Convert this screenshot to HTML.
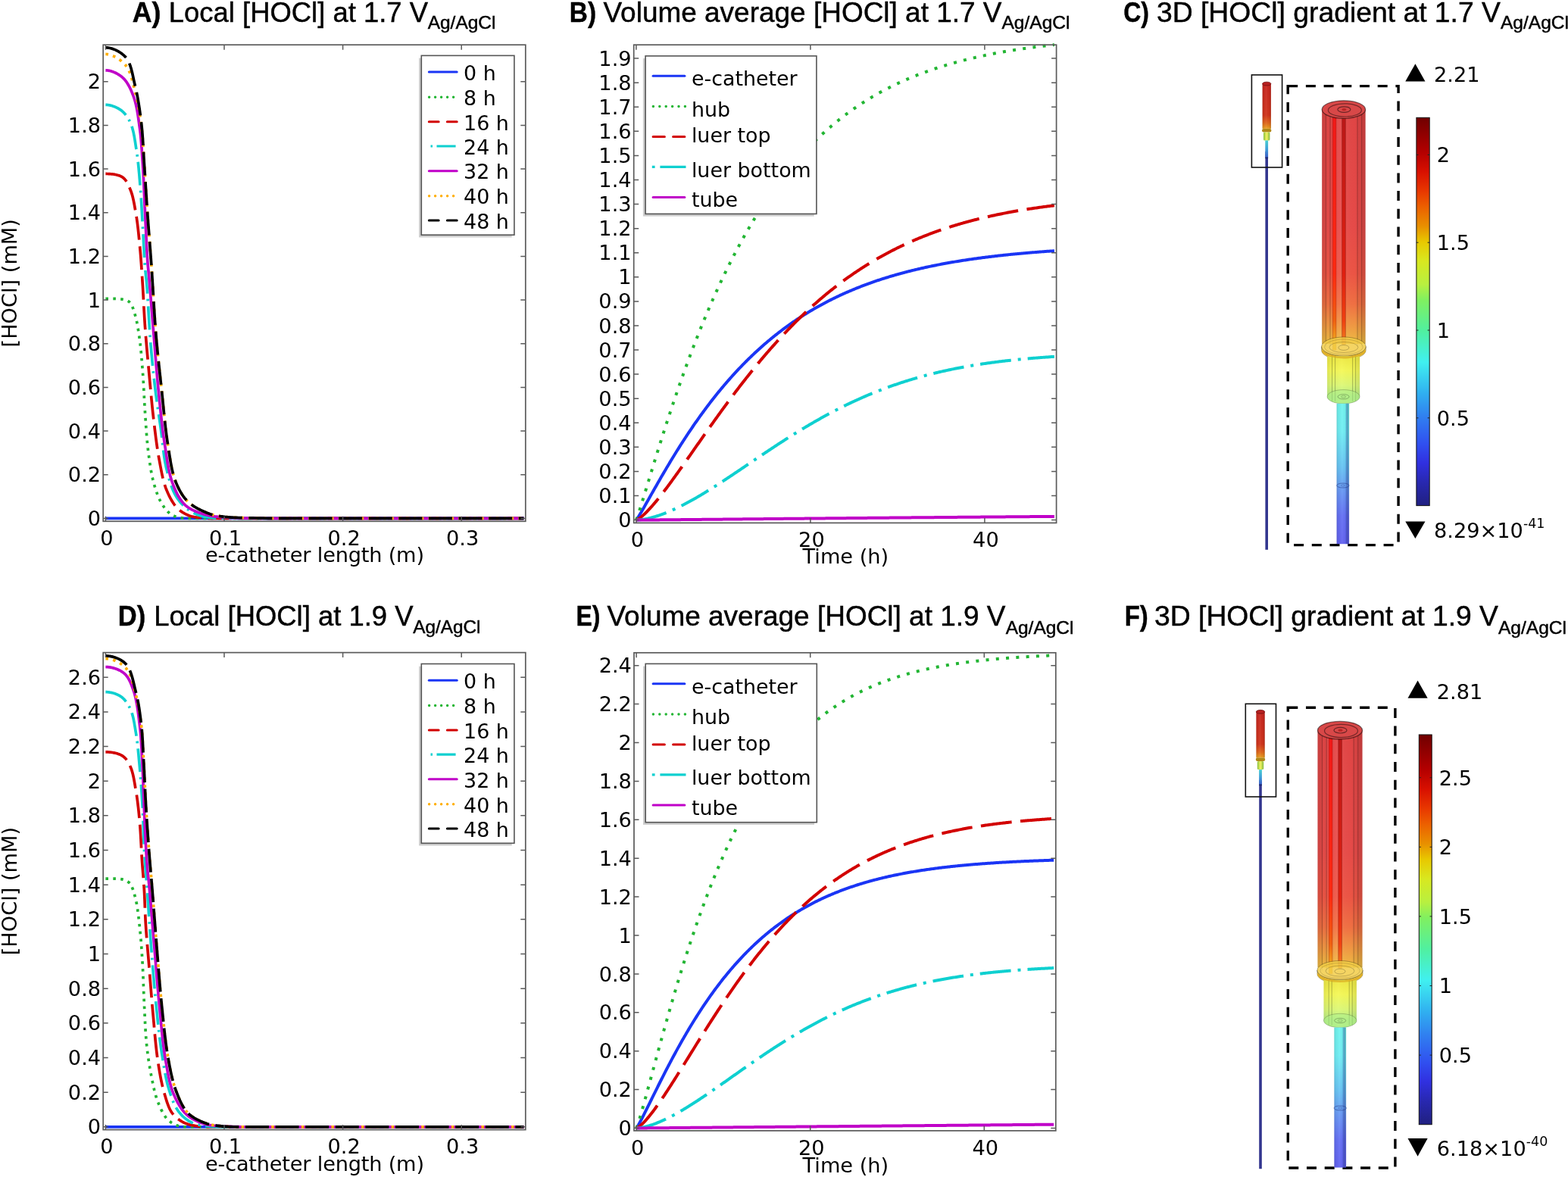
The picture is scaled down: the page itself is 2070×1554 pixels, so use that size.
<!DOCTYPE html><html><head><meta charset="utf-8"><style>html,body{margin:0;padding:0;background:#fff;overflow:hidden}svg{display:block}</style></head><body>
<svg width="2070" height="1554" viewBox="0 0 2070 1554">
<rect width="2070" height="1554" fill="#fff"/>
<defs>
<linearGradient id="cmap" x1="0" y1="0" x2="0" y2="1"><stop offset="0" stop-color="#700000"/><stop offset="0.09" stop-color="#b40000"/><stop offset="0.14" stop-color="#d81000"/><stop offset="0.19" stop-color="#e83800"/><stop offset="0.23" stop-color="#ec6000"/><stop offset="0.28" stop-color="#e89000"/><stop offset="0.32" stop-color="#e8c800"/><stop offset="0.37" stop-color="#d8e820"/><stop offset="0.43" stop-color="#b8f040"/><stop offset="0.47" stop-color="#80f060"/><stop offset="0.55" stop-color="#50f0a0"/><stop offset="0.63" stop-color="#40f0f0"/><stop offset="0.71" stop-color="#30b0f0"/><stop offset="0.77" stop-color="#3080f0"/><stop offset="0.84" stop-color="#3050f0"/><stop offset="0.89" stop-color="#3030e0"/><stop offset="0.94" stop-color="#2828b0"/><stop offset="1" stop-color="#202080"/></linearGradient>
<linearGradient id="hshade" x1="0" y1="0" x2="1" y2="0"><stop offset="0" stop-color="#000" stop-opacity="0.14"/><stop offset="0.12" stop-color="#000" stop-opacity="0.05"/><stop offset="0.45" stop-color="#fff" stop-opacity="0.06"/><stop offset="0.75" stop-color="#000" stop-opacity="0.02"/><stop offset="0.9" stop-color="#000" stop-opacity="0.1"/><stop offset="1" stop-color="#000" stop-opacity="0.18"/></linearGradient>
</defs>
<text x="174.8" y="29" style="font-family:'Liberation Sans',Arial,sans-serif;stroke:#000;stroke-width:0.45px;font-weight:bold" font-size="36.0" textLength="37.7" lengthAdjust="spacingAndGlyphs">A)</text>
<text x="222.8" y="29" style="font-family:'Liberation Sans',Arial,sans-serif;stroke:#000;stroke-width:0.45px" font-size="36.0" textLength="342.2" lengthAdjust="spacingAndGlyphs">Local [HOCl] at 1.7 V</text>
<text x="564.7" y="38.4" style="font-family:'Liberation Sans',Arial,sans-serif;stroke:#000;stroke-width:0.45px" font-size="23.6" textLength="89.8" lengthAdjust="spacingAndGlyphs">Ag/AgCl</text>
<text x="751.8" y="29" style="font-family:'Liberation Sans',Arial,sans-serif;stroke:#000;stroke-width:0.45px;font-weight:bold" font-size="36.0" textLength="35.2" lengthAdjust="spacingAndGlyphs">B)</text>
<text x="796.5" y="29" style="font-family:'Liberation Sans',Arial,sans-serif;stroke:#000;stroke-width:0.45px" font-size="36.0" textLength="526" lengthAdjust="spacingAndGlyphs">Volume average [HOCl] at 1.7 V</text>
<text x="1322.4" y="38.4" style="font-family:'Liberation Sans',Arial,sans-serif;stroke:#000;stroke-width:0.45px" font-size="23.6" textLength="90.1" lengthAdjust="spacingAndGlyphs">Ag/AgCl</text>
<text x="1483.3" y="29" style="font-family:'Liberation Sans',Arial,sans-serif;stroke:#000;stroke-width:0.45px;font-weight:bold" font-size="36.0" textLength="33.7" lengthAdjust="spacingAndGlyphs">C)</text>
<text x="1526.9" y="29" style="font-family:'Liberation Sans',Arial,sans-serif;stroke:#000;stroke-width:0.45px" font-size="36.0" textLength="454.1" lengthAdjust="spacingAndGlyphs">3D [HOCl] gradient at 1.7 V</text>
<text x="1981" y="38.4" style="font-family:'Liberation Sans',Arial,sans-serif;stroke:#000;stroke-width:0.45px" font-size="23.6" textLength="90" lengthAdjust="spacingAndGlyphs">Ag/AgCl</text>
<text x="155.8" y="826" style="font-family:'Liberation Sans',Arial,sans-serif;stroke:#000;stroke-width:0.45px;font-weight:bold" font-size="36.0" textLength="36.4" lengthAdjust="spacingAndGlyphs">D)</text>
<text x="203.3" y="826" style="font-family:'Liberation Sans',Arial,sans-serif;stroke:#000;stroke-width:0.45px" font-size="36.0" textLength="342.2" lengthAdjust="spacingAndGlyphs">Local [HOCl] at 1.9 V</text>
<text x="545.2" y="836.2" style="font-family:'Liberation Sans',Arial,sans-serif;stroke:#000;stroke-width:0.45px" font-size="23.6" textLength="89.3" lengthAdjust="spacingAndGlyphs">Ag/AgCl</text>
<text x="760.5" y="826" style="font-family:'Liberation Sans',Arial,sans-serif;stroke:#000;stroke-width:0.45px;font-weight:bold" font-size="36.0" textLength="32" lengthAdjust="spacingAndGlyphs">E)</text>
<text x="801.5" y="826" style="font-family:'Liberation Sans',Arial,sans-serif;stroke:#000;stroke-width:0.45px" font-size="36.0" textLength="526" lengthAdjust="spacingAndGlyphs">Volume average [HOCl] at 1.9 V</text>
<text x="1327.7" y="836.5" style="font-family:'Liberation Sans',Arial,sans-serif;stroke:#000;stroke-width:0.45px" font-size="23.6" textLength="89.8" lengthAdjust="spacingAndGlyphs">Ag/AgCl</text>
<text x="1484.8" y="826" style="font-family:'Liberation Sans',Arial,sans-serif;stroke:#000;stroke-width:0.45px;font-weight:bold" font-size="36.0" textLength="31" lengthAdjust="spacingAndGlyphs">F)</text>
<text x="1524" y="826" style="font-family:'Liberation Sans',Arial,sans-serif;stroke:#000;stroke-width:0.45px" font-size="36.0" textLength="454" lengthAdjust="spacingAndGlyphs">3D [HOCl] gradient at 1.9 V</text>
<text x="1978" y="836.5" style="font-family:'Liberation Sans',Arial,sans-serif;stroke:#000;stroke-width:0.45px" font-size="23.6" textLength="90" lengthAdjust="spacingAndGlyphs">Ag/AgCl</text>
<g style="font-family:'DejaVu Sans',sans-serif" font-size="27.2" fill="#000">
<path d="M139.4,684.4 H691.41" stroke="#1a35f5" stroke-width="3.7"/>
<path d="M139.4,394.37 L140.34,394.37 L141.3,394.36 L142.27,394.36 L143.25,394.35 L144.24,394.34 L145.24,394.33 L146.24,394.32 L147.24,394.32 L148.25,394.32 L149.25,394.32 L150.25,394.33 L151.24,394.34 L152.22,394.36 L153.19,394.38 L154.15,394.42 L155.09,394.46 L156.01,394.51 L156.92,394.58 L157.8,394.65 L158.65,394.74 L159.48,394.84 L160.29,394.96 L161.06,395.09 L161.79,395.24 L162.27,395.34 L162.73,395.44 L163.19,395.53 L163.64,395.63 L164.07,395.73 L164.5,395.82 L164.92,395.92 L165.33,396.03 L165.74,396.14 L166.13,396.25 L166.52,396.37 L166.91,396.5 L167.28,396.63 L167.65,396.78 L168.01,396.93 L168.37,397.1 L168.72,397.28 L169.06,397.48 L169.4,397.68 L169.74,397.91 L170.07,398.15 L170.39,398.41 L170.72,398.69 L171.03,398.98 L171.45,399.41 L171.85,399.87 L172.23,400.37 L172.6,400.89 L172.96,401.44 L173.31,402.02 L173.64,402.62 L173.96,403.25 L174.27,403.9 L174.57,404.58 L174.87,405.27 L175.15,405.98 L175.43,406.71 L175.7,407.45 L175.97,408.21 L176.23,408.98 L176.48,409.76 L176.74,410.55 L176.99,411.35 L177.24,412.15 L177.49,412.96 L177.74,413.78 L177.99,414.6 L178.24,415.42 L178.58,416.55 L178.9,417.72 L179.22,418.91 L179.53,420.13 L179.83,421.38 L180.12,422.66 L180.4,423.96 L180.68,425.28 L180.94,426.62 L181.2,427.98 L181.46,429.36 L181.7,430.75 L181.94,432.16 L182.18,433.59 L182.41,435.03 L182.64,436.47 L182.86,437.93 L183.08,439.4 L183.3,440.87 L183.51,442.35 L183.72,443.83 L183.93,445.31 L184.14,446.8 L184.34,448.28 L184.58,450.02 L184.81,451.78 L185.03,453.56 L185.25,455.36 L185.45,457.17 L185.65,459 L185.85,460.85 L186.04,462.7 L186.22,464.58 L186.4,466.46 L186.57,468.35 L186.74,470.26 L186.91,472.17 L187.07,474.09 L187.23,476.02 L187.38,477.96 L187.53,479.9 L187.69,481.84 L187.84,483.79 L187.98,485.74 L188.13,487.69 L188.28,489.64 L188.43,491.6 L188.57,493.55 L188.73,495.63 L188.87,497.73 L189.01,499.83 L189.15,501.95 L189.27,504.07 L189.4,506.21 L189.52,508.35 L189.63,510.5 L189.75,512.65 L189.86,514.81 L189.97,516.98 L190.08,519.14 L190.19,521.32 L190.3,523.49 L190.41,525.66 L190.52,527.84 L190.64,530.01 L190.75,532.18 L190.87,534.35 L191,536.52 L191.13,538.69 L191.26,540.85 L191.4,543 L191.55,545.15 L191.7,547.3 L191.84,549.45 L191.99,551.61 L192.13,553.78 L192.28,555.96 L192.42,558.13 L192.57,560.31 L192.72,562.49 L192.87,564.67 L193.02,566.84 L193.18,569.02 L193.34,571.19 L193.5,573.35 L193.67,575.51 L193.85,577.66 L194.03,579.81 L194.22,581.94 L194.41,584.06 L194.62,586.16 L194.83,588.26 L195.05,590.34 L195.28,592.4 L195.52,594.44 L195.78,596.47 L196.01,598.29 L196.25,600.1 L196.48,601.92 L196.72,603.73 L196.97,605.54 L197.22,607.34 L197.47,609.13 L197.73,610.92 L197.99,612.7 L198.26,614.48 L198.53,616.24 L198.82,617.99 L199.11,619.72 L199.41,621.45 L199.71,623.16 L200.03,624.85 L200.36,626.52 L200.7,628.18 L201.05,629.82 L201.41,631.44 L201.78,633.04 L202.17,634.61 L202.57,636.17 L202.98,637.7 L203.33,638.95 L203.69,640.19 L204.05,641.43 L204.41,642.66 L204.78,643.89 L205.16,645.1 L205.55,646.3 L205.94,647.5 L206.34,648.68 L206.74,649.84 L207.15,651 L207.57,652.14 L208,653.27 L208.44,654.38 L208.88,655.48 L209.34,656.56 L209.8,657.62 L210.27,658.66 L210.75,659.69 L211.24,660.69 L211.75,661.68 L212.26,662.64 L212.78,663.59 L213.32,664.51 L213.76,665.24 L214.2,665.97 L214.66,666.69 L215.12,667.4 L215.59,668.11 L216.06,668.8 L216.54,669.48 L217.02,670.16 L217.52,670.82 L218.01,671.47 L218.52,672.11 L219.03,672.73 L219.54,673.34 L220.06,673.94 L220.58,674.52 L221.11,675.08 L221.65,675.63 L222.19,676.15 L222.74,676.67 L223.29,677.16 L223.84,677.63 L224.4,678.08 L224.96,678.51 L225.53,678.92 L226.01,679.25 L226.49,679.56 L226.96,679.85 L227.44,680.13 L227.92,680.39 L228.39,680.64 L228.88,680.87 L229.36,681.09 L229.85,681.3 L230.34,681.5 L230.84,681.69 L231.34,681.86 L231.85,682.03 L232.36,682.2 L232.89,682.35 L233.42,682.5 L233.96,682.64 L234.51,682.78 L235.07,682.91 L235.64,683.04 L236.23,683.16 L236.82,683.29 L237.43,683.41 L238.06,683.54 L238.97,683.7 L239.91,683.84 L240.89,683.97 L241.89,684.08 L242.92,684.18 L243.98,684.26 L245.06,684.32 L246.16,684.38 L247.28,684.42 L248.41,684.45 L249.56,684.47 L250.72,684.49 L251.88,684.5 L253.06,684.5 L254.24,684.49 L255.42,684.48 L256.6,684.47 L257.78,684.46 L258.95,684.45 L260.12,684.43 L261.28,684.42 L262.43,684.41 L263.56,684.4 L264.68,684.4 L691.41,684.4" fill="none" stroke="#22b533" stroke-width="3.7" stroke-dasharray="3.6 6.3"  stroke-linejoin="round"/>
<path d="M139.4,229.46 L140.34,229.47 L141.3,229.48 L142.28,229.5 L143.27,229.54 L144.27,229.58 L145.27,229.64 L146.28,229.72 L147.3,229.81 L148.31,229.91 L149.32,230.03 L150.33,230.17 L151.32,230.33 L152.31,230.51 L153.29,230.71 L154.25,230.93 L155.19,231.18 L156.11,231.45 L157.01,231.74 L157.89,232.06 L158.73,232.4 L159.55,232.78 L160.33,233.18 L161.08,233.61 L161.79,234.08 L162.42,234.53 L163.01,235.01 L163.59,235.52 L164.14,236.06 L164.66,236.62 L165.17,237.2 L165.66,237.81 L166.12,238.44 L166.57,239.08 L167.01,239.75 L167.43,240.44 L167.84,241.14 L168.23,241.86 L168.62,242.59 L168.99,243.34 L169.36,244.1 L169.71,244.87 L170.07,245.65 L170.42,246.44 L170.76,247.24 L171.1,248.05 L171.44,248.86 L171.79,249.68 L172.13,250.51 L172.56,251.58 L172.97,252.68 L173.37,253.8 L173.75,254.95 L174.11,256.13 L174.47,257.33 L174.8,258.55 L175.13,259.79 L175.44,261.06 L175.74,262.33 L176.03,263.63 L176.32,264.94 L176.59,266.27 L176.86,267.6 L177.12,268.95 L177.38,270.31 L177.63,271.67 L177.88,273.05 L178.12,274.43 L178.36,275.81 L178.6,277.19 L178.85,278.58 L179.09,279.97 L179.33,281.36 L179.61,282.95 L179.88,284.56 L180.14,286.19 L180.39,287.83 L180.63,289.48 L180.87,291.15 L181.1,292.83 L181.32,294.52 L181.54,296.22 L181.75,297.93 L181.95,299.65 L182.15,301.39 L182.35,303.12 L182.54,304.87 L182.73,306.62 L182.92,308.38 L183.1,310.15 L183.28,311.91 L183.46,313.69 L183.64,315.46 L183.82,317.24 L183.99,319.02 L184.17,320.8 L184.34,322.58 L184.53,324.49 L184.71,326.41 L184.88,328.32 L185.06,330.24 L185.22,332.16 L185.38,334.08 L185.54,336.01 L185.7,337.95 L185.85,339.89 L186,341.84 L186.14,343.8 L186.29,345.76 L186.43,347.73 L186.57,349.72 L186.71,351.71 L186.84,353.71 L186.98,355.72 L187.12,357.74 L187.25,359.78 L187.39,361.83 L187.53,363.89 L187.67,365.96 L187.81,368.05 L187.95,370.15 L188.1,372.57 L188.26,375.01 L188.41,377.48 L188.56,379.97 L188.7,382.48 L188.84,385.01 L188.98,387.56 L189.12,390.13 L189.26,392.7 L189.4,395.29 L189.53,397.89 L189.67,400.5 L189.81,403.12 L189.95,405.74 L190.09,408.36 L190.24,410.99 L190.39,413.62 L190.54,416.24 L190.69,418.86 L190.85,421.48 L191.02,424.09 L191.19,426.68 L191.37,429.27 L191.55,431.85 L191.74,434.42 L191.93,436.99 L192.13,439.56 L192.33,442.14 L192.53,444.71 L192.74,447.28 L192.95,449.85 L193.17,452.42 L193.38,454.99 L193.6,457.56 L193.83,460.13 L194.05,462.7 L194.28,465.27 L194.51,467.84 L194.74,470.41 L194.98,472.98 L195.21,475.56 L195.45,478.13 L195.68,480.7 L195.92,483.27 L196.16,485.84 L196.4,488.41 L196.63,490.98 L196.87,493.55 L197.11,496.12 L197.35,498.71 L197.59,501.3 L197.82,503.9 L198.06,506.5 L198.3,509.1 L198.54,511.71 L198.78,514.32 L199.03,516.93 L199.27,519.54 L199.52,522.15 L199.76,524.75 L200.01,527.35 L200.27,529.94 L200.52,532.52 L200.78,535.1 L201.04,537.66 L201.31,540.21 L201.57,542.76 L201.85,545.29 L202.12,547.8 L202.4,550.3 L202.69,552.78 L202.98,555.24 L203.25,557.49 L203.51,559.73 L203.78,561.97 L204.05,564.21 L204.32,566.43 L204.59,568.66 L204.86,570.87 L205.14,573.08 L205.41,575.28 L205.69,577.47 L205.98,579.65 L206.26,581.82 L206.55,583.98 L206.85,586.13 L207.15,588.26 L207.46,590.39 L207.78,592.5 L208.1,594.6 L208.42,596.68 L208.76,598.74 L209.1,600.8 L209.45,602.83 L209.81,604.85 L210.18,606.85 L210.51,608.59 L210.83,610.33 L211.15,612.07 L211.47,613.8 L211.78,615.52 L212.1,617.24 L212.42,618.94 L212.75,620.64 L213.08,622.33 L213.41,624.01 L213.75,625.68 L214.11,627.33 L214.47,628.97 L214.84,630.59 L215.22,632.2 L215.62,633.79 L216.03,635.36 L216.46,636.91 L216.9,638.44 L217.36,639.95 L217.85,641.44 L218.35,642.91 L218.87,644.35 L219.42,645.77 L219.9,646.96 L220.39,648.14 L220.89,649.32 L221.4,650.49 L221.93,651.65 L222.46,652.81 L223,653.95 L223.55,655.08 L224.12,656.2 L224.69,657.31 L225.27,658.4 L225.87,659.47 L226.47,660.52 L227.09,661.56 L227.72,662.57 L228.35,663.56 L229,664.53 L229.66,665.48 L230.33,666.4 L231.01,667.29 L231.7,668.15 L232.4,668.99 L233.11,669.79 L233.83,670.56 L234.43,671.17 L235.04,671.77 L235.66,672.34 L236.28,672.9 L236.92,673.44 L237.55,673.96 L238.2,674.47 L238.85,674.96 L239.51,675.43 L240.18,675.89 L240.86,676.34 L241.54,676.77 L242.23,677.18 L242.92,677.58 L243.63,677.97 L244.34,678.35 L245.05,678.71 L245.78,679.06 L246.51,679.4 L247.25,679.73 L247.99,680.05 L248.75,680.36 L249.51,680.65 L250.27,680.94 L251.11,681.23 L251.96,681.5 L252.82,681.75 L253.7,681.98 L254.58,682.19 L255.48,682.38 L256.39,682.56 L257.31,682.72 L258.23,682.86 L259.17,682.99 L260.11,683.11 L261.05,683.22 L262,683.32 L262.95,683.41 L263.91,683.5 L264.87,683.57 L265.83,683.64 L266.79,683.71 L267.75,683.78 L268.71,683.84 L269.66,683.91 L270.62,683.97 L271.57,684.04 L272.51,684.11 L273.47,684.18 L274.44,684.24 L275.41,684.29 L276.38,684.34 L277.35,684.38 L278.33,684.41 L279.31,684.43 L280.28,684.45 L281.26,684.46 L282.24,684.47 L283.23,684.48 L284.21,684.48 L285.19,684.48 L286.17,684.47 L287.16,684.47 L288.14,684.46 L289.13,684.45 L290.11,684.44 L291.09,684.43 L292.08,684.42 L293.06,684.41 L294.04,684.41 L295.02,684.4 L296,684.4 L691.41,684.4" fill="none" stroke="#d20000" stroke-width="3.7" stroke-dasharray="31 8.6"  stroke-linejoin="round"/>
<path d="M139.4,138.36 L140.25,138.38 L141.12,138.42 L142,138.5 L142.88,138.61 L143.77,138.75 L144.67,138.92 L145.57,139.11 L146.47,139.33 L147.38,139.58 L148.28,139.85 L149.17,140.14 L150.06,140.45 L150.95,140.79 L151.83,141.14 L152.69,141.52 L153.55,141.91 L154.39,142.32 L155.22,142.74 L156.02,143.18 L156.81,143.64 L157.59,144.1 L158.33,144.58 L159.06,145.07 L159.76,145.57 L160.42,146.07 L161.07,146.58 L161.7,147.11 L162.31,147.66 L162.91,148.23 L163.5,148.81 L164.07,149.4 L164.63,150.02 L165.18,150.64 L165.71,151.29 L166.23,151.95 L166.74,152.63 L167.24,153.32 L167.73,154.03 L168.21,154.75 L168.68,155.49 L169.14,156.25 L169.59,157.02 L170.03,157.81 L170.47,158.62 L170.89,159.44 L171.31,160.28 L171.72,161.13 L172.13,162 L172.66,163.22 L173.17,164.48 L173.65,165.79 L174.11,167.14 L174.54,168.52 L174.95,169.95 L175.34,171.4 L175.71,172.89 L176.07,174.41 L176.41,175.96 L176.73,177.53 L177.04,179.13 L177.34,180.74 L177.63,182.38 L177.91,184.03 L178.18,185.69 L178.45,187.36 L178.71,189.04 L178.97,190.73 L179.23,192.43 L179.49,194.12 L179.75,195.81 L180.01,197.51 L180.27,199.19 L180.58,201.16 L180.87,203.16 L181.15,205.19 L181.43,207.24 L181.69,209.31 L181.94,211.41 L182.18,213.52 L182.41,215.65 L182.64,217.79 L182.86,219.95 L183.07,222.12 L183.27,224.3 L183.47,226.48 L183.67,228.67 L183.86,230.87 L184.04,233.07 L184.22,235.26 L184.4,237.46 L184.58,239.65 L184.75,241.84 L184.92,244.02 L185.1,246.2 L185.27,248.36 L185.44,250.51 L185.61,252.65 L185.77,254.8 L185.93,256.95 L186.08,259.1 L186.23,261.25 L186.37,263.4 L186.51,265.55 L186.64,267.7 L186.77,269.85 L186.9,272 L187.02,274.15 L187.14,276.31 L187.26,278.46 L187.38,280.61 L187.5,282.76 L187.62,284.91 L187.73,287.07 L187.85,289.22 L187.96,291.37 L188.08,293.52 L188.2,295.67 L188.32,297.82 L188.45,299.97 L188.57,302.11 L188.7,304.27 L188.82,306.47 L188.95,308.69 L189.07,310.93 L189.19,313.19 L189.32,315.47 L189.44,317.75 L189.56,320.04 L189.68,322.33 L189.8,324.61 L189.92,326.89 L190.04,329.15 L190.16,331.39 L190.28,333.61 L190.4,335.8 L190.53,337.95 L190.65,340.07 L190.77,342.14 L190.9,344.17 L191.03,346.15 L191.15,348.07 L191.28,349.92 L191.41,351.71 L191.55,353.43 L191.63,354.5 L191.72,355.51 L191.81,356.49 L191.9,357.42 L191.99,358.31 L192.07,359.17 L192.16,360.01 L192.25,360.83 L192.34,361.63 L192.43,362.42 L192.52,363.2 L192.61,363.99 L192.7,364.77 L192.79,365.57 L192.89,366.37 L192.98,367.2 L193.07,368.05 L193.16,368.92 L193.26,369.84 L193.35,370.78 L193.45,371.77 L193.55,372.81 L193.64,373.9 L193.74,375.05 L193.93,377.37 L194.11,379.85 L194.3,382.49 L194.49,385.27 L194.67,388.19 L194.86,391.22 L195.06,394.36 L195.25,397.6 L195.44,400.92 L195.64,404.31 L195.84,407.75 L196.04,411.25 L196.25,414.77 L196.46,418.32 L196.67,421.88 L196.88,425.44 L197.1,428.98 L197.33,432.49 L197.55,435.96 L197.78,439.39 L198.02,442.75 L198.26,446.03 L198.5,449.22 L198.75,452.32 L198.98,455.04 L199.21,457.75 L199.44,460.44 L199.68,463.12 L199.92,465.79 L200.16,468.44 L200.4,471.08 L200.65,473.71 L200.9,476.33 L201.16,478.94 L201.41,481.53 L201.67,484.12 L201.93,486.69 L202.2,489.25 L202.47,491.8 L202.74,494.34 L203.01,496.87 L203.29,499.39 L203.57,501.9 L203.85,504.4 L204.14,506.89 L204.43,509.37 L204.72,511.84 L205.02,514.3 L205.29,516.54 L205.57,518.75 L205.85,520.95 L206.13,523.14 L206.42,525.32 L206.72,527.48 L207.01,529.63 L207.31,531.77 L207.61,533.9 L207.92,536.03 L208.22,538.15 L208.53,540.26 L208.84,542.37 L209.15,544.48 L209.46,546.58 L209.77,548.69 L210.08,550.79 L210.39,552.9 L210.7,555.01 L211,557.12 L211.31,559.23 L211.61,561.35 L211.92,563.48 L212.22,565.62 L212.51,567.78 L212.8,569.95 L213.07,572.13 L213.33,574.32 L213.59,576.53 L213.84,578.74 L214.09,580.95 L214.34,583.17 L214.59,585.38 L214.84,587.6 L215.09,589.81 L215.35,592.01 L215.61,594.21 L215.88,596.39 L216.16,598.57 L216.46,600.73 L216.76,602.87 L217.09,604.99 L217.42,607.1 L217.78,609.18 L218.16,611.23 L218.56,613.26 L218.98,615.26 L219.42,617.23 L219.82,618.91 L220.22,620.6 L220.63,622.29 L221.05,623.97 L221.47,625.64 L221.9,627.31 L222.34,628.97 L222.78,630.62 L223.24,632.26 L223.71,633.88 L224.19,635.49 L224.68,637.08 L225.18,638.65 L225.7,640.2 L226.23,641.72 L226.78,643.23 L227.34,644.7 L227.92,646.15 L228.52,647.56 L229.13,648.95 L229.77,650.3 L230.42,651.61 L231.1,652.89 L231.79,654.13 L232.36,655.09 L232.94,656.03 L233.53,656.96 L234.14,657.87 L234.75,658.76 L235.37,659.63 L236.01,660.48 L236.65,661.32 L237.3,662.14 L237.97,662.95 L238.64,663.73 L239.33,664.51 L240.02,665.26 L240.72,666 L241.43,666.73 L242.15,667.43 L242.88,668.13 L243.62,668.81 L244.37,669.47 L245.13,670.12 L245.89,670.76 L246.67,671.38 L247.45,671.99 L248.24,672.58 L249,673.14 L249.76,673.67 L250.53,674.2 L251.3,674.71 L252.08,675.2 L252.86,675.68 L253.65,676.14 L254.44,676.59 L255.25,677.03 L256.06,677.45 L256.89,677.86 L257.72,678.26 L258.57,678.64 L259.42,679.01 L260.3,679.37 L261.18,679.72 L262.09,680.05 L263.01,680.37 L263.94,680.69 L264.9,680.99 L265.87,681.28 L266.86,681.56 L267.87,681.83 L268.91,682.09 L270.37,682.43 L271.88,682.72 L273.44,682.98 L275.05,683.21 L276.69,683.4 L278.38,683.57 L280.1,683.71 L281.85,683.82 L283.63,683.91 L285.44,683.99 L287.27,684.04 L289.12,684.09 L290.98,684.11 L292.86,684.13 L294.75,684.14 L296.64,684.15 L298.54,684.15 L300.44,684.15 L302.33,684.15 L304.22,684.16 L306.1,684.17 L307.97,684.18 L309.83,684.21 L311.66,684.26 L313.57,684.3 L315.5,684.34 L317.43,684.38 L319.36,684.41 L321.3,684.43 L323.25,684.45 L325.2,684.47 L327.15,684.48 L329.11,684.48 L331.08,684.48 L333.04,684.48 L335.01,684.48 L336.98,684.48 L338.95,684.47 L340.92,684.46 L342.9,684.45 L344.87,684.44 L346.84,684.44 L348.81,684.43 L350.78,684.42 L352.75,684.41 L354.72,684.4 L356.68,684.4 L358.64,684.4 L691.41,684.4" fill="none" stroke="#0fd0d0" stroke-width="3.7" stroke-dasharray="31 7 2.8 7"  stroke-linejoin="round"/>
<path d="M139.4,92.81 L140.34,92.83 L141.29,92.89 L142.26,93 L143.23,93.15 L144.22,93.33 L145.2,93.55 L146.2,93.81 L147.19,94.1 L148.18,94.42 L149.17,94.78 L150.16,95.16 L151.14,95.58 L152.12,96.02 L153.08,96.49 L154.04,96.98 L154.98,97.5 L155.9,98.04 L156.81,98.6 L157.7,99.18 L158.57,99.78 L159.41,100.39 L160.23,101.02 L161.03,101.67 L161.79,102.32 L162.6,103.06 L163.38,103.83 L164.14,104.64 L164.87,105.49 L165.59,106.36 L166.28,107.27 L166.96,108.2 L167.62,109.16 L168.26,110.15 L168.88,111.16 L169.49,112.2 L170.08,113.25 L170.65,114.33 L171.21,115.43 L171.76,116.54 L172.3,117.67 L172.82,118.82 L173.33,119.98 L173.83,121.14 L174.32,122.32 L174.8,123.51 L175.28,124.71 L175.74,125.91 L176.2,127.12 L176.74,128.59 L177.25,130.11 L177.73,131.65 L178.2,133.22 L178.63,134.82 L179.05,136.45 L179.44,138.1 L179.82,139.77 L180.18,141.46 L180.52,143.18 L180.85,144.91 L181.17,146.66 L181.47,148.42 L181.76,150.2 L182.04,151.99 L182.31,153.78 L182.58,155.59 L182.84,157.41 L183.09,159.22 L183.34,161.05 L183.59,162.87 L183.84,164.7 L184.09,166.52 L184.34,168.34 L184.62,170.36 L184.88,172.4 L185.12,174.44 L185.36,176.5 L185.58,178.56 L185.79,180.64 L185.99,182.73 L186.18,184.83 L186.36,186.94 L186.54,189.06 L186.7,191.19 L186.86,193.33 L187.02,195.48 L187.17,197.64 L187.31,199.8 L187.46,201.98 L187.6,204.16 L187.73,206.35 L187.87,208.55 L188.01,210.76 L188.15,212.98 L188.29,215.2 L188.43,217.43 L188.57,219.66 L188.73,222.12 L188.88,224.6 L189.03,227.1 L189.17,229.61 L189.3,232.14 L189.43,234.68 L189.56,237.23 L189.69,239.8 L189.81,242.37 L189.93,244.95 L190.04,247.54 L190.16,250.14 L190.27,252.74 L190.39,255.35 L190.5,257.96 L190.61,260.57 L190.72,263.18 L190.83,265.79 L190.95,268.4 L191.06,271 L191.18,273.6 L191.3,276.19 L191.42,278.78 L191.55,281.36 L191.68,283.96 L191.8,286.61 L191.93,289.3 L192.06,292.01 L192.18,294.76 L192.31,297.52 L192.44,300.3 L192.56,303.08 L192.69,305.87 L192.82,308.64 L192.95,311.41 L193.07,314.15 L193.2,316.87 L193.33,319.56 L193.46,322.22 L193.59,324.82 L193.73,327.38 L193.86,329.88 L193.99,332.32 L194.13,334.69 L194.26,336.98 L194.4,339.19 L194.54,341.31 L194.68,343.34 L194.77,344.54 L194.85,345.69 L194.94,346.78 L195.02,347.83 L195.11,348.83 L195.19,349.8 L195.28,350.74 L195.36,351.66 L195.45,352.55 L195.53,353.43 L195.62,354.31 L195.71,355.18 L195.8,356.05 L195.88,356.92 L195.98,357.81 L196.07,358.72 L196.16,359.65 L196.26,360.61 L196.35,361.61 L196.45,362.64 L196.55,363.72 L196.66,364.85 L196.76,366.03 L196.87,367.27 L197.07,369.6 L197.28,372.06 L197.5,374.66 L197.72,377.37 L197.96,380.19 L198.2,383.11 L198.44,386.13 L198.69,389.22 L198.95,392.39 L199.21,395.62 L199.47,398.91 L199.74,402.24 L200.01,405.6 L200.28,408.99 L200.56,412.4 L200.83,415.81 L201.1,419.22 L201.38,422.62 L201.65,425.99 L201.92,429.34 L202.19,432.64 L202.46,435.9 L202.72,439.1 L202.98,442.23 L203.23,445.26 L203.48,448.28 L203.72,451.31 L203.97,454.33 L204.21,457.34 L204.45,460.35 L204.69,463.36 L204.93,466.37 L205.16,469.37 L205.4,472.37 L205.65,475.37 L205.89,478.37 L206.13,481.37 L206.38,484.36 L206.63,487.36 L206.88,490.35 L207.14,493.34 L207.4,496.34 L207.67,499.33 L207.94,502.32 L208.22,505.32 L208.5,508.31 L208.79,511.31 L209.09,514.3 L209.39,517.31 L209.69,520.33 L209.99,523.37 L210.3,526.42 L210.6,529.48 L210.91,532.55 L211.22,535.63 L211.54,538.7 L211.86,541.78 L212.18,544.85 L212.51,547.92 L212.84,550.98 L213.18,554.02 L213.53,557.06 L213.88,560.08 L214.23,563.07 L214.6,566.05 L214.97,569.01 L215.35,571.94 L215.74,574.83 L216.14,577.7 L216.54,580.54 L216.96,583.33 L217.39,586.09 L217.75,588.42 L218.11,590.76 L218.46,593.08 L218.8,595.4 L219.15,597.71 L219.49,600.02 L219.83,602.31 L220.18,604.58 L220.54,606.84 L220.9,609.09 L221.26,611.31 L221.64,613.51 L222.04,615.7 L222.44,617.85 L222.87,619.98 L223.31,622.09 L223.77,624.16 L224.26,626.2 L224.76,628.21 L225.3,630.18 L225.86,632.12 L226.45,634.02 L227.07,635.88 L227.72,637.7 L228.26,639.12 L228.8,640.53 L229.35,641.92 L229.91,643.31 L230.48,644.68 L231.06,646.03 L231.65,647.37 L232.25,648.69 L232.87,650 L233.49,651.28 L234.13,652.54 L234.79,653.78 L235.47,655 L236.16,656.19 L236.86,657.35 L237.59,658.5 L238.34,659.61 L239.1,660.69 L239.89,661.75 L240.7,662.77 L241.53,663.76 L242.38,664.72 L243.26,665.64 L244.17,666.53 L245.02,667.3 L245.9,668.05 L246.8,668.77 L247.73,669.46 L248.68,670.12 L249.66,670.76 L250.65,671.37 L251.66,671.95 L252.69,672.52 L253.73,673.06 L254.78,673.58 L255.85,674.08 L256.93,674.56 L258.01,675.02 L259.1,675.47 L260.19,675.9 L261.29,676.32 L262.39,676.72 L263.48,677.11 L264.58,677.49 L265.67,677.86 L266.76,678.22 L267.84,678.58 L268.91,678.92 L269.93,679.24 L270.95,679.54 L271.97,679.82 L272.97,680.08 L273.98,680.32 L274.98,680.54 L275.99,680.75 L276.99,680.94 L278,681.12 L279.01,681.29 L280.03,681.45 L281.05,681.59 L282.08,681.73 L283.13,681.86 L284.18,681.98 L285.25,682.1 L286.33,682.21 L287.43,682.32 L288.54,682.42 L289.68,682.53 L290.83,682.63 L292.01,682.74 L293.21,682.85 L294.43,682.96 L296.16,683.11 L297.93,683.24 L299.76,683.36 L301.63,683.47 L303.54,683.57 L305.49,683.65 L307.47,683.73 L309.48,683.8 L311.53,683.85 L313.59,683.91 L315.68,683.95 L317.78,683.99 L319.89,684.02 L322.01,684.05 L324.14,684.07 L326.28,684.09 L328.41,684.11 L330.53,684.13 L332.65,684.15 L334.75,684.16 L336.84,684.18 L338.91,684.2 L340.96,684.23 L342.98,684.26 L344.95,684.28 L346.92,684.31 L348.89,684.33 L350.85,684.35 L352.82,684.36 L354.78,684.38 L356.74,684.39 L358.7,684.4 L360.65,684.4 L362.61,684.41 L364.56,684.41 L366.52,684.42 L368.47,684.42 L370.42,684.42 L372.38,684.42 L374.33,684.41 L376.28,684.41 L378.23,684.41 L380.19,684.41 L382.14,684.41 L384.09,684.4 L386.05,684.4 L388,684.4 L389.96,684.4 L691.41,684.4" fill="none" stroke="#c000c8" stroke-width="3.7"   stroke-linejoin="round"/>
<path d="M139.4,71.47 L140.51,71.51 L141.65,71.62 L142.81,71.8 L143.98,72.04 L145.16,72.34 L146.36,72.71 L147.56,73.13 L148.76,73.61 L149.96,74.14 L151.16,74.71 L152.35,75.33 L153.54,75.99 L154.71,76.7 L155.87,77.44 L157,78.21 L158.12,79.01 L159.21,79.84 L160.27,80.69 L161.3,81.57 L162.29,82.47 L163.25,83.38 L164.17,84.3 L165.04,85.24 L165.87,86.18 L166.72,87.25 L167.53,88.37 L168.29,89.54 L169,90.77 L169.67,92.03 L170.3,93.35 L170.9,94.7 L171.46,96.09 L172,97.51 L172.5,98.96 L172.98,100.44 L173.44,101.94 L173.88,103.46 L174.3,105.01 L174.71,106.57 L175.11,108.14 L175.5,109.72 L175.88,111.3 L176.27,112.89 L176.65,114.48 L177.03,116.06 L177.42,117.64 L177.82,119.21 L178.24,120.77 L178.7,122.51 L179.14,124.25 L179.58,126.01 L180,127.79 L180.42,129.58 L180.82,131.38 L181.21,133.19 L181.59,135.01 L181.96,136.85 L182.32,138.69 L182.68,140.55 L183.02,142.42 L183.35,144.29 L183.68,146.18 L184,148.07 L184.31,149.98 L184.61,151.89 L184.9,153.81 L185.19,155.73 L185.47,157.67 L185.75,159.61 L186.02,161.55 L186.28,163.5 L186.54,165.46 L186.81,167.61 L187.06,169.77 L187.3,171.94 L187.52,174.13 L187.73,176.33 L187.93,178.54 L188.11,180.75 L188.29,182.98 L188.46,185.22 L188.62,187.47 L188.77,189.73 L188.91,191.99 L189.06,194.26 L189.19,196.54 L189.33,198.83 L189.46,201.13 L189.6,203.43 L189.73,205.73 L189.87,208.04 L190,210.36 L190.15,212.68 L190.29,215 L190.45,217.33 L190.61,219.66 L190.78,222.15 L190.95,224.65 L191.13,227.16 L191.29,229.67 L191.46,232.2 L191.63,234.73 L191.79,237.26 L191.96,239.81 L192.12,242.36 L192.28,244.92 L192.45,247.48 L192.61,250.05 L192.78,252.63 L192.94,255.22 L193.11,257.81 L193.27,260.4 L193.44,263 L193.61,265.61 L193.78,268.22 L193.96,270.84 L194.13,273.46 L194.31,276.09 L194.49,278.72 L194.68,281.36 L194.88,284.14 L195.08,286.92 L195.28,289.69 L195.49,292.47 L195.7,295.24 L195.91,298.02 L196.12,300.8 L196.33,303.58 L196.55,306.38 L196.76,309.17 L196.98,311.98 L197.2,314.8 L197.42,317.63 L197.64,320.48 L197.86,323.34 L198.08,326.21 L198.31,329.11 L198.53,332.02 L198.75,334.95 L198.97,337.91 L199.19,340.88 L199.41,343.89 L199.63,346.92 L199.85,349.97 L200.1,353.56 L200.34,357.22 L200.59,360.93 L200.83,364.69 L201.07,368.5 L201.31,372.35 L201.55,376.23 L201.79,380.14 L202.03,384.07 L202.26,388.03 L202.51,391.99 L202.75,395.96 L202.99,399.94 L203.24,403.91 L203.49,407.87 L203.74,411.82 L204,415.75 L204.26,419.65 L204.53,423.52 L204.8,427.36 L205.08,431.15 L205.36,434.9 L205.66,438.59 L205.96,442.23 L206.23,445.4 L206.5,448.55 L206.78,451.67 L207.07,454.76 L207.35,457.83 L207.65,460.88 L207.94,463.91 L208.24,466.93 L208.55,469.92 L208.85,472.91 L209.16,475.88 L209.47,478.84 L209.78,481.79 L210.1,484.74 L210.42,487.68 L210.73,490.63 L211.06,493.57 L211.38,496.51 L211.7,499.45 L212.02,502.41 L212.34,505.36 L212.67,508.33 L212.99,511.31 L213.32,514.3 L213.64,517.31 L213.95,520.34 L214.26,523.38 L214.57,526.44 L214.88,529.51 L215.19,532.58 L215.49,535.67 L215.8,538.75 L216.11,541.84 L216.42,544.92 L216.73,548 L217.05,551.06 L217.37,554.12 L217.7,557.16 L218.03,560.18 L218.38,563.18 L218.72,566.16 L219.08,569.11 L219.45,572.03 L219.83,574.92 L220.22,577.77 L220.62,580.59 L221.03,583.36 L221.46,586.09 L221.82,588.35 L222.17,590.61 L222.52,592.87 L222.86,595.11 L223.2,597.35 L223.54,599.57 L223.88,601.78 L224.23,603.97 L224.58,606.15 L224.94,608.31 L225.31,610.45 L225.69,612.57 L226.08,614.67 L226.49,616.74 L226.91,618.78 L227.36,620.79 L227.82,622.78 L228.31,624.73 L228.82,626.65 L229.35,628.53 L229.92,630.38 L230.51,632.18 L231.14,633.95 L231.79,635.68 L232.33,637.01 L232.87,638.33 L233.43,639.62 L233.99,640.9 L234.56,642.17 L235.14,643.41 L235.73,644.63 L236.34,645.84 L236.96,647.03 L237.59,648.19 L238.23,649.34 L238.89,650.47 L239.57,651.58 L240.26,652.68 L240.97,653.75 L241.7,654.8 L242.44,655.83 L243.21,656.84 L243.99,657.84 L244.8,658.81 L245.62,659.76 L246.47,660.69 L247.34,661.6 L248.24,662.49 L249.16,663.35 L250.11,664.19 L251.1,665.01 L252.13,665.81 L253.18,666.59 L254.26,667.35 L255.37,668.1 L256.5,668.82 L257.64,669.52 L258.8,670.21 L259.97,670.87 L261.15,671.52 L262.34,672.14 L263.53,672.75 L264.73,673.34 L265.92,673.9 L267.1,674.45 L268.28,674.98 L269.45,675.49 L270.6,675.99 L271.74,676.46 L272.85,676.92 L273.95,677.35 L275.02,677.77 L275.85,678.09 L276.67,678.38 L277.47,678.66 L278.25,678.93 L279.03,679.17 L279.79,679.4 L280.54,679.62 L281.29,679.82 L282.03,680.01 L282.78,680.19 L283.52,680.36 L284.27,680.52 L285.03,680.67 L285.79,680.82 L286.57,680.96 L287.36,681.09 L288.16,681.22 L288.98,681.34 L289.83,681.47 L290.69,681.59 L291.58,681.71 L292.5,681.84 L293.45,681.96 L294.43,682.09 L296.03,682.29 L297.68,682.47 L299.4,682.63 L301.17,682.78 L302.99,682.92 L304.86,683.04 L306.78,683.16 L308.74,683.26 L310.74,683.35 L312.77,683.43 L314.84,683.5 L316.93,683.57 L319.05,683.63 L321.19,683.68 L323.35,683.73 L325.52,683.78 L327.7,683.82 L329.89,683.86 L332.08,683.9 L334.27,683.94 L336.46,683.98 L338.65,684.02 L340.82,684.06 L342.98,684.11 L345.44,684.16 L347.92,684.21 L350.43,684.25 L352.96,684.29 L355.51,684.32 L358.08,684.35 L360.66,684.37 L363.27,684.39 L365.88,684.4 L368.51,684.41 L371.15,684.42 L373.8,684.43 L376.46,684.43 L379.12,684.43 L381.78,684.43 L384.44,684.43 L387.11,684.42 L389.77,684.42 L392.43,684.41 L395.09,684.41 L397.74,684.41 L400.37,684.4 L403,684.4 L405.62,684.4 L691.41,684.4" fill="none" stroke="#ffae00" stroke-width="3.7" stroke-dasharray="3.6 6.3"  stroke-linejoin="round"/>
<path d="M139.4,62.83 L140.51,62.85 L141.65,62.94 L142.81,63.07 L143.98,63.26 L145.16,63.5 L146.36,63.79 L147.56,64.12 L148.76,64.5 L149.97,64.93 L151.17,65.4 L152.36,65.9 L153.55,66.45 L154.72,67.04 L155.87,67.66 L157.01,68.31 L158.13,69 L159.22,69.72 L160.28,70.47 L161.31,71.25 L162.3,72.06 L163.26,72.89 L164.17,73.74 L165.04,74.61 L165.87,75.51 L166.76,76.59 L167.6,77.74 L168.38,78.96 L169.11,80.24 L169.8,81.58 L170.44,82.97 L171.04,84.41 L171.61,85.89 L172.14,87.42 L172.64,88.99 L173.12,90.59 L173.57,92.22 L173.99,93.87 L174.41,95.55 L174.8,97.25 L175.19,98.96 L175.56,100.68 L175.93,102.41 L176.3,104.14 L176.67,105.87 L177.05,107.6 L177.43,109.31 L177.83,111.02 L178.24,112.7 L178.7,114.6 L179.15,116.53 L179.59,118.46 L180.02,120.42 L180.43,122.39 L180.84,124.38 L181.23,126.39 L181.61,128.41 L181.98,130.44 L182.34,132.48 L182.69,134.54 L183.03,136.61 L183.37,138.68 L183.69,140.77 L184.01,142.87 L184.32,144.97 L184.62,147.08 L184.91,149.2 L185.19,151.32 L185.47,153.45 L185.75,155.59 L186.02,157.72 L186.28,159.86 L186.54,162 L186.8,164.31 L187.05,166.63 L187.29,168.96 L187.51,171.31 L187.72,173.66 L187.91,176.03 L188.1,178.41 L188.27,180.79 L188.44,183.18 L188.6,185.58 L188.75,187.99 L188.9,190.41 L189.04,192.83 L189.18,195.25 L189.31,197.68 L189.45,200.12 L189.58,202.55 L189.72,204.99 L189.86,207.44 L190,209.88 L190.14,212.33 L190.29,214.77 L190.45,217.22 L190.61,219.66 L190.78,222.19 L190.95,224.72 L191.12,227.25 L191.29,229.78 L191.45,232.32 L191.62,234.86 L191.78,237.4 L191.95,239.95 L192.11,242.5 L192.27,245.05 L192.44,247.61 L192.6,250.17 L192.77,252.74 L192.93,255.31 L193.1,257.89 L193.27,260.47 L193.44,263.06 L193.61,265.65 L193.78,268.25 L193.96,270.86 L194.13,273.47 L194.31,276.09 L194.49,278.72 L194.68,281.36 L194.88,284.14 L195.08,286.92 L195.28,289.69 L195.49,292.47 L195.7,295.24 L195.91,298.02 L196.12,300.8 L196.33,303.58 L196.55,306.38 L196.76,309.17 L196.98,311.98 L197.2,314.8 L197.42,317.63 L197.64,320.48 L197.86,323.34 L198.08,326.21 L198.31,329.11 L198.53,332.02 L198.75,334.95 L198.97,337.91 L199.19,340.88 L199.41,343.89 L199.63,346.92 L199.85,349.97 L200.1,353.56 L200.34,357.22 L200.59,360.93 L200.83,364.69 L201.07,368.5 L201.31,372.35 L201.55,376.23 L201.79,380.14 L202.03,384.07 L202.26,388.03 L202.51,391.99 L202.75,395.96 L202.99,399.94 L203.24,403.91 L203.49,407.87 L203.74,411.82 L204,415.75 L204.26,419.65 L204.53,423.52 L204.8,427.36 L205.08,431.15 L205.36,434.9 L205.66,438.59 L205.96,442.23 L206.23,445.4 L206.5,448.55 L206.78,451.67 L207.07,454.76 L207.35,457.83 L207.65,460.88 L207.94,463.91 L208.24,466.93 L208.55,469.92 L208.85,472.91 L209.16,475.88 L209.47,478.84 L209.78,481.79 L210.1,484.74 L210.42,487.68 L210.73,490.63 L211.06,493.57 L211.38,496.51 L211.7,499.45 L212.02,502.41 L212.34,505.36 L212.67,508.33 L212.99,511.31 L213.32,514.3 L213.64,517.31 L213.95,520.34 L214.26,523.38 L214.57,526.44 L214.88,529.51 L215.19,532.58 L215.49,535.67 L215.8,538.75 L216.11,541.84 L216.42,544.92 L216.73,548 L217.05,551.06 L217.37,554.12 L217.7,557.16 L218.03,560.18 L218.38,563.18 L218.72,566.16 L219.08,569.11 L219.45,572.03 L219.83,574.92 L220.22,577.77 L220.62,580.59 L221.03,583.36 L221.46,586.09 L221.82,588.35 L222.17,590.61 L222.52,592.87 L222.86,595.11 L223.2,597.35 L223.54,599.57 L223.88,601.78 L224.23,603.97 L224.58,606.15 L224.94,608.31 L225.31,610.45 L225.69,612.57 L226.08,614.67 L226.49,616.74 L226.91,618.78 L227.36,620.79 L227.82,622.78 L228.31,624.73 L228.82,626.65 L229.35,628.53 L229.92,630.38 L230.51,632.18 L231.14,633.95 L231.79,635.68 L232.33,637.01 L232.87,638.33 L233.43,639.62 L233.99,640.9 L234.56,642.17 L235.14,643.41 L235.73,644.63 L236.34,645.84 L236.96,647.03 L237.59,648.19 L238.23,649.34 L238.89,650.47 L239.57,651.58 L240.26,652.68 L240.97,653.75 L241.7,654.8 L242.44,655.83 L243.21,656.84 L243.99,657.84 L244.8,658.81 L245.62,659.76 L246.47,660.69 L247.34,661.6 L248.24,662.49 L249.16,663.35 L250.11,664.19 L251.1,665.01 L252.13,665.81 L253.18,666.59 L254.26,667.35 L255.37,668.1 L256.5,668.82 L257.64,669.52 L258.8,670.21 L259.97,670.87 L261.15,671.52 L262.34,672.14 L263.53,672.75 L264.73,673.34 L265.92,673.9 L267.1,674.45 L268.28,674.98 L269.45,675.49 L270.6,675.99 L271.74,676.46 L272.85,676.92 L273.95,677.35 L275.02,677.77 L275.85,678.09 L276.67,678.38 L277.47,678.66 L278.25,678.93 L279.03,679.17 L279.79,679.4 L280.54,679.62 L281.29,679.82 L282.03,680.01 L282.78,680.19 L283.52,680.36 L284.27,680.52 L285.03,680.67 L285.79,680.82 L286.57,680.96 L287.36,681.09 L288.16,681.22 L288.98,681.34 L289.83,681.47 L290.69,681.59 L291.58,681.71 L292.5,681.84 L293.45,681.96 L294.43,682.09 L296.03,682.29 L297.68,682.47 L299.4,682.63 L301.17,682.78 L302.99,682.92 L304.86,683.04 L306.78,683.16 L308.74,683.26 L310.74,683.35 L312.77,683.43 L314.84,683.5 L316.93,683.57 L319.05,683.63 L321.19,683.68 L323.35,683.73 L325.52,683.78 L327.7,683.82 L329.89,683.86 L332.08,683.9 L334.27,683.94 L336.46,683.98 L338.65,684.02 L340.82,684.06 L342.98,684.11 L345.44,684.16 L347.92,684.21 L350.43,684.25 L352.96,684.29 L355.51,684.32 L358.08,684.35 L360.66,684.37 L363.27,684.39 L365.88,684.4 L368.51,684.41 L371.15,684.42 L373.8,684.43 L376.46,684.43 L379.12,684.43 L381.78,684.43 L384.44,684.43 L387.11,684.42 L389.77,684.42 L392.43,684.41 L395.09,684.41 L397.74,684.41 L400.37,684.4 L403,684.4 L405.62,684.4 L691.41,684.4" fill="none" stroke="#000000" stroke-width="3.7" stroke-dasharray="31 8.6"  stroke-linejoin="round"/>
<rect x="136.2" y="59.2" width="557.6" height="629.1" fill="none" stroke="#5a5a5a" stroke-width="1.7"/>
<path d="M136.2,684.4 h6.5 M693.8,684.4 h-6.5" stroke="#5a5a5a" stroke-width="1.5"/>
<text x="133.1" y="694" text-anchor="end">0</text>
<path d="M136.2,626.74 h6.5 M693.8,626.74 h-6.5" stroke="#5a5a5a" stroke-width="1.5"/>
<text x="133.1" y="636.34" text-anchor="end">0.2</text>
<path d="M136.2,569.08 h6.5 M693.8,569.08 h-6.5" stroke="#5a5a5a" stroke-width="1.5"/>
<text x="133.1" y="578.68" text-anchor="end">0.4</text>
<path d="M136.2,511.42 h6.5 M693.8,511.42 h-6.5" stroke="#5a5a5a" stroke-width="1.5"/>
<text x="133.1" y="521.02" text-anchor="end">0.6</text>
<path d="M136.2,453.76 h6.5 M693.8,453.76 h-6.5" stroke="#5a5a5a" stroke-width="1.5"/>
<text x="133.1" y="463.36" text-anchor="end">0.8</text>
<path d="M136.2,396.1 h6.5 M693.8,396.1 h-6.5" stroke="#5a5a5a" stroke-width="1.5"/>
<text x="133.1" y="405.7" text-anchor="end">1</text>
<path d="M136.2,338.44 h6.5 M693.8,338.44 h-6.5" stroke="#5a5a5a" stroke-width="1.5"/>
<text x="133.1" y="348.04" text-anchor="end">1.2</text>
<path d="M136.2,280.78 h6.5 M693.8,280.78 h-6.5" stroke="#5a5a5a" stroke-width="1.5"/>
<text x="133.1" y="290.38" text-anchor="end">1.4</text>
<path d="M136.2,223.12 h6.5 M693.8,223.12 h-6.5" stroke="#5a5a5a" stroke-width="1.5"/>
<text x="133.1" y="232.72" text-anchor="end">1.6</text>
<path d="M136.2,165.46 h6.5 M693.8,165.46 h-6.5" stroke="#5a5a5a" stroke-width="1.5"/>
<text x="133.1" y="175.06" text-anchor="end">1.8</text>
<path d="M136.2,107.8 h6.5 M693.8,107.8 h-6.5" stroke="#5a5a5a" stroke-width="1.5"/>
<text x="133.1" y="117.4" text-anchor="end">2</text>
<path d="M139.4,688.3 v-6.5 M139.4,59.2 v6.5" stroke="#5a5a5a" stroke-width="1.5"/>
<text x="140.9" y="719.5" text-anchor="middle">0</text>
<path d="M296,688.3 v-6.5 M296,59.2 v6.5" stroke="#5a5a5a" stroke-width="1.5"/>
<text x="297.5" y="719.5" text-anchor="middle">0.1</text>
<path d="M452.6,688.3 v-6.5 M452.6,59.2 v6.5" stroke="#5a5a5a" stroke-width="1.5"/>
<text x="454.1" y="719.5" text-anchor="middle">0.2</text>
<path d="M609.2,688.3 v-6.5 M609.2,59.2 v6.5" stroke="#5a5a5a" stroke-width="1.5"/>
<text x="610.7" y="719.5" text-anchor="middle">0.3</text>
<text x="271.0" y="741.8" textLength="289" lengthAdjust="spacing">e-catheter length (m)</text>
<text transform="translate(22.3,373.75) rotate(-90)" text-anchor="middle">[HOCl] (mM)</text>
<rect x="553.1" y="76.6" width="122.6" height="236.8" fill="#cdcdcd"/>
<rect x="556.3" y="73.4" width="122.6" height="236.8" fill="#fff" stroke="#555" stroke-width="1.6"/>
<path d="M566.3,95.1 H603.2" stroke="#1a35f5" stroke-width="3" stroke-linecap="round"/>
<text x="612.1" y="105.8" font-size="26.9">0 h</text>
<path d="M566.6,128.3 h0.01 M574.6,128.3 h0.01 M582.6,128.3 h0.01 M590.6,128.3 h0.01 M598.6,128.3 h0.01" stroke="#22b533" stroke-width="3.5" stroke-linecap="round"/>
<text x="612.1" y="139" font-size="26.9">8 h</text>
<path d="M566.3,160.8 H579.15 M590.35,160.8 H603.2" stroke="#d20000" stroke-width="3" stroke-linecap="round"/>
<text x="612.1" y="171.5" font-size="26.9">16 h</text>
<path d="M568.5,193 H571 M576.5,193 H601.6" stroke="#0fd0d0" stroke-width="3.2"/>
<text x="612.1" y="203.7" font-size="26.9">24 h</text>
<path d="M566.3,225.7 H603.2" stroke="#c000c8" stroke-width="3" stroke-linecap="round"/>
<text x="612.1" y="236.4" font-size="26.9">32 h</text>
<path d="M566.6,258.7 h0.01 M574.6,258.7 h0.01 M582.6,258.7 h0.01 M590.6,258.7 h0.01 M598.6,258.7 h0.01" stroke="#ffae00" stroke-width="3.5" stroke-linecap="round"/>
<text x="612.1" y="269.4" font-size="26.9">40 h</text>
<path d="M566.3,291 H579.15 M590.35,291 H603.2" stroke="#000000" stroke-width="3" stroke-linecap="round"/>
<text x="612.1" y="301.7" font-size="26.9">48 h</text>
</g>
<g style="font-family:'DejaVu Sans',sans-serif" font-size="27.2" fill="#000">
<path d="M139.4,1487.8 H691.41" stroke="#1a35f5" stroke-width="3.7"/>
<path d="M139.4,1160.19 L140.34,1160.19 L141.3,1160.18 L142.26,1160.16 L143.24,1160.14 L144.23,1160.12 L145.22,1160.1 L146.22,1160.08 L147.21,1160.06 L148.21,1160.04 L149.21,1160.03 L150.2,1160.03 L151.19,1160.03 L152.17,1160.04 L153.13,1160.06 L154.09,1160.09 L155.03,1160.13 L155.95,1160.19 L156.86,1160.27 L157.75,1160.36 L158.61,1160.46 L159.45,1160.59 L160.26,1160.74 L161.04,1160.91 L161.79,1161.1 L162.33,1161.26 L162.85,1161.42 L163.38,1161.6 L163.9,1161.78 L164.41,1161.98 L164.91,1162.18 L165.41,1162.39 L165.9,1162.61 L166.38,1162.84 L166.86,1163.07 L167.32,1163.31 L167.77,1163.56 L168.21,1163.81 L168.64,1164.07 L169.05,1164.33 L169.46,1164.6 L169.85,1164.87 L170.22,1165.14 L170.58,1165.41 L170.92,1165.69 L171.25,1165.97 L171.56,1166.25 L171.86,1166.53 L172.13,1166.81 L172.31,1167.01 L172.47,1167.2 L172.63,1167.39 L172.77,1167.58 L172.9,1167.78 L173.02,1167.97 L173.14,1168.16 L173.24,1168.35 L173.34,1168.55 L173.44,1168.75 L173.53,1168.95 L173.61,1169.15 L173.69,1169.36 L173.77,1169.57 L173.85,1169.79 L173.92,1170.01 L174,1170.24 L174.08,1170.47 L174.16,1170.72 L174.25,1170.97 L174.34,1171.23 L174.43,1171.5 L174.53,1171.77 L174.63,1172.06 L174.84,1172.61 L175.05,1173.19 L175.27,1173.8 L175.48,1174.43 L175.71,1175.09 L175.93,1175.77 L176.16,1176.47 L176.39,1177.2 L176.62,1177.94 L176.86,1178.71 L177.09,1179.49 L177.32,1180.3 L177.56,1181.12 L177.79,1181.95 L178.02,1182.8 L178.25,1183.67 L178.48,1184.55 L178.7,1185.44 L178.92,1186.35 L179.14,1187.26 L179.35,1188.19 L179.56,1189.12 L179.76,1190.06 L179.96,1191.01 L180.24,1192.43 L180.51,1193.91 L180.78,1195.43 L181.04,1197.01 L181.3,1198.62 L181.55,1200.28 L181.8,1201.97 L182.04,1203.69 L182.27,1205.45 L182.5,1207.23 L182.73,1209.03 L182.95,1210.85 L183.17,1212.68 L183.38,1214.53 L183.59,1216.38 L183.79,1218.24 L183.99,1220.09 L184.19,1221.94 L184.38,1223.79 L184.57,1225.63 L184.75,1227.45 L184.93,1229.25 L185.11,1231.03 L185.28,1232.79 L185.45,1234.52 L185.62,1236.25 L185.77,1237.97 L185.93,1239.69 L186.07,1241.4 L186.21,1243.11 L186.35,1244.82 L186.48,1246.53 L186.61,1248.24 L186.74,1249.95 L186.86,1251.66 L186.98,1253.38 L187.09,1255.1 L187.21,1256.82 L187.32,1258.55 L187.42,1260.29 L187.53,1262.03 L187.64,1263.79 L187.74,1265.55 L187.85,1267.33 L187.95,1269.12 L188.05,1270.92 L188.16,1272.74 L188.26,1274.57 L188.37,1276.63 L188.48,1278.72 L188.58,1280.82 L188.68,1282.94 L188.78,1285.08 L188.87,1287.22 L188.96,1289.39 L189.04,1291.56 L189.13,1293.74 L189.21,1295.93 L189.29,1298.13 L189.37,1300.34 L189.45,1302.55 L189.53,1304.77 L189.61,1306.99 L189.7,1309.21 L189.78,1311.42 L189.87,1313.64 L189.95,1315.86 L190.05,1318.07 L190.14,1320.27 L190.24,1322.47 L190.34,1324.67 L190.45,1326.85 L190.56,1329.03 L190.67,1331.23 L190.77,1333.43 L190.87,1335.63 L190.97,1337.85 L191.07,1340.06 L191.17,1342.28 L191.28,1344.5 L191.38,1346.72 L191.49,1348.94 L191.59,1351.16 L191.71,1353.37 L191.82,1355.58 L191.94,1357.78 L192.07,1359.97 L192.2,1362.15 L192.35,1364.33 L192.49,1366.49 L192.65,1368.63 L192.82,1370.77 L192.99,1372.88 L193.18,1374.99 L193.37,1377.07 L193.58,1379.13 L193.78,1380.97 L193.98,1382.8 L194.19,1384.62 L194.4,1386.43 L194.62,1388.24 L194.84,1390.03 L195.07,1391.82 L195.31,1393.6 L195.55,1395.37 L195.8,1397.13 L196.05,1398.89 L196.31,1400.63 L196.57,1402.37 L196.84,1404.1 L197.12,1405.82 L197.4,1407.53 L197.69,1409.23 L197.98,1410.93 L198.28,1412.61 L198.58,1414.29 L198.89,1415.96 L199.2,1417.61 L199.52,1419.27 L199.85,1420.91 L200.14,1422.39 L200.44,1423.87 L200.73,1425.35 L201.03,1426.82 L201.33,1428.29 L201.63,1429.76 L201.93,1431.22 L202.24,1432.67 L202.55,1434.12 L202.86,1435.56 L203.18,1436.99 L203.51,1438.41 L203.85,1439.83 L204.2,1441.23 L204.55,1442.62 L204.92,1443.99 L205.29,1445.36 L205.68,1446.71 L206.08,1448.04 L206.5,1449.36 L206.93,1450.66 L207.37,1451.95 L207.83,1453.22 L208.3,1454.47 L208.73,1455.55 L209.16,1456.63 L209.6,1457.72 L210.04,1458.8 L210.49,1459.88 L210.95,1460.95 L211.42,1462.01 L211.9,1463.07 L212.38,1464.12 L212.87,1465.16 L213.37,1466.18 L213.88,1467.19 L214.4,1468.18 L214.93,1469.15 L215.47,1470.11 L216.02,1471.04 L216.59,1471.95 L217.16,1472.83 L217.74,1473.69 L218.33,1474.52 L218.94,1475.32 L219.56,1476.09 L220.19,1476.83 L220.83,1477.53 L221.36,1478.07 L221.89,1478.59 L222.43,1479.1 L222.98,1479.6 L223.53,1480.07 L224.09,1480.53 L224.66,1480.97 L225.23,1481.4 L225.81,1481.82 L226.4,1482.22 L227,1482.6 L227.6,1482.97 L228.21,1483.33 L228.82,1483.67 L229.45,1484 L230.08,1484.32 L230.71,1484.62 L231.36,1484.92 L232.01,1485.2 L232.67,1485.47 L233.34,1485.72 L234.02,1485.97 L234.7,1486.2 L235.4,1486.43 L236.19,1486.66 L236.99,1486.87 L237.82,1487.06 L238.66,1487.22 L239.51,1487.36 L240.38,1487.48 L241.26,1487.58 L242.15,1487.66 L243.05,1487.73 L243.95,1487.79 L244.87,1487.83 L245.79,1487.86 L246.71,1487.88 L247.64,1487.89 L248.57,1487.89 L249.5,1487.88 L250.43,1487.88 L251.36,1487.86 L252.29,1487.85 L253.21,1487.84 L254.13,1487.82 L255.04,1487.81 L255.95,1487.8 L256.85,1487.8 L691.41,1487.8" fill="none" stroke="#22b533" stroke-width="3.7" stroke-dasharray="3.6 6.3"  stroke-linejoin="round"/>
<path d="M139.4,992.85 L140.34,992.85 L141.3,992.88 L142.28,992.92 L143.26,992.98 L144.26,993.05 L145.26,993.15 L146.27,993.26 L147.28,993.38 L148.29,993.53 L149.3,993.7 L150.3,993.88 L151.3,994.08 L152.29,994.31 L153.26,994.55 L154.22,994.81 L155.16,995.09 L156.09,995.39 L156.99,995.71 L157.86,996.06 L158.71,996.42 L159.53,996.81 L160.32,997.22 L161.08,997.64 L161.79,998.1 L162.39,998.51 L162.97,998.94 L163.53,999.39 L164.06,999.85 L164.58,1000.33 L165.08,1000.83 L165.56,1001.34 L166.03,1001.87 L166.49,1002.42 L166.92,1002.98 L167.35,1003.55 L167.76,1004.14 L168.17,1004.75 L168.56,1005.37 L168.94,1006 L169.32,1006.64 L169.68,1007.3 L170.05,1007.97 L170.4,1008.66 L170.75,1009.35 L171.1,1010.06 L171.44,1010.78 L171.79,1011.51 L172.13,1012.25 L172.58,1013.28 L173.01,1014.34 L173.42,1015.44 L173.81,1016.58 L174.18,1017.74 L174.54,1018.94 L174.88,1020.16 L175.2,1021.41 L175.51,1022.68 L175.81,1023.98 L176.1,1025.29 L176.38,1026.62 L176.65,1027.97 L176.91,1029.34 L177.16,1030.71 L177.41,1032.09 L177.66,1033.49 L177.9,1034.89 L178.14,1036.29 L178.37,1037.7 L178.61,1039.1 L178.85,1040.5 L179.09,1041.91 L179.33,1043.3 L179.61,1044.89 L179.88,1046.5 L180.14,1048.11 L180.39,1049.74 L180.64,1051.38 L180.87,1053.03 L181.11,1054.7 L181.33,1056.37 L181.55,1058.05 L181.77,1059.75 L181.98,1061.45 L182.18,1063.17 L182.38,1064.89 L182.58,1066.62 L182.77,1068.36 L182.95,1070.12 L183.14,1071.87 L183.32,1073.64 L183.49,1075.41 L183.67,1077.2 L183.84,1078.99 L184.01,1080.78 L184.18,1082.58 L184.34,1084.39 L184.52,1086.44 L184.7,1088.51 L184.86,1090.61 L185.01,1092.74 L185.16,1094.89 L185.31,1097.06 L185.44,1099.24 L185.57,1101.44 L185.7,1103.65 L185.83,1105.87 L185.95,1108.09 L186.06,1110.32 L186.18,1112.54 L186.29,1114.75 L186.4,1116.96 L186.52,1119.16 L186.63,1121.34 L186.74,1123.51 L186.86,1125.66 L186.97,1127.78 L187.09,1129.88 L187.22,1131.95 L187.34,1133.99 L187.48,1135.99 L187.59,1137.68 L187.71,1139.34 L187.83,1140.98 L187.95,1142.59 L188.07,1144.19 L188.19,1145.77 L188.31,1147.33 L188.44,1148.88 L188.56,1150.43 L188.68,1151.96 L188.81,1153.49 L188.93,1155.01 L189.05,1156.54 L189.17,1158.06 L189.29,1159.59 L189.41,1161.13 L189.53,1162.67 L189.65,1164.22 L189.76,1165.79 L189.87,1167.37 L189.98,1168.97 L190.09,1170.58 L190.19,1172.22 L190.3,1173.89 L190.4,1175.79 L190.51,1177.71 L190.61,1179.64 L190.7,1181.59 L190.79,1183.55 L190.87,1185.53 L190.96,1187.51 L191.04,1189.51 L191.11,1191.52 L191.19,1193.54 L191.27,1195.57 L191.34,1197.6 L191.42,1199.64 L191.5,1201.69 L191.58,1203.74 L191.66,1205.8 L191.75,1207.86 L191.83,1209.92 L191.93,1211.98 L192.03,1214.05 L192.13,1216.11 L192.24,1218.17 L192.36,1220.23 L192.49,1222.29 L192.63,1224.42 L192.77,1226.56 L192.92,1228.7 L193.07,1230.83 L193.23,1232.97 L193.39,1235.11 L193.56,1237.25 L193.73,1239.39 L193.91,1241.54 L194.08,1243.69 L194.27,1245.85 L194.45,1248.01 L194.63,1250.17 L194.82,1252.35 L195.01,1254.53 L195.2,1256.71 L195.39,1258.91 L195.58,1261.12 L195.77,1263.33 L195.96,1265.56 L196.15,1267.79 L196.34,1270.04 L196.53,1272.3 L196.72,1274.57 L196.92,1277.07 L197.12,1279.6 L197.33,1282.14 L197.53,1284.7 L197.73,1287.27 L197.94,1289.86 L198.14,1292.46 L198.35,1295.07 L198.56,1297.69 L198.77,1300.32 L198.98,1302.96 L199.19,1305.6 L199.4,1308.25 L199.61,1310.9 L199.83,1313.56 L200.05,1316.21 L200.27,1318.87 L200.49,1321.52 L200.72,1324.18 L200.94,1326.82 L201.17,1329.47 L201.41,1332.1 L201.64,1334.73 L201.88,1337.35 L202.12,1339.98 L202.36,1342.63 L202.6,1345.29 L202.83,1347.97 L203.07,1350.66 L203.31,1353.35 L203.54,1356.06 L203.78,1358.76 L204.02,1361.47 L204.27,1364.17 L204.51,1366.86 L204.77,1369.55 L205.02,1372.23 L205.28,1374.89 L205.55,1377.54 L205.82,1380.16 L206.1,1382.77 L206.39,1385.35 L206.68,1387.9 L206.99,1390.42 L207.3,1392.9 L207.62,1395.35 L207.96,1397.76 L208.3,1400.13 L208.59,1402.06 L208.88,1403.97 L209.18,1405.87 L209.47,1407.76 L209.77,1409.63 L210.07,1411.48 L210.38,1413.33 L210.69,1415.15 L211,1416.96 L211.32,1418.76 L211.65,1420.54 L211.98,1422.31 L212.32,1424.05 L212.66,1425.79 L213.02,1427.5 L213.38,1429.2 L213.75,1430.88 L214.12,1432.54 L214.51,1434.19 L214.91,1435.82 L215.32,1437.42 L215.73,1439.02 L216.16,1440.59 L216.6,1442.14 L216.97,1443.41 L217.34,1444.68 L217.7,1445.95 L218.07,1447.21 L218.43,1448.47 L218.8,1449.72 L219.17,1450.96 L219.55,1452.19 L219.93,1453.4 L220.32,1454.61 L220.72,1455.8 L221.13,1456.97 L221.54,1458.13 L221.97,1459.27 L222.41,1460.38 L222.86,1461.48 L223.33,1462.55 L223.81,1463.6 L224.31,1464.63 L224.83,1465.62 L225.37,1466.59 L225.92,1467.53 L226.5,1468.43 L227.1,1469.31 L227.6,1469.99 L228.11,1470.66 L228.63,1471.31 L229.16,1471.94 L229.71,1472.56 L230.26,1473.16 L230.83,1473.75 L231.4,1474.32 L231.98,1474.88 L232.58,1475.42 L233.18,1475.94 L233.79,1476.46 L234.41,1476.95 L235.03,1477.44 L235.67,1477.91 L236.31,1478.37 L236.96,1478.82 L237.61,1479.26 L238.27,1479.68 L238.94,1480.09 L239.61,1480.49 L240.29,1480.88 L240.97,1481.27 L241.66,1481.64 L242.36,1482 L243.07,1482.34 L243.79,1482.67 L244.51,1482.98 L245.24,1483.27 L245.98,1483.55 L246.72,1483.82 L247.47,1484.08 L248.23,1484.32 L248.99,1484.55 L249.77,1484.76 L250.55,1484.97 L251.33,1485.17 L252.13,1485.36 L252.93,1485.54 L253.74,1485.71 L254.55,1485.87 L255.37,1486.03 L256.2,1486.18 L257.04,1486.33 L257.88,1486.48 L258.73,1486.62 L259.59,1486.75 L260.45,1486.89 L261.5,1487.04 L262.56,1487.17 L263.64,1487.29 L264.74,1487.4 L265.85,1487.49 L266.97,1487.57 L268.11,1487.63 L269.26,1487.69 L270.42,1487.74 L271.59,1487.77 L272.77,1487.8 L273.95,1487.82 L275.14,1487.84 L276.33,1487.84 L277.52,1487.85 L278.72,1487.85 L279.91,1487.84 L281.1,1487.84 L282.3,1487.83 L283.48,1487.82 L284.67,1487.81 L285.84,1487.81 L287.01,1487.8 L288.17,1487.8 L691.41,1487.8" fill="none" stroke="#d20000" stroke-width="3.7" stroke-dasharray="31 8.6"  stroke-linejoin="round"/>
<path d="M139.4,913.63 L140.25,913.64 L141.12,913.67 L142,913.73 L142.88,913.82 L143.78,913.92 L144.67,914.05 L145.57,914.2 L146.48,914.37 L147.38,914.57 L148.28,914.78 L149.18,915.02 L150.07,915.27 L150.95,915.55 L151.83,915.84 L152.7,916.16 L153.55,916.49 L154.39,916.84 L155.22,917.21 L156.03,917.6 L156.82,918 L157.59,918.43 L158.34,918.86 L159.06,919.32 L159.76,919.79 L160.42,920.27 L161.07,920.78 L161.71,921.3 L162.33,921.85 L162.93,922.41 L163.52,923 L164.1,923.6 L164.66,924.23 L165.21,924.87 L165.75,925.53 L166.27,926.2 L166.78,926.9 L167.28,927.6 L167.77,928.32 L168.25,929.06 L168.72,929.81 L169.18,930.57 L169.63,931.35 L170.06,932.14 L170.49,932.93 L170.92,933.74 L171.33,934.56 L171.73,935.39 L172.13,936.23 L172.6,937.29 L173.05,938.37 L173.48,939.48 L173.88,940.62 L174.27,941.79 L174.63,942.97 L174.97,944.18 L175.3,945.41 L175.61,946.66 L175.91,947.93 L176.19,949.22 L176.47,950.52 L176.73,951.84 L176.98,953.18 L177.23,954.52 L177.47,955.88 L177.7,957.25 L177.94,958.63 L178.17,960.02 L178.4,961.41 L178.63,962.82 L178.86,964.22 L179.09,965.63 L179.33,967.05 L179.62,968.76 L179.89,970.49 L180.16,972.25 L180.41,974.02 L180.66,975.82 L180.9,977.64 L181.13,979.48 L181.35,981.33 L181.56,983.2 L181.77,985.09 L181.98,986.99 L182.18,988.89 L182.37,990.81 L182.56,992.74 L182.74,994.68 L182.93,996.62 L183.11,998.57 L183.29,1000.52 L183.46,1002.48 L183.64,1004.44 L183.81,1006.39 L183.99,1008.35 L184.17,1010.3 L184.34,1012.25 L184.53,1014.33 L184.72,1016.41 L184.9,1018.5 L185.08,1020.59 L185.26,1022.69 L185.43,1024.8 L185.6,1026.9 L185.77,1029.02 L185.94,1031.14 L186.1,1033.27 L186.26,1035.4 L186.41,1037.54 L186.57,1039.69 L186.72,1041.84 L186.87,1044.01 L187.01,1046.18 L187.16,1048.35 L187.3,1050.54 L187.44,1052.73 L187.58,1054.94 L187.71,1057.15 L187.84,1059.37 L187.97,1061.61 L188.1,1063.85 L188.24,1066.32 L188.36,1068.81 L188.48,1071.34 L188.6,1073.89 L188.71,1076.46 L188.81,1079.04 L188.91,1081.65 L189,1084.26 L189.09,1086.89 L189.18,1089.52 L189.27,1092.15 L189.36,1094.79 L189.44,1097.43 L189.53,1100.06 L189.62,1102.68 L189.71,1105.29 L189.81,1107.89 L189.91,1110.48 L190.01,1113.04 L190.11,1115.58 L190.23,1118.1 L190.35,1120.6 L190.47,1123.06 L190.61,1125.49 L190.73,1127.61 L190.86,1129.69 L190.99,1131.74 L191.13,1133.76 L191.26,1135.75 L191.4,1137.72 L191.54,1139.67 L191.69,1141.61 L191.83,1143.54 L191.98,1145.46 L192.13,1147.38 L192.29,1149.3 L192.44,1151.23 L192.59,1153.16 L192.75,1155.11 L192.91,1157.08 L193.07,1159.06 L193.23,1161.08 L193.39,1163.12 L193.55,1165.19 L193.72,1167.3 L193.88,1169.45 L194.05,1171.64 L194.21,1173.89 L194.42,1176.84 L194.64,1179.86 L194.85,1182.95 L195.07,1186.09 L195.29,1189.3 L195.52,1192.55 L195.74,1195.84 L195.97,1199.18 L196.2,1202.55 L196.43,1205.95 L196.66,1209.38 L196.9,1212.82 L197.14,1216.28 L197.38,1219.75 L197.62,1223.22 L197.86,1226.69 L198.1,1230.15 L198.35,1233.6 L198.59,1237.04 L198.84,1240.45 L199.09,1243.84 L199.34,1247.2 L199.59,1250.52 L199.85,1253.79 L200.09,1256.9 L200.33,1260.01 L200.58,1263.12 L200.82,1266.23 L201.07,1269.33 L201.31,1272.42 L201.56,1275.51 L201.81,1278.6 L202.06,1281.68 L202.31,1284.75 L202.56,1287.82 L202.82,1290.88 L203.08,1293.93 L203.34,1296.98 L203.6,1300.01 L203.86,1303.04 L204.13,1306.05 L204.4,1309.06 L204.68,1312.05 L204.96,1315.04 L205.24,1318.01 L205.53,1320.97 L205.82,1323.92 L206.11,1326.85 L206.39,1329.56 L206.66,1332.28 L206.94,1334.99 L207.21,1337.69 L207.49,1340.39 L207.76,1343.09 L208.04,1345.78 L208.32,1348.46 L208.61,1351.13 L208.9,1353.79 L209.19,1356.44 L209.48,1359.08 L209.78,1361.71 L210.08,1364.33 L210.39,1366.93 L210.7,1369.52 L211.02,1372.1 L211.35,1374.66 L211.68,1377.2 L212.02,1379.72 L212.37,1382.23 L212.73,1384.72 L213.1,1387.18 L213.47,1389.63 L213.81,1391.78 L214.14,1393.92 L214.47,1396.06 L214.8,1398.2 L215.13,1400.33 L215.47,1402.45 L215.81,1404.57 L216.15,1406.67 L216.5,1408.76 L216.85,1410.84 L217.21,1412.91 L217.57,1414.96 L217.95,1416.99 L218.33,1419 L218.72,1421 L219.13,1422.97 L219.54,1424.92 L219.97,1426.84 L220.42,1428.74 L220.87,1430.61 L221.35,1432.46 L221.84,1434.27 L222.34,1436.05 L222.87,1437.8 L223.3,1439.19 L223.73,1440.58 L224.17,1441.95 L224.6,1443.31 L225.05,1444.67 L225.5,1446.01 L225.95,1447.33 L226.41,1448.65 L226.88,1449.95 L227.36,1451.23 L227.85,1452.5 L228.34,1453.75 L228.85,1454.98 L229.37,1456.19 L229.9,1457.38 L230.45,1458.55 L231.01,1459.69 L231.58,1460.82 L232.18,1461.92 L232.78,1462.99 L233.41,1464.04 L234.05,1465.06 L234.71,1466.06 L235.4,1467.02 L235.98,1467.81 L236.58,1468.59 L237.19,1469.34 L237.8,1470.09 L238.44,1470.81 L239.08,1471.53 L239.73,1472.22 L240.39,1472.9 L241.06,1473.57 L241.74,1474.22 L242.43,1474.86 L243.13,1475.47 L243.84,1476.08 L244.56,1476.66 L245.28,1477.23 L246.02,1477.79 L246.76,1478.33 L247.51,1478.85 L248.27,1479.36 L249.03,1479.85 L249.8,1480.32 L250.58,1480.77 L251.36,1481.21 L252.15,1481.64 L252.94,1482.03 L253.72,1482.4 L254.52,1482.75 L255.32,1483.08 L256.12,1483.39 L256.93,1483.68 L257.75,1483.95 L258.57,1484.21 L259.4,1484.44 L260.24,1484.67 L261.09,1484.88 L261.95,1485.07 L262.81,1485.26 L263.69,1485.44 L264.58,1485.6 L265.48,1485.76 L266.39,1485.92 L267.31,1486.06 L268.25,1486.2 L269.2,1486.34 L270.16,1486.48 L271.14,1486.62 L272.13,1486.75 L273.14,1486.89 L274.51,1487.06 L275.93,1487.21 L277.38,1487.35 L278.86,1487.46 L280.38,1487.56 L281.92,1487.65 L283.49,1487.72 L285.09,1487.78 L286.7,1487.82 L288.34,1487.85 L289.98,1487.88 L291.65,1487.89 L293.32,1487.9 L295,1487.9 L296.69,1487.9 L298.37,1487.89 L300.06,1487.88 L301.75,1487.86 L303.43,1487.85 L305.1,1487.83 L306.76,1487.82 L308.41,1487.81 L310.04,1487.8 L311.66,1487.8 L691.41,1487.8" fill="none" stroke="#0fd0d0" stroke-width="3.7" stroke-dasharray="31 7 2.8 7"  stroke-linejoin="round"/>
<path d="M139.4,880.52 L140.43,880.54 L141.47,880.59 L142.54,880.67 L143.61,880.79 L144.7,880.93 L145.79,881.11 L146.89,881.32 L147.99,881.56 L149.09,881.83 L150.19,882.12 L151.28,882.45 L152.37,882.8 L153.44,883.18 L154.5,883.59 L155.55,884.02 L156.58,884.48 L157.59,884.96 L158.57,885.46 L159.53,885.99 L160.46,886.54 L161.35,887.12 L162.22,887.71 L163.04,888.33 L163.83,888.97 L164.58,889.63 L165.3,890.33 L165.99,891.05 L166.65,891.81 L167.28,892.59 L167.89,893.4 L168.48,894.23 L169.04,895.1 L169.58,895.98 L170.11,896.89 L170.61,897.83 L171.1,898.78 L171.58,899.76 L172.04,900.75 L172.48,901.77 L172.92,902.8 L173.35,903.85 L173.77,904.91 L174.18,905.99 L174.59,907.08 L174.99,908.19 L175.4,909.3 L175.8,910.43 L176.2,911.57 L176.73,913.12 L177.23,914.72 L177.71,916.37 L178.16,918.05 L178.6,919.78 L179.02,921.55 L179.41,923.35 L179.79,925.18 L180.15,927.05 L180.5,928.94 L180.83,930.85 L181.15,932.79 L181.46,934.74 L181.76,936.72 L182.04,938.7 L182.32,940.7 L182.59,942.71 L182.85,944.72 L183.11,946.74 L183.36,948.75 L183.61,950.77 L183.85,952.78 L184.1,954.78 L184.34,956.77 L184.61,958.97 L184.85,961.18 L185.08,963.4 L185.3,965.64 L185.51,967.89 L185.7,970.15 L185.88,972.42 L186.05,974.71 L186.21,977 L186.36,979.31 L186.51,981.62 L186.65,983.95 L186.78,986.28 L186.91,988.61 L187.03,990.96 L187.15,993.31 L187.27,995.66 L187.39,998.03 L187.5,1000.39 L187.62,1002.76 L187.73,1005.13 L187.85,1007.5 L187.98,1009.88 L188.1,1012.25 L188.24,1014.76 L188.36,1017.29 L188.48,1019.82 L188.6,1022.37 L188.71,1024.92 L188.82,1027.48 L188.92,1030.05 L189.03,1032.62 L189.12,1035.2 L189.22,1037.79 L189.32,1040.38 L189.41,1042.97 L189.5,1045.57 L189.6,1048.17 L189.69,1050.77 L189.78,1053.37 L189.88,1055.97 L189.97,1058.57 L190.07,1061.17 L190.17,1063.77 L190.28,1066.36 L190.38,1068.95 L190.49,1071.54 L190.61,1074.12 L190.73,1076.71 L190.84,1079.32 L190.96,1081.96 L191.07,1084.61 L191.19,1087.27 L191.31,1089.94 L191.43,1092.62 L191.55,1095.31 L191.66,1097.99 L191.79,1100.67 L191.91,1103.34 L192.03,1106 L192.16,1108.65 L192.29,1111.29 L192.42,1113.9 L192.55,1116.49 L192.69,1119.05 L192.83,1121.59 L192.97,1124.09 L193.12,1126.56 L193.27,1128.98 L193.42,1131.36 L193.58,1133.7 L193.74,1135.99 L193.87,1137.74 L194,1139.43 L194.14,1141.08 L194.27,1142.68 L194.41,1144.25 L194.55,1145.79 L194.69,1147.3 L194.83,1148.79 L194.98,1150.27 L195.13,1151.73 L195.28,1153.19 L195.43,1154.65 L195.58,1156.11 L195.73,1157.58 L195.89,1159.06 L196.04,1160.56 L196.2,1162.09 L196.36,1163.65 L196.52,1165.24 L196.68,1166.87 L196.84,1168.54 L197.01,1170.27 L197.17,1172.05 L197.34,1173.89 L197.59,1176.66 L197.84,1179.53 L198.1,1182.49 L198.36,1185.54 L198.63,1188.67 L198.9,1191.87 L199.18,1195.14 L199.46,1198.47 L199.74,1201.85 L200.03,1205.27 L200.32,1208.73 L200.61,1212.22 L200.9,1215.73 L201.19,1219.26 L201.49,1222.79 L201.78,1226.33 L202.07,1229.86 L202.36,1233.38 L202.65,1236.87 L202.94,1240.34 L203.23,1243.77 L203.52,1247.17 L203.8,1250.51 L204.08,1253.79 L204.34,1256.9 L204.6,1260 L204.85,1263.08 L205.11,1266.16 L205.36,1269.23 L205.61,1272.29 L205.85,1275.34 L206.1,1278.39 L206.35,1281.43 L206.6,1284.46 L206.84,1287.5 L207.09,1290.52 L207.34,1293.55 L207.6,1296.57 L207.85,1299.6 L208.11,1302.62 L208.37,1305.64 L208.64,1308.66 L208.91,1311.68 L209.18,1314.71 L209.46,1317.74 L209.75,1320.77 L210.04,1323.81 L210.34,1326.85 L210.64,1329.92 L210.94,1333.02 L211.24,1336.14 L211.54,1339.28 L211.84,1342.44 L212.14,1345.62 L212.44,1348.8 L212.75,1351.98 L213.05,1355.17 L213.37,1358.35 L213.68,1361.52 L214.01,1364.69 L214.34,1367.83 L214.67,1370.95 L215.02,1374.05 L215.38,1377.12 L215.74,1380.16 L216.12,1383.16 L216.5,1386.11 L216.9,1389.03 L217.32,1391.89 L217.74,1394.7 L218.18,1397.45 L218.64,1400.13 L219,1402.2 L219.36,1404.26 L219.71,1406.29 L220.07,1408.31 L220.42,1410.3 L220.77,1412.28 L221.13,1414.23 L221.49,1416.17 L221.86,1418.08 L222.24,1419.98 L222.62,1421.85 L223.02,1423.71 L223.43,1425.54 L223.85,1427.35 L224.28,1429.13 L224.74,1430.9 L225.21,1432.64 L225.7,1434.36 L226.21,1436.06 L226.74,1437.74 L227.3,1439.39 L227.88,1441.01 L228.49,1442.62 L229.13,1444.19 L229.68,1445.5 L230.25,1446.8 L230.82,1448.09 L231.4,1449.37 L231.99,1450.63 L232.6,1451.89 L233.22,1453.13 L233.85,1454.35 L234.49,1455.56 L235.14,1456.76 L235.81,1457.93 L236.49,1459.09 L237.19,1460.23 L237.9,1461.34 L238.63,1462.44 L239.37,1463.51 L240.13,1464.56 L240.9,1465.58 L241.69,1466.58 L242.49,1467.54 L243.31,1468.49 L244.15,1469.4 L245.01,1470.28 L245.89,1471.13 L246.7,1471.88 L247.54,1472.61 L248.4,1473.31 L249.27,1473.99 L250.17,1474.65 L251.08,1475.29 L252,1475.91 L252.94,1476.51 L253.89,1477.09 L254.85,1477.65 L255.83,1478.19 L256.81,1478.71 L257.8,1479.22 L258.8,1479.7 L259.81,1480.17 L260.81,1480.62 L261.83,1481.06 L262.84,1481.48 L263.86,1481.88 L264.87,1482.27 L265.89,1482.65 L266.9,1483.01 L267.91,1483.36 L268.91,1483.69 L269.86,1483.99 L270.81,1484.27 L271.76,1484.52 L272.69,1484.75 L273.63,1484.96 L274.56,1485.15 L275.5,1485.32 L276.43,1485.48 L277.37,1485.62 L278.31,1485.74 L279.26,1485.86 L280.22,1485.96 L281.19,1486.06 L282.16,1486.14 L283.15,1486.22 L284.16,1486.3 L285.17,1486.37 L286.21,1486.44 L287.26,1486.51 L288.34,1486.58 L289.44,1486.65 L290.55,1486.72 L291.7,1486.8 L292.87,1486.89 L294.6,1487.01 L296.4,1487.12 L298.25,1487.22 L300.15,1487.31 L302.11,1487.39 L304.1,1487.46 L306.14,1487.53 L308.21,1487.58 L310.31,1487.63 L312.44,1487.67 L314.6,1487.7 L316.77,1487.73 L318.96,1487.75 L321.17,1487.77 L323.38,1487.78 L325.59,1487.79 L327.81,1487.8 L330.02,1487.8 L332.22,1487.8 L334.41,1487.8 L336.59,1487.8 L338.75,1487.8 L340.88,1487.8 L342.98,1487.8 L691.41,1487.8" fill="none" stroke="#c000c8" stroke-width="3.7"   stroke-linejoin="round"/>
<path d="M139.4,869.56 L140.51,869.59 L141.65,869.67 L142.8,869.8 L143.97,869.98 L145.15,870.2 L146.34,870.47 L147.53,870.79 L148.73,871.15 L149.93,871.55 L151.12,871.99 L152.31,872.48 L153.49,873 L154.66,873.55 L155.81,874.14 L156.94,874.77 L158.06,875.42 L159.15,876.11 L160.21,876.83 L161.25,877.57 L162.25,878.34 L163.21,879.14 L164.14,879.96 L165.02,880.8 L165.87,881.66 L166.77,882.69 L167.63,883.8 L168.45,884.96 L169.22,886.19 L169.95,887.47 L170.64,888.81 L171.29,890.19 L171.91,891.62 L172.5,893.09 L173.07,894.59 L173.6,896.13 L174.12,897.69 L174.61,899.28 L175.08,900.88 L175.54,902.5 L175.98,904.13 L176.41,905.77 L176.84,907.41 L177.25,909.04 L177.67,910.67 L178.08,912.29 L178.49,913.9 L178.91,915.49 L179.33,917.05 L179.77,918.68 L180.2,920.33 L180.6,921.98 L180.99,923.65 L181.37,925.32 L181.73,927 L182.08,928.69 L182.42,930.39 L182.74,932.09 L183.05,933.8 L183.35,935.52 L183.64,937.24 L183.92,938.96 L184.2,940.7 L184.46,942.43 L184.71,944.17 L184.96,945.91 L185.2,947.66 L185.44,949.4 L185.66,951.15 L185.89,952.9 L186.11,954.65 L186.32,956.4 L186.54,958.14 L186.75,959.94 L186.94,961.73 L187.13,963.51 L187.3,965.3 L187.46,967.08 L187.6,968.86 L187.74,970.64 L187.87,972.42 L188,974.21 L188.11,976 L188.22,977.8 L188.32,979.6 L188.42,981.41 L188.52,983.23 L188.62,985.06 L188.71,986.9 L188.8,988.76 L188.89,990.63 L188.99,992.51 L189.09,994.41 L189.19,996.33 L189.29,998.27 L189.4,1000.23 L189.51,1002.21 L189.65,1004.58 L189.78,1006.98 L189.92,1009.42 L190.05,1011.88 L190.17,1014.37 L190.3,1016.89 L190.42,1019.43 L190.55,1021.99 L190.67,1024.56 L190.79,1027.16 L190.91,1029.76 L191.04,1032.38 L191.16,1035.01 L191.28,1037.64 L191.41,1040.28 L191.53,1042.92 L191.66,1045.56 L191.79,1048.2 L191.93,1050.83 L192.06,1053.46 L192.2,1056.07 L192.35,1058.68 L192.49,1061.27 L192.64,1063.85 L192.8,1066.42 L192.96,1069.01 L193.12,1071.6 L193.28,1074.21 L193.45,1076.82 L193.62,1079.43 L193.79,1082.05 L193.96,1084.67 L194.13,1087.29 L194.31,1089.91 L194.49,1092.53 L194.67,1095.14 L194.85,1097.74 L195.03,1100.34 L195.21,1102.92 L195.39,1105.5 L195.58,1108.06 L195.76,1110.6 L195.95,1113.13 L196.13,1115.65 L196.32,1118.14 L196.5,1120.61 L196.69,1123.06 L196.87,1125.49 L197.04,1127.61 L197.2,1129.69 L197.36,1131.74 L197.53,1133.75 L197.69,1135.75 L197.85,1137.72 L198.02,1139.67 L198.18,1141.61 L198.35,1143.54 L198.51,1145.46 L198.68,1147.38 L198.85,1149.3 L199.01,1151.23 L199.18,1153.16 L199.35,1155.11 L199.52,1157.08 L199.7,1159.06 L199.87,1161.08 L200.04,1163.12 L200.22,1165.19 L200.4,1167.3 L200.58,1169.45 L200.76,1171.64 L200.94,1173.89 L201.18,1176.84 L201.42,1179.86 L201.67,1182.95 L201.92,1186.09 L202.17,1189.29 L202.42,1192.55 L202.68,1195.84 L202.93,1199.18 L203.19,1202.55 L203.46,1205.95 L203.72,1209.37 L203.98,1212.82 L204.25,1216.28 L204.52,1219.74 L204.79,1223.22 L205.06,1226.69 L205.32,1230.15 L205.59,1233.6 L205.86,1237.04 L206.13,1240.45 L206.4,1243.84 L206.67,1247.2 L206.94,1250.52 L207.21,1253.79 L207.46,1256.9 L207.71,1260 L207.96,1263.1 L208.21,1266.19 L208.46,1269.27 L208.7,1272.34 L208.95,1275.41 L209.19,1278.47 L209.44,1281.53 L209.68,1284.58 L209.93,1287.63 L210.18,1290.67 L210.43,1293.7 L210.69,1296.73 L210.94,1299.76 L211.2,1302.78 L211.47,1305.8 L211.74,1308.82 L212.01,1311.83 L212.29,1314.84 L212.58,1317.85 L212.87,1320.85 L213.17,1323.85 L213.47,1326.85 L213.77,1329.78 L214.07,1332.72 L214.37,1335.68 L214.67,1338.65 L214.97,1341.62 L215.27,1344.61 L215.58,1347.59 L215.89,1350.58 L216.2,1353.56 L216.51,1356.53 L216.83,1359.5 L217.16,1362.45 L217.49,1365.39 L217.84,1368.3 L218.18,1371.2 L218.54,1374.07 L218.91,1376.91 L219.28,1379.73 L219.67,1382.51 L220.06,1385.25 L220.47,1387.95 L220.89,1390.61 L221.32,1393.23 L221.77,1395.8 L222.14,1397.84 L222.5,1399.86 L222.86,1401.87 L223.23,1403.86 L223.59,1405.83 L223.96,1407.79 L224.33,1409.72 L224.71,1411.64 L225.09,1413.54 L225.48,1415.42 L225.88,1417.28 L226.28,1419.13 L226.7,1420.96 L227.13,1422.77 L227.57,1424.56 L228.02,1426.33 L228.49,1428.09 L228.97,1429.82 L229.47,1431.54 L229.99,1433.24 L230.53,1434.92 L231.09,1436.59 L231.66,1438.23 L232.26,1439.86 L232.79,1441.24 L233.32,1442.63 L233.85,1444.01 L234.39,1445.39 L234.94,1446.76 L235.5,1448.12 L236.06,1449.47 L236.63,1450.81 L237.22,1452.13 L237.81,1453.44 L238.42,1454.74 L239.04,1456.01 L239.68,1457.27 L240.33,1458.5 L241,1459.72 L241.69,1460.9 L242.39,1462.06 L243.12,1463.19 L243.86,1464.3 L244.63,1465.37 L245.41,1466.41 L246.23,1467.41 L247.06,1468.38 L247.92,1469.31 L248.72,1470.11 L249.54,1470.89 L250.39,1471.64 L251.26,1472.36 L252.15,1473.07 L253.06,1473.75 L253.99,1474.41 L254.93,1475.04 L255.89,1475.66 L256.86,1476.26 L257.85,1476.83 L258.84,1477.39 L259.84,1477.93 L260.85,1478.44 L261.86,1478.95 L262.88,1479.43 L263.9,1479.9 L264.92,1480.35 L265.94,1480.79 L266.95,1481.22 L267.96,1481.63 L268.96,1482.02 L269.96,1482.41 L270.94,1482.78 L271.83,1483.1 L272.71,1483.4 L273.58,1483.69 L274.44,1483.95 L275.3,1484.19 L276.15,1484.42 L277,1484.63 L277.85,1484.83 L278.7,1485.02 L279.55,1485.19 L280.41,1485.35 L281.28,1485.5 L282.15,1485.64 L283.04,1485.77 L283.94,1485.9 L284.85,1486.01 L285.77,1486.13 L286.72,1486.24 L287.68,1486.35 L288.67,1486.45 L289.68,1486.56 L290.72,1486.67 L291.78,1486.78 L292.87,1486.89 L294.56,1487.05 L296.32,1487.19 L298.14,1487.31 L300.02,1487.42 L301.96,1487.52 L303.94,1487.6 L305.97,1487.67 L308.04,1487.73 L310.14,1487.77 L312.28,1487.81 L314.44,1487.83 L316.63,1487.85 L318.83,1487.86 L321.05,1487.87 L323.28,1487.87 L325.51,1487.86 L327.74,1487.86 L329.97,1487.85 L332.18,1487.84 L334.39,1487.83 L336.57,1487.82 L338.74,1487.81 L340.87,1487.8 L342.98,1487.8 L691.41,1487.8" fill="none" stroke="#ffae00" stroke-width="3.7" stroke-dasharray="3.6 6.3"  stroke-linejoin="round"/>
<path d="M139.4,865.91 L140.51,865.93 L141.65,865.99 L142.8,866.09 L143.97,866.22 L145.15,866.4 L146.34,866.61 L147.54,866.85 L148.73,867.14 L149.93,867.46 L151.13,867.82 L152.32,868.21 L153.5,868.64 L154.66,869.1 L155.82,869.6 L156.95,870.14 L158.07,870.7 L159.16,871.3 L160.22,871.94 L161.25,872.6 L162.25,873.3 L163.22,874.03 L164.14,874.79 L165.03,875.59 L165.87,876.41 L166.8,877.45 L167.68,878.56 L168.51,879.75 L169.3,881.02 L170.03,882.35 L170.73,883.74 L171.39,885.19 L172.01,886.69 L172.6,888.24 L173.16,889.82 L173.7,891.45 L174.2,893.11 L174.69,894.79 L175.15,896.49 L175.6,898.22 L176.03,899.95 L176.46,901.69 L176.87,903.43 L177.28,905.17 L177.68,906.9 L178.09,908.61 L178.5,910.31 L178.91,911.98 L179.33,913.63 L179.77,915.34 L180.2,917.07 L180.6,918.81 L181,920.56 L181.37,922.32 L181.73,924.09 L182.08,925.87 L182.42,927.65 L182.74,929.44 L183.05,931.24 L183.36,933.05 L183.65,934.86 L183.93,936.67 L184.2,938.49 L184.46,940.31 L184.71,942.14 L184.96,943.96 L185.2,945.79 L185.44,947.62 L185.66,949.46 L185.89,951.29 L186.11,953.12 L186.32,954.95 L186.54,956.77 L186.75,958.63 L186.94,960.49 L187.12,962.34 L187.29,964.18 L187.45,966.03 L187.6,967.87 L187.74,969.71 L187.87,971.56 L187.99,973.4 L188.1,975.25 L188.21,977.11 L188.32,978.97 L188.42,980.84 L188.51,982.71 L188.61,984.6 L188.7,986.5 L188.8,988.4 L188.89,990.33 L188.99,992.26 L189.08,994.22 L189.18,996.19 L189.29,998.17 L189.4,1000.18 L189.51,1002.21 L189.65,1004.59 L189.78,1007.01 L189.91,1009.46 L190.04,1011.94 L190.17,1014.43 L190.29,1016.96 L190.42,1019.5 L190.54,1022.06 L190.66,1024.63 L190.79,1027.22 L190.91,1029.83 L191.03,1032.44 L191.16,1035.06 L191.28,1037.69 L191.41,1040.32 L191.53,1042.95 L191.66,1045.59 L191.79,1048.22 L191.93,1050.85 L192.06,1053.47 L192.2,1056.08 L192.35,1058.68 L192.49,1061.27 L192.64,1063.85 L192.8,1066.42 L192.96,1069.01 L193.12,1071.6 L193.28,1074.21 L193.45,1076.82 L193.62,1079.43 L193.79,1082.05 L193.96,1084.67 L194.13,1087.29 L194.31,1089.91 L194.49,1092.53 L194.67,1095.14 L194.85,1097.74 L195.03,1100.34 L195.21,1102.92 L195.39,1105.5 L195.58,1108.06 L195.76,1110.6 L195.95,1113.13 L196.13,1115.65 L196.32,1118.14 L196.5,1120.61 L196.69,1123.06 L196.87,1125.49 L197.04,1127.61 L197.2,1129.69 L197.36,1131.74 L197.53,1133.75 L197.69,1135.75 L197.85,1137.72 L198.02,1139.67 L198.18,1141.61 L198.35,1143.54 L198.51,1145.46 L198.68,1147.38 L198.85,1149.3 L199.01,1151.23 L199.18,1153.16 L199.35,1155.11 L199.52,1157.08 L199.7,1159.06 L199.87,1161.08 L200.04,1163.12 L200.22,1165.19 L200.4,1167.3 L200.58,1169.45 L200.76,1171.64 L200.94,1173.89 L201.18,1176.84 L201.42,1179.86 L201.67,1182.95 L201.92,1186.09 L202.17,1189.29 L202.42,1192.55 L202.68,1195.84 L202.93,1199.18 L203.19,1202.55 L203.46,1205.95 L203.72,1209.37 L203.98,1212.82 L204.25,1216.28 L204.52,1219.74 L204.79,1223.22 L205.06,1226.69 L205.32,1230.15 L205.59,1233.6 L205.86,1237.04 L206.13,1240.45 L206.4,1243.84 L206.67,1247.2 L206.94,1250.52 L207.21,1253.79 L207.46,1256.9 L207.71,1260 L207.96,1263.1 L208.21,1266.19 L208.46,1269.27 L208.7,1272.34 L208.95,1275.41 L209.19,1278.47 L209.44,1281.53 L209.68,1284.58 L209.93,1287.63 L210.18,1290.67 L210.43,1293.7 L210.69,1296.73 L210.94,1299.76 L211.2,1302.78 L211.47,1305.8 L211.74,1308.82 L212.01,1311.83 L212.29,1314.84 L212.58,1317.85 L212.87,1320.85 L213.17,1323.85 L213.47,1326.85 L213.77,1329.78 L214.07,1332.72 L214.37,1335.68 L214.67,1338.65 L214.97,1341.62 L215.27,1344.61 L215.58,1347.59 L215.89,1350.58 L216.2,1353.56 L216.51,1356.53 L216.83,1359.5 L217.16,1362.45 L217.49,1365.39 L217.84,1368.3 L218.18,1371.2 L218.54,1374.07 L218.91,1376.91 L219.28,1379.73 L219.67,1382.51 L220.06,1385.25 L220.47,1387.95 L220.89,1390.61 L221.32,1393.23 L221.77,1395.8 L222.14,1397.84 L222.5,1399.86 L222.86,1401.87 L223.23,1403.86 L223.59,1405.83 L223.96,1407.79 L224.33,1409.72 L224.71,1411.64 L225.09,1413.54 L225.48,1415.42 L225.88,1417.28 L226.28,1419.13 L226.7,1420.96 L227.13,1422.77 L227.57,1424.56 L228.02,1426.33 L228.49,1428.09 L228.97,1429.82 L229.47,1431.54 L229.99,1433.24 L230.53,1434.92 L231.09,1436.59 L231.66,1438.23 L232.26,1439.86 L232.79,1441.24 L233.32,1442.63 L233.85,1444.01 L234.39,1445.39 L234.94,1446.76 L235.5,1448.12 L236.06,1449.47 L236.63,1450.81 L237.22,1452.13 L237.81,1453.44 L238.42,1454.74 L239.04,1456.01 L239.68,1457.27 L240.33,1458.5 L241,1459.72 L241.69,1460.9 L242.39,1462.06 L243.12,1463.19 L243.86,1464.3 L244.63,1465.37 L245.41,1466.41 L246.23,1467.41 L247.06,1468.38 L247.92,1469.31 L248.72,1470.11 L249.54,1470.89 L250.39,1471.64 L251.26,1472.36 L252.15,1473.07 L253.06,1473.75 L253.99,1474.41 L254.93,1475.04 L255.89,1475.66 L256.86,1476.26 L257.85,1476.83 L258.84,1477.39 L259.84,1477.93 L260.85,1478.44 L261.86,1478.95 L262.88,1479.43 L263.9,1479.9 L264.92,1480.35 L265.94,1480.79 L266.95,1481.22 L267.96,1481.63 L268.96,1482.02 L269.96,1482.41 L270.94,1482.78 L271.83,1483.1 L272.71,1483.4 L273.58,1483.69 L274.44,1483.95 L275.3,1484.19 L276.15,1484.42 L277,1484.63 L277.85,1484.83 L278.7,1485.02 L279.55,1485.19 L280.41,1485.35 L281.28,1485.5 L282.15,1485.64 L283.04,1485.77 L283.94,1485.9 L284.85,1486.01 L285.77,1486.13 L286.72,1486.24 L287.68,1486.35 L288.67,1486.45 L289.68,1486.56 L290.72,1486.67 L291.78,1486.78 L292.87,1486.89 L294.56,1487.05 L296.32,1487.19 L298.14,1487.31 L300.02,1487.42 L301.96,1487.52 L303.94,1487.6 L305.97,1487.67 L308.04,1487.73 L310.14,1487.77 L312.28,1487.81 L314.44,1487.83 L316.63,1487.85 L318.83,1487.86 L321.05,1487.87 L323.28,1487.87 L325.51,1487.86 L327.74,1487.86 L329.97,1487.85 L332.18,1487.84 L334.39,1487.83 L336.57,1487.82 L338.74,1487.81 L340.87,1487.8 L342.98,1487.8 L691.41,1487.8" fill="none" stroke="#000000" stroke-width="3.7" stroke-dasharray="31 8.6"  stroke-linejoin="round"/>
<rect x="136.2" y="861.6" width="557.6" height="630" fill="none" stroke="#5a5a5a" stroke-width="1.7"/>
<path d="M136.2,1487.8 h6.5 M693.8,1487.8 h-6.5" stroke="#5a5a5a" stroke-width="1.5"/>
<text x="133.1" y="1497.4" text-anchor="end">0</text>
<path d="M136.2,1442.14 h6.5 M693.8,1442.14 h-6.5" stroke="#5a5a5a" stroke-width="1.5"/>
<text x="133.1" y="1451.74" text-anchor="end">0.2</text>
<path d="M136.2,1396.48 h6.5 M693.8,1396.48 h-6.5" stroke="#5a5a5a" stroke-width="1.5"/>
<text x="133.1" y="1406.08" text-anchor="end">0.4</text>
<path d="M136.2,1350.82 h6.5 M693.8,1350.82 h-6.5" stroke="#5a5a5a" stroke-width="1.5"/>
<text x="133.1" y="1360.42" text-anchor="end">0.6</text>
<path d="M136.2,1305.16 h6.5 M693.8,1305.16 h-6.5" stroke="#5a5a5a" stroke-width="1.5"/>
<text x="133.1" y="1314.76" text-anchor="end">0.8</text>
<path d="M136.2,1259.5 h6.5 M693.8,1259.5 h-6.5" stroke="#5a5a5a" stroke-width="1.5"/>
<text x="133.1" y="1269.1" text-anchor="end">1</text>
<path d="M136.2,1213.84 h6.5 M693.8,1213.84 h-6.5" stroke="#5a5a5a" stroke-width="1.5"/>
<text x="133.1" y="1223.44" text-anchor="end">1.2</text>
<path d="M136.2,1168.18 h6.5 M693.8,1168.18 h-6.5" stroke="#5a5a5a" stroke-width="1.5"/>
<text x="133.1" y="1177.78" text-anchor="end">1.4</text>
<path d="M136.2,1122.52 h6.5 M693.8,1122.52 h-6.5" stroke="#5a5a5a" stroke-width="1.5"/>
<text x="133.1" y="1132.12" text-anchor="end">1.6</text>
<path d="M136.2,1076.86 h6.5 M693.8,1076.86 h-6.5" stroke="#5a5a5a" stroke-width="1.5"/>
<text x="133.1" y="1086.46" text-anchor="end">1.8</text>
<path d="M136.2,1031.2 h6.5 M693.8,1031.2 h-6.5" stroke="#5a5a5a" stroke-width="1.5"/>
<text x="133.1" y="1040.8" text-anchor="end">2</text>
<path d="M136.2,985.54 h6.5 M693.8,985.54 h-6.5" stroke="#5a5a5a" stroke-width="1.5"/>
<text x="133.1" y="995.14" text-anchor="end">2.2</text>
<path d="M136.2,939.88 h6.5 M693.8,939.88 h-6.5" stroke="#5a5a5a" stroke-width="1.5"/>
<text x="133.1" y="949.48" text-anchor="end">2.4</text>
<path d="M136.2,894.22 h6.5 M693.8,894.22 h-6.5" stroke="#5a5a5a" stroke-width="1.5"/>
<text x="133.1" y="903.82" text-anchor="end">2.6</text>
<path d="M139.4,1491.6 v-6.5 M139.4,861.6 v6.5" stroke="#5a5a5a" stroke-width="1.5"/>
<text x="140.9" y="1522.9" text-anchor="middle">0</text>
<path d="M296,1491.6 v-6.5 M296,861.6 v6.5" stroke="#5a5a5a" stroke-width="1.5"/>
<text x="297.5" y="1522.9" text-anchor="middle">0.1</text>
<path d="M452.6,1491.6 v-6.5 M452.6,861.6 v6.5" stroke="#5a5a5a" stroke-width="1.5"/>
<text x="454.1" y="1522.9" text-anchor="middle">0.2</text>
<path d="M609.2,1491.6 v-6.5 M609.2,861.6 v6.5" stroke="#5a5a5a" stroke-width="1.5"/>
<text x="610.7" y="1522.9" text-anchor="middle">0.3</text>
<text x="271.0" y="1545.5" textLength="289" lengthAdjust="spacing">e-catheter length (m)</text>
<text transform="translate(22.3,1176.6) rotate(-90)" text-anchor="middle">[HOCl] (mM)</text>
<rect x="553.1" y="879.7" width="122.6" height="236.8" fill="#cdcdcd"/>
<rect x="556.3" y="876.5" width="122.6" height="236.8" fill="#fff" stroke="#555" stroke-width="1.6"/>
<path d="M566.3,898.2 H603.2" stroke="#1a35f5" stroke-width="3" stroke-linecap="round"/>
<text x="612.1" y="908.9" font-size="26.9">0 h</text>
<path d="M566.6,931.4 h0.01 M574.6,931.4 h0.01 M582.6,931.4 h0.01 M590.6,931.4 h0.01 M598.6,931.4 h0.01" stroke="#22b533" stroke-width="3.5" stroke-linecap="round"/>
<text x="612.1" y="942.1" font-size="26.9">8 h</text>
<path d="M566.3,963.9 H579.15 M590.35,963.9 H603.2" stroke="#d20000" stroke-width="3" stroke-linecap="round"/>
<text x="612.1" y="974.6" font-size="26.9">16 h</text>
<path d="M568.5,996.1 H571 M576.5,996.1 H601.6" stroke="#0fd0d0" stroke-width="3.2"/>
<text x="612.1" y="1006.8" font-size="26.9">24 h</text>
<path d="M566.3,1028.8 H603.2" stroke="#c000c8" stroke-width="3" stroke-linecap="round"/>
<text x="612.1" y="1039.5" font-size="26.9">32 h</text>
<path d="M566.6,1061.8 h0.01 M574.6,1061.8 h0.01 M582.6,1061.8 h0.01 M590.6,1061.8 h0.01 M598.6,1061.8 h0.01" stroke="#ffae00" stroke-width="3.5" stroke-linecap="round"/>
<text x="612.1" y="1072.5" font-size="26.9">40 h</text>
<path d="M566.3,1094.1 H579.15 M590.35,1094.1 H603.2" stroke="#000000" stroke-width="3" stroke-linecap="round"/>
<text x="612.1" y="1104.8" font-size="26.9">48 h</text>
</g>
<g style="font-family:'DejaVu Sans',sans-serif" font-size="27.2" fill="#000">
<path d="M839.9,686.6 L841.28,684.7 L842.67,682.55 L844.05,680.3 L845.43,677.99 L846.82,675.65 L848.2,673.27 L849.58,670.88 L850.97,668.46 L852.35,666.04 L853.73,663.6 L855.12,661.16 L856.5,658.72 L857.88,656.28 L859.27,653.83 L860.65,651.39 L862.04,648.95 L863.42,646.51 L864.8,644.08 L866.19,641.65 L867.57,639.23 L868.95,636.81 L870.34,634.41 L871.72,632.01 L873.1,629.62 L874.49,627.24 L875.87,624.87 L877.25,622.51 L878.64,620.16 L880.02,617.82 L881.4,615.49 L882.79,613.17 L884.17,610.86 L885.55,608.56 L886.94,606.28 L888.32,604.01 L889.7,601.75 L891.09,599.5 L892.47,597.26 L893.85,595.04 L895.24,592.83 L896.62,590.63 L898.01,588.45 L899.39,586.27 L900.77,584.11 L902.16,581.97 L903.54,579.84 L904.92,577.72 L906.31,575.61 L907.69,573.51 L909.07,571.43 L910.46,569.37 L911.84,567.31 L913.22,565.27 L914.61,563.25 L915.99,561.23 L917.37,559.23 L918.76,557.25 L920.14,555.27 L921.52,553.31 L922.91,551.37 L924.29,549.43 L925.67,547.51 L927.06,545.61 L928.44,543.71 L929.82,541.83 L931.21,539.96 L932.59,538.11 L933.98,536.27 L935.36,534.44 L936.74,532.63 L938.13,530.83 L939.51,529.04 L940.89,527.26 L942.28,525.5 L943.66,523.75 L945.04,522.02 L946.43,520.29 L947.81,518.58 L949.19,516.88 L950.58,515.2 L951.96,513.52 L953.34,511.86 L954.73,510.22 L956.11,508.58 L957.49,506.96 L958.88,505.35 L960.26,503.75 L961.64,502.16 L963.03,500.59 L964.41,499.02 L965.79,497.47 L967.18,495.94 L968.56,494.41 L969.95,492.9 L971.33,491.39 L972.71,489.9 L974.1,488.42 L975.48,486.96 L976.86,485.5 L978.25,484.06 L979.63,482.62 L981.01,481.2 L982.4,479.79 L983.78,478.39 L985.16,477 L986.55,475.63 L987.93,474.26 L989.31,472.91 L990.7,471.56 L992.08,470.23 L993.46,468.91 L994.85,467.6 L996.23,466.29 L997.61,465 L999,463.72 L1000.38,462.45 L1001.76,461.19 L1003.15,459.95 L1004.53,458.71 L1005.92,457.48 L1007.3,456.26 L1008.68,455.05 L1010.07,453.85 L1011.45,452.66 L1012.83,451.49 L1014.22,450.32 L1015.6,449.16 L1016.98,448.01 L1018.37,446.87 L1019.75,445.74 L1021.13,444.61 L1022.52,443.5 L1023.9,442.4 L1025.28,441.31 L1026.67,440.22 L1028.05,439.15 L1029.43,438.08 L1030.82,437.02 L1032.2,435.98 L1033.58,434.94 L1034.97,433.91 L1036.35,432.88 L1037.73,431.87 L1039.12,430.87 L1040.5,429.87 L1041.88,428.88 L1043.27,427.9 L1044.65,426.93 L1046.04,425.97 L1047.42,425.02 L1048.8,424.07 L1050.19,423.13 L1051.57,422.2 L1052.95,421.28 L1054.34,420.37 L1055.72,419.46 L1057.1,418.56 L1058.49,417.67 L1059.87,416.79 L1061.25,415.91 L1062.64,415.05 L1064.02,414.19 L1065.4,413.33 L1066.79,412.49 L1068.17,411.65 L1069.55,410.82 L1070.94,410 L1072.32,409.18 L1073.7,408.37 L1075.09,407.57 L1076.47,406.78 L1077.85,405.99 L1079.24,405.21 L1080.62,404.43 L1082.01,403.66 L1083.39,402.9 L1084.77,402.15 L1086.16,401.4 L1087.54,400.66 L1088.92,399.93 L1090.31,399.2 L1091.69,398.48 L1093.07,397.76 L1094.46,397.05 L1095.84,396.35 L1097.22,395.66 L1098.61,394.97 L1099.99,394.28 L1101.37,393.6 L1102.76,392.93 L1104.14,392.27 L1105.52,391.61 L1106.91,390.95 L1108.29,390.31 L1109.67,389.66 L1111.06,389.03 L1112.44,388.4 L1113.82,387.77 L1115.21,387.15 L1116.59,386.54 L1117.98,385.93 L1119.36,385.32 L1120.74,384.73 L1122.13,384.13 L1123.51,383.55 L1124.89,382.97 L1126.28,382.39 L1127.66,381.82 L1129.04,381.25 L1130.43,380.69 L1131.81,380.14 L1133.19,379.58 L1134.58,379.04 L1135.96,378.5 L1137.34,377.96 L1138.73,377.43 L1140.11,376.9 L1141.49,376.38 L1142.88,375.87 L1144.26,375.35 L1145.64,374.85 L1147.03,374.34 L1148.41,373.85 L1149.79,373.35 L1151.18,372.86 L1152.56,372.38 L1153.95,371.9 L1155.33,371.42 L1156.71,370.95 L1158.1,370.48 L1159.48,370.02 L1160.86,369.56 L1162.25,369.11 L1163.63,368.66 L1165.01,368.21 L1166.4,367.77 L1167.78,367.33 L1169.16,366.9 L1170.55,366.47 L1171.93,366.04 L1173.31,365.62 L1174.7,365.2 L1176.08,364.78 L1177.46,364.37 L1178.85,363.97 L1180.23,363.56 L1181.61,363.17 L1183,362.77 L1184.38,362.38 L1185.76,361.99 L1187.15,361.6 L1188.53,361.22 L1189.92,360.85 L1191.3,360.47 L1192.68,360.1 L1194.07,359.73 L1195.45,359.37 L1196.83,359.01 L1198.22,358.65 L1199.6,358.3 L1200.98,357.95 L1202.37,357.6 L1203.75,357.26 L1205.13,356.92 L1206.52,356.58 L1207.9,356.25 L1209.28,355.91 L1210.67,355.59 L1212.05,355.26 L1213.43,354.94 L1214.82,354.62 L1216.2,354.3 L1217.58,353.99 L1218.97,353.68 L1220.35,353.37 L1221.73,353.07 L1223.12,352.77 L1224.5,352.47 L1225.88,352.17 L1227.27,351.88 L1228.65,351.59 L1230.04,351.3 L1231.42,351.02 L1232.8,350.74 L1234.19,350.46 L1235.57,350.18 L1236.95,349.91 L1238.34,349.63 L1239.72,349.36 L1241.1,349.1 L1242.49,348.83 L1243.87,348.57 L1245.25,348.31 L1246.64,348.06 L1248.02,347.8 L1249.4,347.55 L1250.79,347.3 L1252.17,347.06 L1253.55,346.81 L1254.94,346.57 L1256.32,346.33 L1257.7,346.09 L1259.09,345.85 L1260.47,345.62 L1261.85,345.39 L1263.24,345.16 L1264.62,344.94 L1266.01,344.71 L1267.39,344.49 L1268.77,344.27 L1270.16,344.05 L1271.54,343.83 L1272.92,343.62 L1274.31,343.41 L1275.69,343.2 L1277.07,342.99 L1278.46,342.78 L1279.84,342.58 L1281.22,342.38 L1282.61,342.18 L1283.99,341.98 L1285.37,341.78 L1286.76,341.59 L1288.14,341.4 L1289.52,341.21 L1290.91,341.02 L1292.29,340.83 L1293.67,340.65 L1295.06,340.46 L1296.44,340.28 L1297.82,340.1 L1299.21,339.92 L1300.59,339.75 L1301.98,339.57 L1303.36,339.4 L1304.74,339.23 L1306.13,339.06 L1307.51,338.89 L1308.89,338.72 L1310.28,338.56 L1311.66,338.39 L1313.04,338.23 L1314.43,338.07 L1315.81,337.91 L1317.19,337.76 L1318.58,337.6 L1319.96,337.45 L1321.34,337.29 L1322.73,337.14 L1324.11,336.99 L1325.49,336.85 L1326.88,336.7 L1328.26,336.55 L1329.64,336.41 L1331.03,336.27 L1332.41,336.13 L1333.79,335.99 L1335.18,335.85 L1336.56,335.71 L1337.95,335.58 L1339.33,335.44 L1340.71,335.31 L1342.1,335.18 L1343.48,335.05 L1344.86,334.92 L1346.25,334.79 L1347.63,334.66 L1349.01,334.54 L1350.4,334.41 L1351.78,334.29 L1353.16,334.17 L1354.55,334.05 L1355.93,333.93 L1357.31,333.81 L1358.7,333.69 L1360.08,333.57 L1361.46,333.46 L1362.85,333.35 L1364.23,333.23 L1365.61,333.12 L1367,333.01 L1368.38,332.9 L1369.76,332.79 L1371.15,332.69 L1372.53,332.58 L1373.92,332.48 L1375.3,332.37 L1376.68,332.27 L1378.07,332.17 L1379.45,332.06 L1380.83,331.96 L1382.22,331.87 L1383.6,331.77 L1384.98,331.67 L1386.37,331.57 L1387.75,331.48 L1389.13,331.38 L1390.52,331.29 L1391.9,331.2" fill="none" stroke="#1a35f5" stroke-width="4.0"   stroke-linejoin="round"/>
<path d="M839.9,686.6 L841.28,682.88 L842.67,678.75 L844.05,674.47 L845.43,670.1 L846.82,665.67 L848.2,661.2 L849.58,656.69 L850.97,652.17 L852.35,647.63 L853.73,643.09 L855.12,638.54 L856.5,634 L857.88,629.46 L859.27,624.92 L860.65,620.4 L862.04,615.88 L863.42,611.38 L864.8,606.89 L866.19,602.42 L867.57,597.96 L868.95,593.52 L870.34,589.1 L871.72,584.69 L873.1,580.31 L874.49,575.95 L875.87,571.61 L877.25,567.29 L878.64,563 L880.02,558.72 L881.4,554.47 L882.79,550.25 L884.17,546.05 L885.55,541.87 L886.94,537.71 L888.32,533.59 L889.7,529.48 L891.09,525.4 L892.47,521.35 L893.85,517.32 L895.24,513.32 L896.62,509.34 L898.01,505.39 L899.39,501.47 L900.77,497.57 L902.16,493.7 L903.54,489.85 L904.92,486.03 L906.31,482.24 L907.69,478.47 L909.07,474.73 L910.46,471.01 L911.84,467.32 L913.22,463.66 L914.61,460.02 L915.99,456.41 L917.37,452.83 L918.76,449.27 L920.14,445.74 L921.52,442.23 L922.91,438.75 L924.29,435.29 L925.67,431.86 L927.06,428.46 L928.44,425.08 L929.82,421.73 L931.21,418.4 L932.59,415.1 L933.98,411.82 L935.36,408.57 L936.74,405.34 L938.13,402.14 L939.51,398.96 L940.89,395.81 L942.28,392.68 L943.66,389.58 L945.04,386.5 L946.43,383.44 L947.81,380.41 L949.19,377.4 L950.58,374.42 L951.96,371.46 L953.34,368.52 L954.73,365.61 L956.11,362.72 L957.49,359.86 L958.88,357.01 L960.26,354.19 L961.64,351.4 L963.03,348.62 L964.41,345.87 L965.79,343.14 L967.18,340.43 L968.56,337.75 L969.95,335.08 L971.33,332.44 L972.71,329.82 L974.1,327.23 L975.48,324.65 L976.86,322.1 L978.25,319.56 L979.63,317.05 L981.01,314.56 L982.4,312.09 L983.78,309.64 L985.16,307.21 L986.55,304.8 L987.93,302.41 L989.31,300.04 L990.7,297.69 L992.08,295.36 L993.46,293.05 L994.85,290.76 L996.23,288.49 L997.61,286.24 L999,284.01 L1000.38,281.8 L1001.76,279.6 L1003.15,277.43 L1004.53,275.27 L1005.92,273.13 L1007.3,271.01 L1008.68,268.91 L1010.07,266.83 L1011.45,264.77 L1012.83,262.72 L1014.22,260.69 L1015.6,258.68 L1016.98,256.68 L1018.37,254.7 L1019.75,252.74 L1021.13,250.8 L1022.52,248.88 L1023.9,246.97 L1025.28,245.07 L1026.67,243.2 L1028.05,241.34 L1029.43,239.49 L1030.82,237.67 L1032.2,235.86 L1033.58,234.06 L1034.97,232.28 L1036.35,230.52 L1037.73,228.77 L1039.12,227.04 L1040.5,225.32 L1041.88,223.62 L1043.27,221.93 L1044.65,220.26 L1046.04,218.6 L1047.42,216.96 L1048.8,215.33 L1050.19,213.72 L1051.57,212.12 L1052.95,210.53 L1054.34,208.96 L1055.72,207.41 L1057.1,205.87 L1058.49,204.34 L1059.87,202.82 L1061.25,201.32 L1062.64,199.83 L1064.02,198.36 L1065.4,196.9 L1066.79,195.45 L1068.17,194.01 L1069.55,192.59 L1070.94,191.18 L1072.32,189.79 L1073.7,188.4 L1075.09,187.03 L1076.47,185.67 L1077.85,184.33 L1079.24,182.99 L1080.62,181.67 L1082.01,180.36 L1083.39,179.06 L1084.77,177.77 L1086.16,176.5 L1087.54,175.24 L1088.92,173.98 L1090.31,172.74 L1091.69,171.52 L1093.07,170.3 L1094.46,169.09 L1095.84,167.9 L1097.22,166.71 L1098.61,165.54 L1099.99,164.37 L1101.37,163.22 L1102.76,162.08 L1104.14,160.95 L1105.52,159.83 L1106.91,158.72 L1108.29,157.62 L1109.67,156.53 L1111.06,155.45 L1112.44,154.38 L1113.82,153.32 L1115.21,152.27 L1116.59,151.23 L1117.98,150.2 L1119.36,149.18 L1120.74,148.16 L1122.13,147.16 L1123.51,146.17 L1124.89,145.19 L1126.28,144.21 L1127.66,143.25 L1129.04,142.29 L1130.43,141.34 L1131.81,140.4 L1133.19,139.47 L1134.58,138.55 L1135.96,137.64 L1137.34,136.73 L1138.73,135.84 L1140.11,134.95 L1141.49,134.07 L1142.88,133.2 L1144.26,132.34 L1145.64,131.48 L1147.03,130.63 L1148.41,129.8 L1149.79,128.96 L1151.18,128.14 L1152.56,127.33 L1153.95,126.52 L1155.33,125.72 L1156.71,124.93 L1158.1,124.14 L1159.48,123.36 L1160.86,122.59 L1162.25,121.83 L1163.63,121.07 L1165.01,120.33 L1166.4,119.58 L1167.78,118.85 L1169.16,118.12 L1170.55,117.4 L1171.93,116.69 L1173.31,115.98 L1174.7,115.28 L1176.08,114.58 L1177.46,113.9 L1178.85,113.22 L1180.23,112.54 L1181.61,111.87 L1183,111.21 L1184.38,110.56 L1185.76,109.91 L1187.15,109.27 L1188.53,108.63 L1189.92,108 L1191.3,107.37 L1192.68,106.75 L1194.07,106.14 L1195.45,105.53 L1196.83,104.93 L1198.22,104.34 L1199.6,103.75 L1200.98,103.16 L1202.37,102.59 L1203.75,102.01 L1205.13,101.45 L1206.52,100.88 L1207.9,100.33 L1209.28,99.78 L1210.67,99.23 L1212.05,98.69 L1213.43,98.15 L1214.82,97.62 L1216.2,97.1 L1217.58,96.58 L1218.97,96.06 L1220.35,95.55 L1221.73,95.05 L1223.12,94.55 L1224.5,94.05 L1225.88,93.56 L1227.27,93.07 L1228.65,92.59 L1230.04,92.11 L1231.42,91.64 L1232.8,91.17 L1234.19,90.71 L1235.57,90.25 L1236.95,89.8 L1238.34,89.35 L1239.72,88.9 L1241.1,88.46 L1242.49,88.02 L1243.87,87.59 L1245.25,87.16 L1246.64,86.74 L1248.02,86.32 L1249.4,85.9 L1250.79,85.49 L1252.17,85.08 L1253.55,84.68 L1254.94,84.28 L1256.32,83.88 L1257.7,83.49 L1259.09,83.1 L1260.47,82.72 L1261.85,82.34 L1263.24,81.96 L1264.62,81.58 L1266.01,81.21 L1267.39,80.85 L1268.77,80.48 L1270.16,80.13 L1271.54,79.77 L1272.92,79.42 L1274.31,79.07 L1275.69,78.72 L1277.07,78.38 L1278.46,78.04 L1279.84,77.71 L1281.22,77.37 L1282.61,77.04 L1283.99,76.72 L1285.37,76.4 L1286.76,76.08 L1288.14,75.76 L1289.52,75.45 L1290.91,75.14 L1292.29,74.83 L1293.67,74.53 L1295.06,74.23 L1296.44,73.93 L1297.82,73.63 L1299.21,73.34 L1300.59,73.05 L1301.98,72.76 L1303.36,72.48 L1304.74,72.2 L1306.13,71.92 L1307.51,71.65 L1308.89,71.37 L1310.28,71.1 L1311.66,70.84 L1313.04,70.57 L1314.43,70.31 L1315.81,70.05 L1317.19,69.79 L1318.58,69.54 L1319.96,69.29 L1321.34,69.04 L1322.73,68.79 L1324.11,68.55 L1325.49,68.3 L1326.88,68.06 L1328.26,67.83 L1329.64,67.59 L1331.03,67.36 L1332.41,67.13 L1333.79,66.9 L1335.18,66.67 L1336.56,66.45 L1337.95,66.23 L1339.33,66.01 L1340.71,65.79 L1342.1,65.58 L1343.48,65.37 L1344.86,65.16 L1346.25,64.95 L1347.63,64.74 L1349.01,64.54 L1350.4,64.33 L1351.78,64.13 L1353.16,63.93 L1354.55,63.74 L1355.93,63.54 L1357.31,63.35 L1358.7,63.16 L1360.08,62.97 L1361.46,62.79 L1362.85,62.6 L1364.23,62.42 L1365.61,62.24 L1367,62.06 L1368.38,61.88 L1369.76,61.7 L1371.15,61.53 L1372.53,61.36 L1373.92,61.19 L1375.3,61.02 L1376.68,60.85 L1378.07,60.68 L1379.45,60.52 L1380.83,60.36 L1382.22,60.2 L1383.6,60.04 L1384.98,59.88 L1386.37,59.73 L1387.75,59.57 L1389.13,59.42 L1390.52,59.27 L1391.9,59.12" fill="none" stroke="#22b533" stroke-width="4.0" stroke-dasharray="4 9.3"  stroke-linejoin="round"/>
<path d="M839.9,686.6 L841.28,686.09 L842.67,685.32 L844.05,684.4 L845.43,683.39 L846.82,682.28 L848.2,681.11 L849.58,679.88 L850.97,678.59 L852.35,677.24 L853.73,675.86 L855.12,674.43 L856.5,672.97 L857.88,671.47 L859.27,669.93 L860.65,668.37 L862.04,666.78 L863.42,665.16 L864.8,663.52 L866.19,661.85 L867.57,660.16 L868.95,658.46 L870.34,656.73 L871.72,654.98 L873.1,653.22 L874.49,651.44 L875.87,649.64 L877.25,647.83 L878.64,646.01 L880.02,644.18 L881.4,642.33 L882.79,640.47 L884.17,638.6 L885.55,636.72 L886.94,634.83 L888.32,632.94 L889.7,631.03 L891.09,629.12 L892.47,627.2 L893.85,625.27 L895.24,623.34 L896.62,621.4 L898.01,619.45 L899.39,617.51 L900.77,615.55 L902.16,613.6 L903.54,611.64 L904.92,609.67 L906.31,607.71 L907.69,605.74 L909.07,603.77 L910.46,601.8 L911.84,599.83 L913.22,597.85 L914.61,595.88 L915.99,593.9 L917.37,591.93 L918.76,589.95 L920.14,587.97 L921.52,586 L922.91,584.03 L924.29,582.05 L925.67,580.08 L927.06,578.11 L928.44,576.15 L929.82,574.18 L931.21,572.22 L932.59,570.26 L933.98,568.3 L935.36,566.34 L936.74,564.39 L938.13,562.44 L939.51,560.5 L940.89,558.55 L942.28,556.62 L943.66,554.68 L945.04,552.75 L946.43,550.83 L947.81,548.9 L949.19,546.99 L950.58,545.08 L951.96,543.17 L953.34,541.27 L954.73,539.37 L956.11,537.48 L957.49,535.59 L958.88,533.71 L960.26,531.83 L961.64,529.96 L963.03,528.1 L964.41,526.24 L965.79,524.39 L967.18,522.54 L968.56,520.7 L969.95,518.87 L971.33,517.04 L972.71,515.22 L974.1,513.41 L975.48,511.6 L976.86,509.8 L978.25,508.01 L979.63,506.22 L981.01,504.44 L982.4,502.67 L983.78,500.9 L985.16,499.14 L986.55,497.39 L987.93,495.65 L989.31,493.91 L990.7,492.18 L992.08,490.46 L993.46,488.74 L994.85,487.04 L996.23,485.34 L997.61,483.65 L999,481.96 L1000.38,480.29 L1001.76,478.62 L1003.15,476.96 L1004.53,475.31 L1005.92,473.66 L1007.3,472.02 L1008.68,470.4 L1010.07,468.77 L1011.45,467.16 L1012.83,465.56 L1014.22,463.96 L1015.6,462.37 L1016.98,460.79 L1018.37,459.22 L1019.75,457.65 L1021.13,456.1 L1022.52,454.55 L1023.9,453.01 L1025.28,451.48 L1026.67,449.96 L1028.05,448.44 L1029.43,446.93 L1030.82,445.44 L1032.2,443.95 L1033.58,442.46 L1034.97,440.99 L1036.35,439.52 L1037.73,438.07 L1039.12,436.62 L1040.5,435.18 L1041.88,433.75 L1043.27,432.32 L1044.65,430.91 L1046.04,429.5 L1047.42,428.1 L1048.8,426.71 L1050.19,425.33 L1051.57,423.95 L1052.95,422.59 L1054.34,421.23 L1055.72,419.88 L1057.1,418.54 L1058.49,417.21 L1059.87,415.88 L1061.25,414.57 L1062.64,413.26 L1064.02,411.96 L1065.4,410.67 L1066.79,409.39 L1068.17,408.11 L1069.55,406.84 L1070.94,405.58 L1072.32,404.33 L1073.7,403.09 L1075.09,401.85 L1076.47,400.63 L1077.85,399.41 L1079.24,398.2 L1080.62,397 L1082.01,395.8 L1083.39,394.61 L1084.77,393.44 L1086.16,392.26 L1087.54,391.1 L1088.92,389.95 L1090.31,388.8 L1091.69,387.66 L1093.07,386.53 L1094.46,385.4 L1095.84,384.29 L1097.22,383.18 L1098.61,382.08 L1099.99,380.98 L1101.37,379.9 L1102.76,378.82 L1104.14,377.75 L1105.52,376.69 L1106.91,375.63 L1108.29,374.58 L1109.67,373.54 L1111.06,372.51 L1112.44,371.49 L1113.82,370.47 L1115.21,369.46 L1116.59,368.45 L1117.98,367.46 L1119.36,366.47 L1120.74,365.49 L1122.13,364.51 L1123.51,363.55 L1124.89,362.59 L1126.28,361.63 L1127.66,360.69 L1129.04,359.75 L1130.43,358.82 L1131.81,357.89 L1133.19,356.97 L1134.58,356.06 L1135.96,355.16 L1137.34,354.26 L1138.73,353.37 L1140.11,352.49 L1141.49,351.61 L1142.88,350.74 L1144.26,349.87 L1145.64,349.02 L1147.03,348.17 L1148.41,347.32 L1149.79,346.49 L1151.18,345.65 L1152.56,344.83 L1153.95,344.01 L1155.33,343.2 L1156.71,342.4 L1158.1,341.6 L1159.48,340.8 L1160.86,340.02 L1162.25,339.24 L1163.63,338.46 L1165.01,337.7 L1166.4,336.94 L1167.78,336.18 L1169.16,335.43 L1170.55,334.69 L1171.93,333.95 L1173.31,333.22 L1174.7,332.49 L1176.08,331.77 L1177.46,331.06 L1178.85,330.35 L1180.23,329.65 L1181.61,328.95 L1183,328.26 L1184.38,327.58 L1185.76,326.9 L1187.15,326.23 L1188.53,325.56 L1189.92,324.9 L1191.3,324.24 L1192.68,323.59 L1194.07,322.94 L1195.45,322.3 L1196.83,321.66 L1198.22,321.03 L1199.6,320.41 L1200.98,319.79 L1202.37,319.18 L1203.75,318.57 L1205.13,317.96 L1206.52,317.36 L1207.9,316.77 L1209.28,316.18 L1210.67,315.6 L1212.05,315.02 L1213.43,314.45 L1214.82,313.88 L1216.2,313.31 L1217.58,312.75 L1218.97,312.2 L1220.35,311.65 L1221.73,311.11 L1223.12,310.57 L1224.5,310.03 L1225.88,309.5 L1227.27,308.98 L1228.65,308.45 L1230.04,307.94 L1231.42,307.43 L1232.8,306.92 L1234.19,306.42 L1235.57,305.92 L1236.95,305.42 L1238.34,304.93 L1239.72,304.45 L1241.1,303.97 L1242.49,303.49 L1243.87,303.02 L1245.25,302.55 L1246.64,302.08 L1248.02,301.62 L1249.4,301.17 L1250.79,300.72 L1252.17,300.27 L1253.55,299.83 L1254.94,299.39 L1256.32,298.95 L1257.7,298.52 L1259.09,298.09 L1260.47,297.67 L1261.85,297.25 L1263.24,296.83 L1264.62,296.42 L1266.01,296.01 L1267.39,295.6 L1268.77,295.2 L1270.16,294.81 L1271.54,294.41 L1272.92,294.02 L1274.31,293.64 L1275.69,293.25 L1277.07,292.87 L1278.46,292.5 L1279.84,292.12 L1281.22,291.76 L1282.61,291.39 L1283.99,291.03 L1285.37,290.67 L1286.76,290.31 L1288.14,289.96 L1289.52,289.61 L1290.91,289.27 L1292.29,288.93 L1293.67,288.59 L1295.06,288.25 L1296.44,287.92 L1297.82,287.59 L1299.21,287.26 L1300.59,286.94 L1301.98,286.62 L1303.36,286.3 L1304.74,285.99 L1306.13,285.68 L1307.51,285.37 L1308.89,285.06 L1310.28,284.76 L1311.66,284.46 L1313.04,284.17 L1314.43,283.87 L1315.81,283.58 L1317.19,283.29 L1318.58,283.01 L1319.96,282.73 L1321.34,282.45 L1322.73,282.17 L1324.11,281.9 L1325.49,281.62 L1326.88,281.36 L1328.26,281.09 L1329.64,280.83 L1331.03,280.56 L1332.41,280.31 L1333.79,280.05 L1335.18,279.8 L1336.56,279.55 L1337.95,279.3 L1339.33,279.05 L1340.71,278.81 L1342.1,278.57 L1343.48,278.33 L1344.86,278.09 L1346.25,277.86 L1347.63,277.62 L1349.01,277.4 L1350.4,277.17 L1351.78,276.94 L1353.16,276.72 L1354.55,276.5 L1355.93,276.28 L1357.31,276.07 L1358.7,275.85 L1360.08,275.64 L1361.46,275.43 L1362.85,275.22 L1364.23,275.02 L1365.61,274.81 L1367,274.61 L1368.38,274.41 L1369.76,274.22 L1371.15,274.02 L1372.53,273.83 L1373.92,273.64 L1375.3,273.45 L1376.68,273.26 L1378.07,273.07 L1379.45,272.89 L1380.83,272.71 L1382.22,272.53 L1383.6,272.35 L1384.98,272.17 L1386.37,272 L1387.75,271.83 L1389.13,271.66 L1390.52,271.49 L1391.9,271.32" fill="none" stroke="#d20000" stroke-width="4.0" stroke-dasharray="41 11.5"  stroke-linejoin="round"/>
<path d="M839.9,686.6 L841.28,686.56 L842.67,686.48 L844.05,686.37 L845.43,686.23 L846.82,686.07 L848.2,685.88 L849.58,685.67 L850.97,685.43 L852.35,685.18 L853.73,684.9 L855.12,684.61 L856.5,684.3 L857.88,683.98 L859.27,683.63 L860.65,683.27 L862.04,682.9 L863.42,682.5 L864.8,682.1 L866.19,681.68 L867.57,681.24 L868.95,680.79 L870.34,680.33 L871.72,679.85 L873.1,679.36 L874.49,678.86 L875.87,678.34 L877.25,677.81 L878.64,677.27 L880.02,676.72 L881.4,676.16 L882.79,675.59 L884.17,675 L885.55,674.41 L886.94,673.8 L888.32,673.18 L889.7,672.56 L891.09,671.92 L892.47,671.28 L893.85,670.62 L895.24,669.96 L896.62,669.28 L898.01,668.6 L899.39,667.91 L900.77,667.21 L902.16,666.5 L903.54,665.78 L904.92,665.06 L906.31,664.33 L907.69,663.59 L909.07,662.84 L910.46,662.09 L911.84,661.32 L913.22,660.56 L914.61,659.78 L915.99,659 L917.37,658.21 L918.76,657.42 L920.14,656.62 L921.52,655.81 L922.91,655 L924.29,654.18 L925.67,653.36 L927.06,652.53 L928.44,651.69 L929.82,650.86 L931.21,650.01 L932.59,649.16 L933.98,648.31 L935.36,647.45 L936.74,646.59 L938.13,645.72 L939.51,644.85 L940.89,643.98 L942.28,643.1 L943.66,642.22 L945.04,641.33 L946.43,640.45 L947.81,639.55 L949.19,638.66 L950.58,637.76 L951.96,636.86 L953.34,635.96 L954.73,635.05 L956.11,634.14 L957.49,633.23 L958.88,632.32 L960.26,631.4 L961.64,630.49 L963.03,629.57 L964.41,628.64 L965.79,627.72 L967.18,626.8 L968.56,625.87 L969.95,624.94 L971.33,624.01 L972.71,623.09 L974.1,622.15 L975.48,621.22 L976.86,620.29 L978.25,619.36 L979.63,618.42 L981.01,617.49 L982.4,616.55 L983.78,615.62 L985.16,614.68 L986.55,613.75 L987.93,612.81 L989.31,611.88 L990.7,610.94 L992.08,610 L993.46,609.07 L994.85,608.14 L996.23,607.2 L997.61,606.27 L999,605.34 L1000.38,604.4 L1001.76,603.47 L1003.15,602.54 L1004.53,601.61 L1005.92,600.68 L1007.3,599.76 L1008.68,598.83 L1010.07,597.91 L1011.45,596.98 L1012.83,596.06 L1014.22,595.14 L1015.6,594.22 L1016.98,593.31 L1018.37,592.39 L1019.75,591.48 L1021.13,590.57 L1022.52,589.66 L1023.9,588.75 L1025.28,587.84 L1026.67,586.94 L1028.05,586.04 L1029.43,585.14 L1030.82,584.24 L1032.2,583.35 L1033.58,582.46 L1034.97,581.57 L1036.35,580.68 L1037.73,579.79 L1039.12,578.91 L1040.5,578.03 L1041.88,577.16 L1043.27,576.28 L1044.65,575.41 L1046.04,574.55 L1047.42,573.68 L1048.8,572.82 L1050.19,571.96 L1051.57,571.11 L1052.95,570.25 L1054.34,569.4 L1055.72,568.56 L1057.1,567.71 L1058.49,566.88 L1059.87,566.04 L1061.25,565.21 L1062.64,564.38 L1064.02,563.55 L1065.4,562.73 L1066.79,561.91 L1068.17,561.09 L1069.55,560.28 L1070.94,559.47 L1072.32,558.67 L1073.7,557.87 L1075.09,557.07 L1076.47,556.28 L1077.85,555.49 L1079.24,554.7 L1080.62,553.92 L1082.01,553.14 L1083.39,552.37 L1084.77,551.6 L1086.16,550.83 L1087.54,550.07 L1088.92,549.31 L1090.31,548.55 L1091.69,547.8 L1093.07,547.06 L1094.46,546.31 L1095.84,545.58 L1097.22,544.84 L1098.61,544.11 L1099.99,543.38 L1101.37,542.66 L1102.76,541.94 L1104.14,541.23 L1105.52,540.52 L1106.91,539.81 L1108.29,539.11 L1109.67,538.42 L1111.06,537.72 L1112.44,537.03 L1113.82,536.35 L1115.21,535.67 L1116.59,534.99 L1117.98,534.32 L1119.36,533.65 L1120.74,532.99 L1122.13,532.33 L1123.51,531.68 L1124.89,531.02 L1126.28,530.38 L1127.66,529.74 L1129.04,529.1 L1130.43,528.46 L1131.81,527.84 L1133.19,527.21 L1134.58,526.59 L1135.96,525.97 L1137.34,525.36 L1138.73,524.75 L1140.11,524.15 L1141.49,523.55 L1142.88,522.95 L1144.26,522.36 L1145.64,521.78 L1147.03,521.2 L1148.41,520.62 L1149.79,520.04 L1151.18,519.47 L1152.56,518.91 L1153.95,518.35 L1155.33,517.79 L1156.71,517.24 L1158.1,516.69 L1159.48,516.14 L1160.86,515.6 L1162.25,515.07 L1163.63,514.54 L1165.01,514.01 L1166.4,513.49 L1167.78,512.97 L1169.16,512.45 L1170.55,511.94 L1171.93,511.43 L1173.31,510.93 L1174.7,510.43 L1176.08,509.94 L1177.46,509.45 L1178.85,508.96 L1180.23,508.48 L1181.61,508 L1183,507.52 L1184.38,507.05 L1185.76,506.59 L1187.15,506.12 L1188.53,505.67 L1189.92,505.21 L1191.3,504.76 L1192.68,504.31 L1194.07,503.87 L1195.45,503.43 L1196.83,503 L1198.22,502.56 L1199.6,502.14 L1200.98,501.71 L1202.37,501.29 L1203.75,500.88 L1205.13,500.46 L1206.52,500.05 L1207.9,499.65 L1209.28,499.25 L1210.67,498.85 L1212.05,498.46 L1213.43,498.07 L1214.82,497.68 L1216.2,497.3 L1217.58,496.92 L1218.97,496.54 L1220.35,496.17 L1221.73,495.8 L1223.12,495.43 L1224.5,495.07 L1225.88,494.71 L1227.27,494.36 L1228.65,494.01 L1230.04,493.66 L1231.42,493.31 L1232.8,492.97 L1234.19,492.63 L1235.57,492.3 L1236.95,491.97 L1238.34,491.64 L1239.72,491.31 L1241.1,490.99 L1242.49,490.67 L1243.87,490.36 L1245.25,490.05 L1246.64,489.74 L1248.02,489.43 L1249.4,489.13 L1250.79,488.83 L1252.17,488.53 L1253.55,488.24 L1254.94,487.95 L1256.32,487.66 L1257.7,487.38 L1259.09,487.1 L1260.47,486.82 L1261.85,486.54 L1263.24,486.27 L1264.62,486 L1266.01,485.73 L1267.39,485.47 L1268.77,485.21 L1270.16,484.95 L1271.54,484.69 L1272.92,484.44 L1274.31,484.19 L1275.69,483.94 L1277.07,483.7 L1278.46,483.46 L1279.84,483.22 L1281.22,482.98 L1282.61,482.75 L1283.99,482.52 L1285.37,482.29 L1286.76,482.06 L1288.14,481.84 L1289.52,481.62 L1290.91,481.4 L1292.29,481.18 L1293.67,480.97 L1295.06,480.76 L1296.44,480.55 L1297.82,480.34 L1299.21,480.14 L1300.59,479.93 L1301.98,479.73 L1303.36,479.54 L1304.74,479.34 L1306.13,479.15 L1307.51,478.96 L1308.89,478.77 L1310.28,478.58 L1311.66,478.4 L1313.04,478.22 L1314.43,478.04 L1315.81,477.86 L1317.19,477.69 L1318.58,477.51 L1319.96,477.34 L1321.34,477.17 L1322.73,477 L1324.11,476.84 L1325.49,476.68 L1326.88,476.52 L1328.26,476.36 L1329.64,476.2 L1331.03,476.04 L1332.41,475.89 L1333.79,475.74 L1335.18,475.59 L1336.56,475.44 L1337.95,475.3 L1339.33,475.15 L1340.71,475.01 L1342.1,474.87 L1343.48,474.73 L1344.86,474.59 L1346.25,474.46 L1347.63,474.32 L1349.01,474.19 L1350.4,474.06 L1351.78,473.93 L1353.16,473.8 L1354.55,473.68 L1355.93,473.56 L1357.31,473.43 L1358.7,473.31 L1360.08,473.19 L1361.46,473.08 L1362.85,472.96 L1364.23,472.85 L1365.61,472.73 L1367,472.62 L1368.38,472.51 L1369.76,472.4 L1371.15,472.29 L1372.53,472.19 L1373.92,472.08 L1375.3,471.98 L1376.68,471.88 L1378.07,471.78 L1379.45,471.68 L1380.83,471.58 L1382.22,471.49 L1383.6,471.39 L1384.98,471.3 L1386.37,471.2 L1387.75,471.11 L1389.13,471.02 L1390.52,470.93 L1391.9,470.85" fill="none" stroke="#0fd0d0" stroke-width="4.0" stroke-dasharray="41 9 4 9"  stroke-linejoin="round"/>
<path d="M839.9,686.6 L841.28,686.59 L842.67,686.59 L844.05,686.58 L845.43,686.57 L846.82,686.56 L848.2,686.55 L849.58,686.54 L850.97,686.53 L852.35,686.52 L853.73,686.51 L855.12,686.5 L856.5,686.49 L857.88,686.48 L859.27,686.47 L860.65,686.45 L862.04,686.44 L863.42,686.43 L864.8,686.42 L866.19,686.41 L867.57,686.4 L868.95,686.39 L870.34,686.38 L871.72,686.36 L873.1,686.35 L874.49,686.34 L875.87,686.33 L877.25,686.32 L878.64,686.31 L880.02,686.29 L881.4,686.28 L882.79,686.27 L884.17,686.26 L885.55,686.25 L886.94,686.23 L888.32,686.22 L889.7,686.21 L891.09,686.2 L892.47,686.19 L893.85,686.17 L895.24,686.16 L896.62,686.15 L898.01,686.14 L899.39,686.12 L900.77,686.11 L902.16,686.1 L903.54,686.09 L904.92,686.08 L906.31,686.06 L907.69,686.05 L909.07,686.04 L910.46,686.03 L911.84,686.01 L913.22,686 L914.61,685.99 L915.99,685.98 L917.37,685.96 L918.76,685.95 L920.14,685.94 L921.52,685.93 L922.91,685.91 L924.29,685.9 L925.67,685.89 L927.06,685.87 L928.44,685.86 L929.82,685.85 L931.21,685.84 L932.59,685.82 L933.98,685.81 L935.36,685.8 L936.74,685.79 L938.13,685.77 L939.51,685.76 L940.89,685.75 L942.28,685.73 L943.66,685.72 L945.04,685.71 L946.43,685.7 L947.81,685.68 L949.19,685.67 L950.58,685.66 L951.96,685.64 L953.34,685.63 L954.73,685.62 L956.11,685.61 L957.49,685.59 L958.88,685.58 L960.26,685.57 L961.64,685.55 L963.03,685.54 L964.41,685.53 L965.79,685.52 L967.18,685.5 L968.56,685.49 L969.95,685.48 L971.33,685.46 L972.71,685.45 L974.1,685.44 L975.48,685.43 L976.86,685.41 L978.25,685.4 L979.63,685.39 L981.01,685.37 L982.4,685.36 L983.78,685.35 L985.16,685.34 L986.55,685.32 L987.93,685.31 L989.31,685.3 L990.7,685.28 L992.08,685.27 L993.46,685.26 L994.85,685.25 L996.23,685.23 L997.61,685.22 L999,685.21 L1000.38,685.19 L1001.76,685.18 L1003.15,685.17 L1004.53,685.16 L1005.92,685.14 L1007.3,685.13 L1008.68,685.12 L1010.07,685.1 L1011.45,685.09 L1012.83,685.08 L1014.22,685.06 L1015.6,685.05 L1016.98,685.04 L1018.37,685.03 L1019.75,685.01 L1021.13,685 L1022.52,684.99 L1023.9,684.98 L1025.28,684.96 L1026.67,684.95 L1028.05,684.94 L1029.43,684.92 L1030.82,684.91 L1032.2,684.9 L1033.58,684.89 L1034.97,684.87 L1036.35,684.86 L1037.73,684.85 L1039.12,684.83 L1040.5,684.82 L1041.88,684.81 L1043.27,684.8 L1044.65,684.78 L1046.04,684.77 L1047.42,684.76 L1048.8,684.74 L1050.19,684.73 L1051.57,684.72 L1052.95,684.71 L1054.34,684.69 L1055.72,684.68 L1057.1,684.67 L1058.49,684.66 L1059.87,684.64 L1061.25,684.63 L1062.64,684.62 L1064.02,684.6 L1065.4,684.59 L1066.79,684.58 L1068.17,684.57 L1069.55,684.55 L1070.94,684.54 L1072.32,684.53 L1073.7,684.52 L1075.09,684.5 L1076.47,684.49 L1077.85,684.48 L1079.24,684.47 L1080.62,684.45 L1082.01,684.44 L1083.39,684.43 L1084.77,684.42 L1086.16,684.4 L1087.54,684.39 L1088.92,684.38 L1090.31,684.37 L1091.69,684.35 L1093.07,684.34 L1094.46,684.33 L1095.84,684.32 L1097.22,684.3 L1098.61,684.29 L1099.99,684.28 L1101.37,684.27 L1102.76,684.25 L1104.14,684.24 L1105.52,684.23 L1106.91,684.22 L1108.29,684.2 L1109.67,684.19 L1111.06,684.18 L1112.44,684.17 L1113.82,684.15 L1115.21,684.14 L1116.59,684.13 L1117.98,684.12 L1119.36,684.1 L1120.74,684.09 L1122.13,684.08 L1123.51,684.07 L1124.89,684.05 L1126.28,684.04 L1127.66,684.03 L1129.04,684.02 L1130.43,684.01 L1131.81,683.99 L1133.19,683.98 L1134.58,683.97 L1135.96,683.96 L1137.34,683.94 L1138.73,683.93 L1140.11,683.92 L1141.49,683.91 L1142.88,683.9 L1144.26,683.88 L1145.64,683.87 L1147.03,683.86 L1148.41,683.85 L1149.79,683.84 L1151.18,683.82 L1152.56,683.81 L1153.95,683.8 L1155.33,683.79 L1156.71,683.77 L1158.1,683.76 L1159.48,683.75 L1160.86,683.74 L1162.25,683.73 L1163.63,683.71 L1165.01,683.7 L1166.4,683.69 L1167.78,683.68 L1169.16,683.67 L1170.55,683.65 L1171.93,683.64 L1173.31,683.63 L1174.7,683.62 L1176.08,683.61 L1177.46,683.59 L1178.85,683.58 L1180.23,683.57 L1181.61,683.56 L1183,683.55 L1184.38,683.54 L1185.76,683.52 L1187.15,683.51 L1188.53,683.5 L1189.92,683.49 L1191.3,683.48 L1192.68,683.46 L1194.07,683.45 L1195.45,683.44 L1196.83,683.43 L1198.22,683.42 L1199.6,683.41 L1200.98,683.39 L1202.37,683.38 L1203.75,683.37 L1205.13,683.36 L1206.52,683.35 L1207.9,683.34 L1209.28,683.32 L1210.67,683.31 L1212.05,683.3 L1213.43,683.29 L1214.82,683.28 L1216.2,683.27 L1217.58,683.25 L1218.97,683.24 L1220.35,683.23 L1221.73,683.22 L1223.12,683.21 L1224.5,683.2 L1225.88,683.18 L1227.27,683.17 L1228.65,683.16 L1230.04,683.15 L1231.42,683.14 L1232.8,683.13 L1234.19,683.12 L1235.57,683.1 L1236.95,683.09 L1238.34,683.08 L1239.72,683.07 L1241.1,683.06 L1242.49,683.05 L1243.87,683.04 L1245.25,683.02 L1246.64,683.01 L1248.02,683 L1249.4,682.99 L1250.79,682.98 L1252.17,682.97 L1253.55,682.96 L1254.94,682.95 L1256.32,682.93 L1257.7,682.92 L1259.09,682.91 L1260.47,682.9 L1261.85,682.89 L1263.24,682.88 L1264.62,682.87 L1266.01,682.86 L1267.39,682.84 L1268.77,682.83 L1270.16,682.82 L1271.54,682.81 L1272.92,682.8 L1274.31,682.79 L1275.69,682.78 L1277.07,682.77 L1278.46,682.76 L1279.84,682.74 L1281.22,682.73 L1282.61,682.72 L1283.99,682.71 L1285.37,682.7 L1286.76,682.69 L1288.14,682.68 L1289.52,682.67 L1290.91,682.66 L1292.29,682.65 L1293.67,682.63 L1295.06,682.62 L1296.44,682.61 L1297.82,682.6 L1299.21,682.59 L1300.59,682.58 L1301.98,682.57 L1303.36,682.56 L1304.74,682.55 L1306.13,682.54 L1307.51,682.53 L1308.89,682.52 L1310.28,682.5 L1311.66,682.49 L1313.04,682.48 L1314.43,682.47 L1315.81,682.46 L1317.19,682.45 L1318.58,682.44 L1319.96,682.43 L1321.34,682.42 L1322.73,682.41 L1324.11,682.4 L1325.49,682.39 L1326.88,682.38 L1328.26,682.37 L1329.64,682.35 L1331.03,682.34 L1332.41,682.33 L1333.79,682.32 L1335.18,682.31 L1336.56,682.3 L1337.95,682.29 L1339.33,682.28 L1340.71,682.27 L1342.1,682.26 L1343.48,682.25 L1344.86,682.24 L1346.25,682.23 L1347.63,682.22 L1349.01,682.21 L1350.4,682.2 L1351.78,682.19 L1353.16,682.18 L1354.55,682.17 L1355.93,682.16 L1357.31,682.15 L1358.7,682.14 L1360.08,682.12 L1361.46,682.11 L1362.85,682.1 L1364.23,682.09 L1365.61,682.08 L1367,682.07 L1368.38,682.06 L1369.76,682.05 L1371.15,682.04 L1372.53,682.03 L1373.92,682.02 L1375.3,682.01 L1376.68,682 L1378.07,681.99 L1379.45,681.98 L1380.83,681.97 L1382.22,681.96 L1383.6,681.95 L1384.98,681.94 L1386.37,681.93 L1387.75,681.92 L1389.13,681.91 L1390.52,681.9 L1391.9,681.89" fill="none" stroke="#c000c8" stroke-width="4.0"   stroke-linejoin="round"/>
<rect x="836.7" y="59.2" width="557.9" height="631.2" fill="none" stroke="#5a5a5a" stroke-width="1.7"/>
<path d="M836.7,686.6 h6.5 M1394.6,686.6 h-6.5" stroke="#5a5a5a" stroke-width="1.5"/>
<text x="833.6" y="696.2" text-anchor="end">0</text>
<path d="M836.7,654.52 h6.5 M1394.6,654.52 h-6.5" stroke="#5a5a5a" stroke-width="1.5"/>
<text x="833.6" y="664.12" text-anchor="end">0.1</text>
<path d="M836.7,622.44 h6.5 M1394.6,622.44 h-6.5" stroke="#5a5a5a" stroke-width="1.5"/>
<text x="833.6" y="632.04" text-anchor="end">0.2</text>
<path d="M836.7,590.36 h6.5 M1394.6,590.36 h-6.5" stroke="#5a5a5a" stroke-width="1.5"/>
<text x="833.6" y="599.96" text-anchor="end">0.3</text>
<path d="M836.7,558.28 h6.5 M1394.6,558.28 h-6.5" stroke="#5a5a5a" stroke-width="1.5"/>
<text x="833.6" y="567.88" text-anchor="end">0.4</text>
<path d="M836.7,526.2 h6.5 M1394.6,526.2 h-6.5" stroke="#5a5a5a" stroke-width="1.5"/>
<text x="833.6" y="535.8" text-anchor="end">0.5</text>
<path d="M836.7,494.12 h6.5 M1394.6,494.12 h-6.5" stroke="#5a5a5a" stroke-width="1.5"/>
<text x="833.6" y="503.72" text-anchor="end">0.6</text>
<path d="M836.7,462.04 h6.5 M1394.6,462.04 h-6.5" stroke="#5a5a5a" stroke-width="1.5"/>
<text x="833.6" y="471.64" text-anchor="end">0.7</text>
<path d="M836.7,429.96 h6.5 M1394.6,429.96 h-6.5" stroke="#5a5a5a" stroke-width="1.5"/>
<text x="833.6" y="439.56" text-anchor="end">0.8</text>
<path d="M836.7,397.88 h6.5 M1394.6,397.88 h-6.5" stroke="#5a5a5a" stroke-width="1.5"/>
<text x="833.6" y="407.48" text-anchor="end">0.9</text>
<path d="M836.7,365.8 h6.5 M1394.6,365.8 h-6.5" stroke="#5a5a5a" stroke-width="1.5"/>
<text x="833.6" y="375.4" text-anchor="end">1</text>
<path d="M836.7,333.72 h6.5 M1394.6,333.72 h-6.5" stroke="#5a5a5a" stroke-width="1.5"/>
<text x="833.6" y="343.32" text-anchor="end">1.1</text>
<path d="M836.7,301.64 h6.5 M1394.6,301.64 h-6.5" stroke="#5a5a5a" stroke-width="1.5"/>
<text x="833.6" y="311.24" text-anchor="end">1.2</text>
<path d="M836.7,269.56 h6.5 M1394.6,269.56 h-6.5" stroke="#5a5a5a" stroke-width="1.5"/>
<text x="833.6" y="279.16" text-anchor="end">1.3</text>
<path d="M836.7,237.48 h6.5 M1394.6,237.48 h-6.5" stroke="#5a5a5a" stroke-width="1.5"/>
<text x="833.6" y="247.08" text-anchor="end">1.4</text>
<path d="M836.7,205.4 h6.5 M1394.6,205.4 h-6.5" stroke="#5a5a5a" stroke-width="1.5"/>
<text x="833.6" y="215" text-anchor="end">1.5</text>
<path d="M836.7,173.32 h6.5 M1394.6,173.32 h-6.5" stroke="#5a5a5a" stroke-width="1.5"/>
<text x="833.6" y="182.92" text-anchor="end">1.6</text>
<path d="M836.7,141.24 h6.5 M1394.6,141.24 h-6.5" stroke="#5a5a5a" stroke-width="1.5"/>
<text x="833.6" y="150.84" text-anchor="end">1.7</text>
<path d="M836.7,109.16 h6.5 M1394.6,109.16 h-6.5" stroke="#5a5a5a" stroke-width="1.5"/>
<text x="833.6" y="118.76" text-anchor="end">1.8</text>
<path d="M836.7,77.08 h6.5 M1394.6,77.08 h-6.5" stroke="#5a5a5a" stroke-width="1.5"/>
<text x="833.6" y="86.68" text-anchor="end">1.9</text>
<path d="M839.9,690.4 v-6.5 M839.9,59.2 v6.5" stroke="#5a5a5a" stroke-width="1.5"/>
<text x="841.4" y="722.2" text-anchor="middle">0</text>
<path d="M1069.9,690.4 v-6.5 M1069.9,59.2 v6.5" stroke="#5a5a5a" stroke-width="1.5"/>
<text x="1071.4" y="722.2" text-anchor="middle">20</text>
<path d="M1299.9,690.4 v-6.5 M1299.9,59.2 v6.5" stroke="#5a5a5a" stroke-width="1.5"/>
<text x="1301.4" y="722.2" text-anchor="middle">40</text>
<text x="1059.6" y="744.2" textLength="113.5" lengthAdjust="spacing">Time (h)</text>
<rect x="848.9" y="77.1" width="225.8" height="208.5" fill="#cdcdcd"/>
<rect x="852.1" y="73.9" width="225.8" height="208.5" fill="#fff" stroke="#555" stroke-width="1.6"/>
<path d="M862.1,100.2 H903.9" stroke="#1a35f5" stroke-width="3" stroke-linecap="round"/>
<text x="912.9" y="113.3" font-size="26.9">e-catheter</text>
<path d="M862.4,140.4 h0.01 M870.8,140.4 h0.01 M879.2,140.4 h0.01 M887.6,140.4 h0.01 M896,140.4 h0.01 M904.4,140.4 h0.01" stroke="#22b533" stroke-width="3.5" stroke-linecap="round"/>
<text x="912.9" y="153.5" font-size="26.9">hub</text>
<path d="M862.1,180.5 H877.4 M888.6,180.5 H903.9" stroke="#d20000" stroke-width="3" stroke-linecap="round"/>
<text x="912.9" y="188.2" font-size="26.9">luer top</text>
<path d="M860.8,220.4 H864.6 M871.4,220.4 H905.5" stroke="#0fd0d0" stroke-width="3.2"/>
<text x="912.9" y="233.8" font-size="26.9">luer bottom</text>
<path d="M862.1,260.5 H903.9" stroke="#c000c8" stroke-width="3" stroke-linecap="round"/>
<text x="912.9" y="273.2" font-size="26.9">tube</text>
</g>
<g style="font-family:'DejaVu Sans',sans-serif" font-size="27.2" fill="#000">
<path d="M840.1,1489.5 L841.48,1487.51 L842.86,1485.17 L844.24,1482.7 L845.62,1480.14 L847.01,1477.51 L848.39,1474.84 L849.77,1472.14 L851.15,1469.41 L852.53,1466.65 L853.91,1463.89 L855.29,1461.11 L856.67,1458.32 L858.05,1455.53 L859.43,1452.74 L860.82,1449.95 L862.2,1447.15 L863.58,1444.36 L864.96,1441.58 L866.34,1438.8 L867.72,1436.03 L869.1,1433.26 L870.48,1430.51 L871.86,1427.76 L873.25,1425.03 L874.63,1422.31 L876.01,1419.59 L877.39,1416.9 L878.77,1414.21 L880.15,1411.54 L881.53,1408.88 L882.91,1406.24 L884.29,1403.61 L885.67,1400.99 L887.06,1398.4 L888.44,1395.81 L889.82,1393.25 L891.2,1390.7 L892.58,1388.16 L893.96,1385.65 L895.34,1383.15 L896.72,1380.67 L898.1,1378.2 L899.49,1375.75 L900.87,1373.32 L902.25,1370.91 L903.63,1368.51 L905.01,1366.13 L906.39,1363.77 L907.77,1361.43 L909.15,1359.11 L910.53,1356.8 L911.91,1354.51 L913.3,1352.24 L914.68,1349.99 L916.06,1347.75 L917.44,1345.53 L918.82,1343.33 L920.2,1341.15 L921.58,1338.99 L922.96,1336.85 L924.34,1334.72 L925.73,1332.61 L927.11,1330.52 L928.49,1328.44 L929.87,1326.39 L931.25,1324.35 L932.63,1322.33 L934.01,1320.33 L935.39,1318.34 L936.77,1316.37 L938.15,1314.42 L939.54,1312.49 L940.92,1310.57 L942.3,1308.67 L943.68,1306.79 L945.06,1304.93 L946.44,1303.08 L947.82,1301.25 L949.2,1299.43 L950.58,1297.64 L951.97,1295.86 L953.35,1294.09 L954.73,1292.34 L956.11,1290.61 L957.49,1288.9 L958.87,1287.2 L960.25,1285.51 L961.63,1283.85 L963.01,1282.19 L964.39,1280.56 L965.78,1278.94 L967.16,1277.33 L968.54,1275.74 L969.92,1274.17 L971.3,1272.61 L972.68,1271.07 L974.06,1269.54 L975.44,1268.03 L976.82,1266.53 L978.21,1265.04 L979.59,1263.57 L980.97,1262.12 L982.35,1260.68 L983.73,1259.25 L985.11,1257.84 L986.49,1256.44 L987.87,1255.06 L989.25,1253.69 L990.63,1252.33 L992.02,1250.99 L993.4,1249.66 L994.78,1248.35 L996.16,1247.04 L997.54,1245.75 L998.92,1244.48 L1000.3,1243.21 L1001.68,1241.96 L1003.06,1240.73 L1004.45,1239.5 L1005.83,1238.29 L1007.21,1237.09 L1008.59,1235.9 L1009.97,1234.73 L1011.35,1233.57 L1012.73,1232.41 L1014.11,1231.28 L1015.49,1230.15 L1016.87,1229.03 L1018.26,1227.93 L1019.64,1226.84 L1021.02,1225.76 L1022.4,1224.69 L1023.78,1223.63 L1025.16,1222.58 L1026.54,1221.55 L1027.92,1220.52 L1029.3,1219.51 L1030.69,1218.51 L1032.07,1217.52 L1033.45,1216.53 L1034.83,1215.56 L1036.21,1214.6 L1037.59,1213.65 L1038.97,1212.71 L1040.35,1211.78 L1041.73,1210.86 L1043.11,1209.95 L1044.5,1209.05 L1045.88,1208.16 L1047.26,1207.28 L1048.64,1206.4 L1050.02,1205.54 L1051.4,1204.69 L1052.78,1203.84 L1054.16,1203.01 L1055.54,1202.18 L1056.93,1201.37 L1058.31,1200.56 L1059.69,1199.76 L1061.07,1198.97 L1062.45,1198.19 L1063.83,1197.42 L1065.21,1196.65 L1066.59,1195.9 L1067.97,1195.15 L1069.35,1194.41 L1070.74,1193.68 L1072.12,1192.96 L1073.5,1192.24 L1074.88,1191.53 L1076.26,1190.83 L1077.64,1190.14 L1079.02,1189.46 L1080.4,1188.78 L1081.78,1188.11 L1083.17,1187.45 L1084.55,1186.8 L1085.93,1186.15 L1087.31,1185.51 L1088.69,1184.88 L1090.07,1184.26 L1091.45,1183.64 L1092.83,1183.03 L1094.21,1182.42 L1095.59,1181.83 L1096.98,1181.24 L1098.36,1180.65 L1099.74,1180.07 L1101.12,1179.5 L1102.5,1178.94 L1103.88,1178.38 L1105.26,1177.83 L1106.64,1177.28 L1108.02,1176.74 L1109.41,1176.21 L1110.79,1175.68 L1112.17,1175.16 L1113.55,1174.65 L1114.93,1174.14 L1116.31,1173.64 L1117.69,1173.14 L1119.07,1172.65 L1120.45,1172.16 L1121.83,1171.68 L1123.22,1171.21 L1124.6,1170.74 L1125.98,1170.27 L1127.36,1169.81 L1128.74,1169.36 L1130.12,1168.91 L1131.5,1168.47 L1132.88,1168.03 L1134.26,1167.6 L1135.65,1167.17 L1137.03,1166.75 L1138.41,1166.33 L1139.79,1165.91 L1141.17,1165.51 L1142.55,1165.1 L1143.93,1164.7 L1145.31,1164.31 L1146.69,1163.92 L1148.07,1163.53 L1149.46,1163.15 L1150.84,1162.78 L1152.22,1162.4 L1153.6,1162.04 L1154.98,1161.67 L1156.36,1161.32 L1157.74,1160.96 L1159.12,1160.61 L1160.5,1160.26 L1161.89,1159.92 L1163.27,1159.58 L1164.65,1159.25 L1166.03,1158.92 L1167.41,1158.59 L1168.79,1158.27 L1170.17,1157.95 L1171.55,1157.63 L1172.93,1157.32 L1174.31,1157.02 L1175.7,1156.71 L1177.08,1156.41 L1178.46,1156.11 L1179.84,1155.82 L1181.22,1155.53 L1182.6,1155.24 L1183.98,1154.96 L1185.36,1154.68 L1186.74,1154.4 L1188.13,1154.13 L1189.51,1153.86 L1190.89,1153.6 L1192.27,1153.33 L1193.65,1153.07 L1195.03,1152.81 L1196.41,1152.56 L1197.79,1152.31 L1199.17,1152.06 L1200.55,1151.82 L1201.94,1151.57 L1203.32,1151.33 L1204.7,1151.1 L1206.08,1150.86 L1207.46,1150.63 L1208.84,1150.41 L1210.22,1150.18 L1211.6,1149.96 L1212.98,1149.74 L1214.37,1149.52 L1215.75,1149.31 L1217.13,1149.1 L1218.51,1148.89 L1219.89,1148.68 L1221.27,1148.47 L1222.65,1148.27 L1224.03,1148.07 L1225.41,1147.88 L1226.79,1147.68 L1228.18,1147.49 L1229.56,1147.3 L1230.94,1147.11 L1232.32,1146.93 L1233.7,1146.74 L1235.08,1146.56 L1236.46,1146.38 L1237.84,1146.21 L1239.22,1146.03 L1240.61,1145.86 L1241.99,1145.69 L1243.37,1145.52 L1244.75,1145.36 L1246.13,1145.19 L1247.51,1145.03 L1248.89,1144.87 L1250.27,1144.71 L1251.65,1144.56 L1253.03,1144.4 L1254.42,1144.25 L1255.8,1144.1 L1257.18,1143.95 L1258.56,1143.8 L1259.94,1143.66 L1261.32,1143.52 L1262.7,1143.38 L1264.08,1143.24 L1265.46,1143.1 L1266.85,1142.96 L1268.23,1142.83 L1269.61,1142.69 L1270.99,1142.56 L1272.37,1142.43 L1273.75,1142.31 L1275.13,1142.18 L1276.51,1142.05 L1277.89,1141.93 L1279.27,1141.81 L1280.66,1141.69 L1282.04,1141.57 L1283.42,1141.45 L1284.8,1141.34 L1286.18,1141.22 L1287.56,1141.11 L1288.94,1141 L1290.32,1140.89 L1291.7,1140.78 L1293.09,1140.67 L1294.47,1140.56 L1295.85,1140.46 L1297.23,1140.36 L1298.61,1140.25 L1299.99,1140.15 L1301.37,1140.05 L1302.75,1139.95 L1304.13,1139.86 L1305.51,1139.76 L1306.9,1139.67 L1308.28,1139.57 L1309.66,1139.48 L1311.04,1139.39 L1312.42,1139.3 L1313.8,1139.21 L1315.18,1139.12 L1316.56,1139.04 L1317.94,1138.95 L1319.33,1138.86 L1320.71,1138.78 L1322.09,1138.7 L1323.47,1138.62 L1324.85,1138.54 L1326.23,1138.46 L1327.61,1138.38 L1328.99,1138.3 L1330.37,1138.22 L1331.75,1138.15 L1333.14,1138.07 L1334.52,1138 L1335.9,1137.93 L1337.28,1137.86 L1338.66,1137.79 L1340.04,1137.72 L1341.42,1137.65 L1342.8,1137.58 L1344.18,1137.51 L1345.57,1137.44 L1346.95,1137.38 L1348.33,1137.31 L1349.71,1137.25 L1351.09,1137.19 L1352.47,1137.12 L1353.85,1137.06 L1355.23,1137 L1356.61,1136.94 L1357.99,1136.88 L1359.38,1136.82 L1360.76,1136.77 L1362.14,1136.71 L1363.52,1136.65 L1364.9,1136.6 L1366.28,1136.54 L1367.66,1136.49 L1369.04,1136.43 L1370.42,1136.38 L1371.81,1136.33 L1373.19,1136.28 L1374.57,1136.23 L1375.95,1136.18 L1377.33,1136.13 L1378.71,1136.08 L1380.09,1136.03 L1381.47,1135.98 L1382.85,1135.93 L1384.23,1135.89 L1385.62,1135.84 L1387,1135.8 L1388.38,1135.75 L1389.76,1135.71 L1391.14,1135.66" fill="none" stroke="#1a35f5" stroke-width="4.0"   stroke-linejoin="round"/>
<path d="M840.1,1489.5 L841.48,1485.99 L842.86,1481.81 L844.24,1477.35 L845.62,1472.72 L847.01,1467.96 L848.39,1463.11 L849.77,1458.19 L851.15,1453.22 L852.53,1448.2 L853.91,1443.14 L855.29,1438.07 L856.67,1432.97 L858.05,1427.87 L859.43,1422.75 L860.82,1417.63 L862.2,1412.52 L863.58,1407.4 L864.96,1402.3 L866.34,1397.2 L867.72,1392.12 L869.1,1387.04 L870.48,1381.99 L871.86,1376.95 L873.25,1371.94 L874.63,1366.94 L876.01,1361.96 L877.39,1357.01 L878.77,1352.09 L880.15,1347.18 L881.53,1342.31 L882.91,1337.46 L884.29,1332.64 L885.67,1327.85 L887.06,1323.09 L888.44,1318.35 L889.82,1313.65 L891.2,1308.98 L892.58,1304.34 L893.96,1299.73 L895.34,1295.16 L896.72,1290.61 L898.1,1286.1 L899.49,1281.62 L900.87,1277.18 L902.25,1272.77 L903.63,1268.39 L905.01,1264.04 L906.39,1259.74 L907.77,1255.46 L909.15,1251.22 L910.53,1247.01 L911.91,1242.84 L913.3,1238.7 L914.68,1234.59 L916.06,1230.53 L917.44,1226.49 L918.82,1222.49 L920.2,1218.52 L921.58,1214.59 L922.96,1210.69 L924.34,1206.83 L925.73,1203 L927.11,1199.21 L928.49,1195.45 L929.87,1191.72 L931.25,1188.03 L932.63,1184.37 L934.01,1180.74 L935.39,1177.15 L936.77,1173.59 L938.15,1170.07 L939.54,1166.58 L940.92,1163.12 L942.3,1159.69 L943.68,1156.3 L945.06,1152.94 L946.44,1149.61 L947.82,1146.31 L949.2,1143.05 L950.58,1139.81 L951.97,1136.61 L953.35,1133.45 L954.73,1130.31 L956.11,1127.2 L957.49,1124.12 L958.87,1121.08 L960.25,1118.07 L961.63,1115.08 L963.01,1112.13 L964.39,1109.2 L965.78,1106.31 L967.16,1103.44 L968.54,1100.61 L969.92,1097.8 L971.3,1095.02 L972.68,1092.28 L974.06,1089.56 L975.44,1086.86 L976.82,1084.2 L978.21,1081.56 L979.59,1078.96 L980.97,1076.37 L982.35,1073.82 L983.73,1071.29 L985.11,1068.79 L986.49,1066.32 L987.87,1063.87 L989.25,1061.45 L990.63,1059.06 L992.02,1056.69 L993.4,1054.35 L994.78,1052.03 L996.16,1049.73 L997.54,1047.47 L998.92,1045.22 L1000.3,1043 L1001.68,1040.81 L1003.06,1038.64 L1004.45,1036.49 L1005.83,1034.37 L1007.21,1032.27 L1008.59,1030.19 L1009.97,1028.13 L1011.35,1026.1 L1012.73,1024.09 L1014.11,1022.11 L1015.49,1020.14 L1016.87,1018.2 L1018.26,1016.28 L1019.64,1014.38 L1021.02,1012.5 L1022.4,1010.65 L1023.78,1008.81 L1025.16,1006.99 L1026.54,1005.2 L1027.92,1003.43 L1029.3,1001.67 L1030.69,999.94 L1032.07,998.22 L1033.45,996.53 L1034.83,994.85 L1036.21,993.2 L1037.59,991.56 L1038.97,989.94 L1040.35,988.34 L1041.73,986.76 L1043.11,985.19 L1044.5,983.65 L1045.88,982.12 L1047.26,980.61 L1048.64,979.12 L1050.02,977.64 L1051.4,976.19 L1052.78,974.75 L1054.16,973.32 L1055.54,971.92 L1056.93,970.52 L1058.31,969.15 L1059.69,967.79 L1061.07,966.45 L1062.45,965.12 L1063.83,963.81 L1065.21,962.52 L1066.59,961.24 L1067.97,959.97 L1069.35,958.72 L1070.74,957.49 L1072.12,956.26 L1073.5,955.06 L1074.88,953.87 L1076.26,952.69 L1077.64,951.53 L1079.02,950.38 L1080.4,949.24 L1081.78,948.12 L1083.17,947.01 L1084.55,945.91 L1085.93,944.83 L1087.31,943.76 L1088.69,942.71 L1090.07,941.66 L1091.45,940.63 L1092.83,939.61 L1094.21,938.61 L1095.59,937.61 L1096.98,936.63 L1098.36,935.66 L1099.74,934.7 L1101.12,933.76 L1102.5,932.82 L1103.88,931.9 L1105.26,930.99 L1106.64,930.09 L1108.02,929.2 L1109.41,928.32 L1110.79,927.45 L1112.17,926.59 L1113.55,925.74 L1114.93,924.91 L1116.31,924.08 L1117.69,923.26 L1119.07,922.46 L1120.45,921.66 L1121.83,920.87 L1123.22,920.1 L1124.6,919.33 L1125.98,918.57 L1127.36,917.82 L1128.74,917.08 L1130.12,916.35 L1131.5,915.63 L1132.88,914.92 L1134.26,914.22 L1135.65,913.53 L1137.03,912.84 L1138.41,912.16 L1139.79,911.49 L1141.17,910.83 L1142.55,910.18 L1143.93,909.54 L1145.31,908.9 L1146.69,908.28 L1148.07,907.66 L1149.46,907.05 L1150.84,906.44 L1152.22,905.84 L1153.6,905.26 L1154.98,904.67 L1156.36,904.1 L1157.74,903.53 L1159.12,902.97 L1160.5,902.42 L1161.89,901.87 L1163.27,901.34 L1164.65,900.8 L1166.03,900.28 L1167.41,899.76 L1168.79,899.25 L1170.17,898.74 L1171.55,898.24 L1172.93,897.75 L1174.31,897.27 L1175.7,896.79 L1177.08,896.31 L1178.46,895.84 L1179.84,895.38 L1181.22,894.93 L1182.6,894.48 L1183.98,894.03 L1185.36,893.59 L1186.74,893.16 L1188.13,892.73 L1189.51,892.31 L1190.89,891.89 L1192.27,891.48 L1193.65,891.08 L1195.03,890.68 L1196.41,890.28 L1197.79,889.89 L1199.17,889.51 L1200.55,889.13 L1201.94,888.75 L1203.32,888.38 L1204.7,888.01 L1206.08,887.65 L1207.46,887.3 L1208.84,886.95 L1210.22,886.6 L1211.6,886.26 L1212.98,885.92 L1214.37,885.59 L1215.75,885.26 L1217.13,884.93 L1218.51,884.61 L1219.89,884.29 L1221.27,883.98 L1222.65,883.67 L1224.03,883.37 L1225.41,883.07 L1226.79,882.77 L1228.18,882.48 L1229.56,882.19 L1230.94,881.91 L1232.32,881.63 L1233.7,881.35 L1235.08,881.07 L1236.46,880.8 L1237.84,880.54 L1239.22,880.27 L1240.61,880.01 L1241.99,879.76 L1243.37,879.51 L1244.75,879.26 L1246.13,879.01 L1247.51,878.77 L1248.89,878.53 L1250.27,878.29 L1251.65,878.06 L1253.03,877.83 L1254.42,877.6 L1255.8,877.38 L1257.18,877.15 L1258.56,876.94 L1259.94,876.72 L1261.32,876.51 L1262.7,876.3 L1264.08,876.09 L1265.46,875.89 L1266.85,875.69 L1268.23,875.49 L1269.61,875.29 L1270.99,875.1 L1272.37,874.91 L1273.75,874.72 L1275.13,874.53 L1276.51,874.35 L1277.89,874.17 L1279.27,873.99 L1280.66,873.81 L1282.04,873.64 L1283.42,873.47 L1284.8,873.3 L1286.18,873.13 L1287.56,872.97 L1288.94,872.81 L1290.32,872.65 L1291.7,872.49 L1293.09,872.33 L1294.47,872.18 L1295.85,872.03 L1297.23,871.88 L1298.61,871.73 L1299.99,871.59 L1301.37,871.44 L1302.75,871.3 L1304.13,871.16 L1305.51,871.02 L1306.9,870.89 L1308.28,870.75 L1309.66,870.62 L1311.04,870.49 L1312.42,870.36 L1313.8,870.23 L1315.18,870.11 L1316.56,869.98 L1317.94,869.86 L1319.33,869.74 L1320.71,869.62 L1322.09,869.51 L1323.47,869.39 L1324.85,869.28 L1326.23,869.16 L1327.61,869.05 L1328.99,868.94 L1330.37,868.84 L1331.75,868.73 L1333.14,868.63 L1334.52,868.52 L1335.9,868.42 L1337.28,868.32 L1338.66,868.22 L1340.04,868.12 L1341.42,868.03 L1342.8,867.93 L1344.18,867.84 L1345.57,867.74 L1346.95,867.65 L1348.33,867.56 L1349.71,867.47 L1351.09,867.39 L1352.47,867.3 L1353.85,867.22 L1355.23,867.13 L1356.61,867.05 L1357.99,866.97 L1359.38,866.89 L1360.76,866.81 L1362.14,866.73 L1363.52,866.65 L1364.9,866.57 L1366.28,866.5 L1367.66,866.42 L1369.04,866.35 L1370.42,866.28 L1371.81,866.21 L1373.19,866.14 L1374.57,866.07 L1375.95,866 L1377.33,865.93 L1378.71,865.87 L1380.09,865.8 L1381.47,865.74 L1382.85,865.67 L1384.23,865.61 L1385.62,865.55 L1387,865.49 L1388.38,865.43 L1389.76,865.37 L1391.14,865.31" fill="none" stroke="#22b533" stroke-width="4.0" stroke-dasharray="4 9.3"  stroke-linejoin="round"/>
<path d="M840.1,1489.5 L841.48,1488.96 L842.86,1488.12 L844.24,1487.11 L845.62,1485.98 L847.01,1484.75 L848.39,1483.44 L849.77,1482.05 L851.15,1480.59 L852.53,1479.08 L853.91,1477.51 L855.29,1475.89 L856.67,1474.22 L858.05,1472.52 L859.43,1470.77 L860.82,1468.99 L862.2,1467.17 L863.58,1465.33 L864.96,1463.45 L866.34,1461.55 L867.72,1459.62 L869.1,1457.66 L870.48,1455.69 L871.86,1453.69 L873.25,1451.67 L874.63,1449.64 L876.01,1447.59 L877.39,1445.52 L878.77,1443.43 L880.15,1441.33 L881.53,1439.22 L882.91,1437.1 L884.29,1434.96 L885.67,1432.81 L887.06,1430.66 L888.44,1428.49 L889.82,1426.32 L891.2,1424.13 L892.58,1421.95 L893.96,1419.75 L895.34,1417.55 L896.72,1415.34 L898.1,1413.13 L899.49,1410.92 L900.87,1408.7 L902.25,1406.48 L903.63,1404.26 L905.01,1402.03 L906.39,1399.81 L907.77,1397.58 L909.15,1395.35 L910.53,1393.13 L911.91,1390.9 L913.3,1388.67 L914.68,1386.45 L916.06,1384.22 L917.44,1382 L918.82,1379.78 L920.2,1377.56 L921.58,1375.35 L922.96,1373.14 L924.34,1370.93 L925.73,1368.72 L927.11,1366.52 L928.49,1364.33 L929.87,1362.14 L931.25,1359.95 L932.63,1357.77 L934.01,1355.6 L935.39,1353.43 L936.77,1351.26 L938.15,1349.1 L939.54,1346.95 L940.92,1344.81 L942.3,1342.67 L943.68,1340.54 L945.06,1338.41 L946.44,1336.3 L947.82,1334.19 L949.2,1332.09 L950.58,1329.99 L951.97,1327.91 L953.35,1325.83 L954.73,1323.76 L956.11,1321.7 L957.49,1319.65 L958.87,1317.6 L960.25,1315.57 L961.63,1313.54 L963.01,1311.52 L964.39,1309.52 L965.78,1307.52 L967.16,1305.53 L968.54,1303.55 L969.92,1301.58 L971.3,1299.62 L972.68,1297.67 L974.06,1295.73 L975.44,1293.8 L976.82,1291.88 L978.21,1289.97 L979.59,1288.07 L980.97,1286.18 L982.35,1284.3 L983.73,1282.43 L985.11,1280.58 L986.49,1278.73 L987.87,1276.89 L989.25,1275.06 L990.63,1273.25 L992.02,1271.44 L993.4,1269.65 L994.78,1267.87 L996.16,1266.09 L997.54,1264.33 L998.92,1262.58 L1000.3,1260.84 L1001.68,1259.11 L1003.06,1257.39 L1004.45,1255.69 L1005.83,1253.99 L1007.21,1252.3 L1008.59,1250.63 L1009.97,1248.97 L1011.35,1247.32 L1012.73,1245.68 L1014.11,1244.05 L1015.49,1242.43 L1016.87,1240.82 L1018.26,1239.22 L1019.64,1237.64 L1021.02,1236.06 L1022.4,1234.5 L1023.78,1232.95 L1025.16,1231.41 L1026.54,1229.88 L1027.92,1228.36 L1029.3,1226.85 L1030.69,1225.35 L1032.07,1223.87 L1033.45,1222.39 L1034.83,1220.93 L1036.21,1219.48 L1037.59,1218.04 L1038.97,1216.6 L1040.35,1215.18 L1041.73,1213.77 L1043.11,1212.38 L1044.5,1210.99 L1045.88,1209.61 L1047.26,1208.25 L1048.64,1206.89 L1050.02,1205.55 L1051.4,1204.21 L1052.78,1202.89 L1054.16,1201.57 L1055.54,1200.27 L1056.93,1198.98 L1058.31,1197.7 L1059.69,1196.43 L1061.07,1195.17 L1062.45,1193.92 L1063.83,1192.68 L1065.21,1191.45 L1066.59,1190.23 L1067.97,1189.02 L1069.35,1187.82 L1070.74,1186.63 L1072.12,1185.45 L1073.5,1184.28 L1074.88,1183.13 L1076.26,1181.98 L1077.64,1180.84 L1079.02,1179.71 L1080.4,1178.59 L1081.78,1177.48 L1083.17,1176.38 L1084.55,1175.29 L1085.93,1174.21 L1087.31,1173.14 L1088.69,1172.08 L1090.07,1171.02 L1091.45,1169.98 L1092.83,1168.95 L1094.21,1167.92 L1095.59,1166.91 L1096.98,1165.9 L1098.36,1164.91 L1099.74,1163.92 L1101.12,1162.94 L1102.5,1161.97 L1103.88,1161.01 L1105.26,1160.06 L1106.64,1159.11 L1108.02,1158.18 L1109.41,1157.26 L1110.79,1156.34 L1112.17,1155.43 L1113.55,1154.53 L1114.93,1153.64 L1116.31,1152.76 L1117.69,1151.88 L1119.07,1151.02 L1120.45,1150.16 L1121.83,1149.31 L1123.22,1148.47 L1124.6,1147.63 L1125.98,1146.81 L1127.36,1145.99 L1128.74,1145.18 L1130.12,1144.38 L1131.5,1143.59 L1132.88,1142.8 L1134.26,1142.02 L1135.65,1141.25 L1137.03,1140.49 L1138.41,1139.73 L1139.79,1138.99 L1141.17,1138.25 L1142.55,1137.51 L1143.93,1136.79 L1145.31,1136.07 L1146.69,1135.36 L1148.07,1134.65 L1149.46,1133.96 L1150.84,1133.27 L1152.22,1132.59 L1153.6,1131.91 L1154.98,1131.24 L1156.36,1130.58 L1157.74,1129.92 L1159.12,1129.27 L1160.5,1128.63 L1161.89,1128 L1163.27,1127.37 L1164.65,1126.75 L1166.03,1126.13 L1167.41,1125.52 L1168.79,1124.92 L1170.17,1124.32 L1171.55,1123.73 L1172.93,1123.15 L1174.31,1122.57 L1175.7,1122 L1177.08,1121.43 L1178.46,1120.87 L1179.84,1120.32 L1181.22,1119.77 L1182.6,1119.23 L1183.98,1118.69 L1185.36,1118.16 L1186.74,1117.64 L1188.13,1117.12 L1189.51,1116.6 L1190.89,1116.09 L1192.27,1115.59 L1193.65,1115.09 L1195.03,1114.6 L1196.41,1114.12 L1197.79,1113.64 L1199.17,1113.16 L1200.55,1112.69 L1201.94,1112.22 L1203.32,1111.76 L1204.7,1111.31 L1206.08,1110.86 L1207.46,1110.41 L1208.84,1109.97 L1210.22,1109.54 L1211.6,1109.11 L1212.98,1108.68 L1214.37,1108.26 L1215.75,1107.84 L1217.13,1107.43 L1218.51,1107.03 L1219.89,1106.62 L1221.27,1106.23 L1222.65,1105.83 L1224.03,1105.44 L1225.41,1105.06 L1226.79,1104.68 L1228.18,1104.3 L1229.56,1103.93 L1230.94,1103.56 L1232.32,1103.2 L1233.7,1102.84 L1235.08,1102.49 L1236.46,1102.14 L1237.84,1101.79 L1239.22,1101.45 L1240.61,1101.11 L1241.99,1100.77 L1243.37,1100.44 L1244.75,1100.12 L1246.13,1099.79 L1247.51,1099.47 L1248.89,1099.16 L1250.27,1098.85 L1251.65,1098.54 L1253.03,1098.23 L1254.42,1097.93 L1255.8,1097.63 L1257.18,1097.34 L1258.56,1097.05 L1259.94,1096.76 L1261.32,1096.48 L1262.7,1096.2 L1264.08,1095.92 L1265.46,1095.65 L1266.85,1095.38 L1268.23,1095.11 L1269.61,1094.84 L1270.99,1094.58 L1272.37,1094.33 L1273.75,1094.07 L1275.13,1093.82 L1276.51,1093.57 L1277.89,1093.32 L1279.27,1093.08 L1280.66,1092.84 L1282.04,1092.6 L1283.42,1092.37 L1284.8,1092.14 L1286.18,1091.91 L1287.56,1091.69 L1288.94,1091.46 L1290.32,1091.24 L1291.7,1091.03 L1293.09,1090.81 L1294.47,1090.6 L1295.85,1090.39 L1297.23,1090.18 L1298.61,1089.98 L1299.99,1089.78 L1301.37,1089.58 L1302.75,1089.38 L1304.13,1089.19 L1305.51,1088.99 L1306.9,1088.8 L1308.28,1088.62 L1309.66,1088.43 L1311.04,1088.25 L1312.42,1088.07 L1313.8,1087.89 L1315.18,1087.71 L1316.56,1087.54 L1317.94,1087.37 L1319.33,1087.2 L1320.71,1087.03 L1322.09,1086.87 L1323.47,1086.71 L1324.85,1086.54 L1326.23,1086.39 L1327.61,1086.23 L1328.99,1086.07 L1330.37,1085.92 L1331.75,1085.77 L1333.14,1085.62 L1334.52,1085.47 L1335.9,1085.33 L1337.28,1085.18 L1338.66,1085.04 L1340.04,1084.9 L1341.42,1084.77 L1342.8,1084.63 L1344.18,1084.49 L1345.57,1084.36 L1346.95,1084.23 L1348.33,1084.1 L1349.71,1083.97 L1351.09,1083.85 L1352.47,1083.72 L1353.85,1083.6 L1355.23,1083.48 L1356.61,1083.36 L1357.99,1083.24 L1359.38,1083.13 L1360.76,1083.01 L1362.14,1082.9 L1363.52,1082.79 L1364.9,1082.68 L1366.28,1082.57 L1367.66,1082.46 L1369.04,1082.35 L1370.42,1082.25 L1371.81,1082.14 L1373.19,1082.04 L1374.57,1081.94 L1375.95,1081.84 L1377.33,1081.74 L1378.71,1081.65 L1380.09,1081.55 L1381.47,1081.46 L1382.85,1081.36 L1384.23,1081.27 L1385.62,1081.18 L1387,1081.09 L1388.38,1081 L1389.76,1080.92 L1391.14,1080.83" fill="none" stroke="#d20000" stroke-width="4.0" stroke-dasharray="41 11.5"  stroke-linejoin="round"/>
<path d="M840.1,1489.5 L841.48,1489.44 L842.86,1489.32 L844.24,1489.16 L845.62,1488.96 L847.01,1488.72 L848.39,1488.46 L849.77,1488.17 L851.15,1487.85 L852.53,1487.51 L853.91,1487.15 L855.29,1486.77 L856.67,1486.36 L858.05,1485.94 L859.43,1485.49 L860.82,1485.03 L862.2,1484.55 L863.58,1484.05 L864.96,1483.54 L866.34,1483.01 L867.72,1482.46 L869.1,1481.9 L870.48,1481.33 L871.86,1480.74 L873.25,1480.13 L874.63,1479.52 L876.01,1478.89 L877.39,1478.24 L878.77,1477.59 L880.15,1476.92 L881.53,1476.24 L882.91,1475.55 L884.29,1474.85 L885.67,1474.14 L887.06,1473.42 L888.44,1472.69 L889.82,1471.94 L891.2,1471.19 L892.58,1470.43 L893.96,1469.66 L895.34,1468.88 L896.72,1468.09 L898.1,1467.29 L899.49,1466.49 L900.87,1465.68 L902.25,1464.86 L903.63,1464.03 L905.01,1463.2 L906.39,1462.35 L907.77,1461.51 L909.15,1460.65 L910.53,1459.79 L911.91,1458.92 L913.3,1458.05 L914.68,1457.17 L916.06,1456.29 L917.44,1455.4 L918.82,1454.5 L920.2,1453.6 L921.58,1452.7 L922.96,1451.79 L924.34,1450.87 L925.73,1449.95 L927.11,1449.03 L928.49,1448.11 L929.87,1447.18 L931.25,1446.24 L932.63,1445.31 L934.01,1444.37 L935.39,1443.42 L936.77,1442.48 L938.15,1441.53 L939.54,1440.58 L940.92,1439.62 L942.3,1438.67 L943.68,1437.71 L945.06,1436.75 L946.44,1435.78 L947.82,1434.82 L949.2,1433.85 L950.58,1432.89 L951.97,1431.92 L953.35,1430.95 L954.73,1429.98 L956.11,1429 L957.49,1428.03 L958.87,1427.06 L960.25,1426.08 L961.63,1425.11 L963.01,1424.13 L964.39,1423.16 L965.78,1422.18 L967.16,1421.21 L968.54,1420.23 L969.92,1419.26 L971.3,1418.28 L972.68,1417.31 L974.06,1416.33 L975.44,1415.36 L976.82,1414.39 L978.21,1413.42 L979.59,1412.45 L980.97,1411.48 L982.35,1410.51 L983.73,1409.54 L985.11,1408.58 L986.49,1407.61 L987.87,1406.65 L989.25,1405.69 L990.63,1404.73 L992.02,1403.77 L993.4,1402.81 L994.78,1401.86 L996.16,1400.91 L997.54,1399.96 L998.92,1399.01 L1000.3,1398.06 L1001.68,1397.12 L1003.06,1396.18 L1004.45,1395.24 L1005.83,1394.31 L1007.21,1393.37 L1008.59,1392.44 L1009.97,1391.51 L1011.35,1390.59 L1012.73,1389.67 L1014.11,1388.75 L1015.49,1387.83 L1016.87,1386.92 L1018.26,1386.01 L1019.64,1385.1 L1021.02,1384.19 L1022.4,1383.29 L1023.78,1382.4 L1025.16,1381.5 L1026.54,1380.61 L1027.92,1379.73 L1029.3,1378.84 L1030.69,1377.96 L1032.07,1377.08 L1033.45,1376.21 L1034.83,1375.34 L1036.21,1374.48 L1037.59,1373.62 L1038.97,1372.76 L1040.35,1371.9 L1041.73,1371.05 L1043.11,1370.21 L1044.5,1369.37 L1045.88,1368.53 L1047.26,1367.69 L1048.64,1366.86 L1050.02,1366.04 L1051.4,1365.22 L1052.78,1364.4 L1054.16,1363.58 L1055.54,1362.78 L1056.93,1361.97 L1058.31,1361.17 L1059.69,1360.37 L1061.07,1359.58 L1062.45,1358.79 L1063.83,1358.01 L1065.21,1357.23 L1066.59,1356.46 L1067.97,1355.69 L1069.35,1354.92 L1070.74,1354.16 L1072.12,1353.4 L1073.5,1352.65 L1074.88,1351.9 L1076.26,1351.16 L1077.64,1350.42 L1079.02,1349.68 L1080.4,1348.95 L1081.78,1348.23 L1083.17,1347.51 L1084.55,1346.79 L1085.93,1346.08 L1087.31,1345.37 L1088.69,1344.67 L1090.07,1343.97 L1091.45,1343.28 L1092.83,1342.59 L1094.21,1341.91 L1095.59,1341.23 L1096.98,1340.55 L1098.36,1339.88 L1099.74,1339.22 L1101.12,1338.56 L1102.5,1337.9 L1103.88,1337.25 L1105.26,1336.6 L1106.64,1335.96 L1108.02,1335.32 L1109.41,1334.69 L1110.79,1334.06 L1112.17,1333.44 L1113.55,1332.82 L1114.93,1332.2 L1116.31,1331.59 L1117.69,1330.99 L1119.07,1330.39 L1120.45,1329.79 L1121.83,1329.2 L1123.22,1328.61 L1124.6,1328.03 L1125.98,1327.45 L1127.36,1326.88 L1128.74,1326.31 L1130.12,1325.75 L1131.5,1325.19 L1132.88,1324.63 L1134.26,1324.08 L1135.65,1323.53 L1137.03,1322.99 L1138.41,1322.45 L1139.79,1321.92 L1141.17,1321.39 L1142.55,1320.87 L1143.93,1320.35 L1145.31,1319.83 L1146.69,1319.32 L1148.07,1318.81 L1149.46,1318.31 L1150.84,1317.81 L1152.22,1317.32 L1153.6,1316.83 L1154.98,1316.34 L1156.36,1315.86 L1157.74,1315.39 L1159.12,1314.91 L1160.5,1314.44 L1161.89,1313.98 L1163.27,1313.52 L1164.65,1313.06 L1166.03,1312.61 L1167.41,1312.16 L1168.79,1311.72 L1170.17,1311.28 L1171.55,1310.84 L1172.93,1310.41 L1174.31,1309.99 L1175.7,1309.56 L1177.08,1309.14 L1178.46,1308.73 L1179.84,1308.31 L1181.22,1307.91 L1182.6,1307.5 L1183.98,1307.1 L1185.36,1306.71 L1186.74,1306.31 L1188.13,1305.93 L1189.51,1305.54 L1190.89,1305.16 L1192.27,1304.78 L1193.65,1304.41 L1195.03,1304.04 L1196.41,1303.67 L1197.79,1303.31 L1199.17,1302.95 L1200.55,1302.59 L1201.94,1302.24 L1203.32,1301.89 L1204.7,1301.55 L1206.08,1301.21 L1207.46,1300.87 L1208.84,1300.53 L1210.22,1300.2 L1211.6,1299.88 L1212.98,1299.55 L1214.37,1299.23 L1215.75,1298.91 L1217.13,1298.6 L1218.51,1298.29 L1219.89,1297.98 L1221.27,1297.67 L1222.65,1297.37 L1224.03,1297.08 L1225.41,1296.78 L1226.79,1296.49 L1228.18,1296.2 L1229.56,1295.91 L1230.94,1295.63 L1232.32,1295.35 L1233.7,1295.08 L1235.08,1294.8 L1236.46,1294.53 L1237.84,1294.26 L1239.22,1294 L1240.61,1293.74 L1241.99,1293.48 L1243.37,1293.22 L1244.75,1292.97 L1246.13,1292.72 L1247.51,1292.47 L1248.89,1292.23 L1250.27,1291.99 L1251.65,1291.75 L1253.03,1291.51 L1254.42,1291.28 L1255.8,1291.05 L1257.18,1290.82 L1258.56,1290.59 L1259.94,1290.37 L1261.32,1290.15 L1262.7,1289.93 L1264.08,1289.72 L1265.46,1289.5 L1266.85,1289.29 L1268.23,1289.08 L1269.61,1288.88 L1270.99,1288.68 L1272.37,1288.47 L1273.75,1288.28 L1275.13,1288.08 L1276.51,1287.89 L1277.89,1287.69 L1279.27,1287.51 L1280.66,1287.32 L1282.04,1287.13 L1283.42,1286.95 L1284.8,1286.77 L1286.18,1286.59 L1287.56,1286.42 L1288.94,1286.24 L1290.32,1286.07 L1291.7,1285.9 L1293.09,1285.73 L1294.47,1285.57 L1295.85,1285.41 L1297.23,1285.24 L1298.61,1285.09 L1299.99,1284.93 L1301.37,1284.77 L1302.75,1284.62 L1304.13,1284.47 L1305.51,1284.32 L1306.9,1284.17 L1308.28,1284.02 L1309.66,1283.88 L1311.04,1283.74 L1312.42,1283.6 L1313.8,1283.46 L1315.18,1283.32 L1316.56,1283.19 L1317.94,1283.05 L1319.33,1282.92 L1320.71,1282.79 L1322.09,1282.66 L1323.47,1282.54 L1324.85,1282.41 L1326.23,1282.29 L1327.61,1282.17 L1328.99,1282.05 L1330.37,1281.93 L1331.75,1281.81 L1333.14,1281.69 L1334.52,1281.58 L1335.9,1281.47 L1337.28,1281.36 L1338.66,1281.25 L1340.04,1281.14 L1341.42,1281.03 L1342.8,1280.93 L1344.18,1280.82 L1345.57,1280.72 L1346.95,1280.62 L1348.33,1280.52 L1349.71,1280.42 L1351.09,1280.33 L1352.47,1280.23 L1353.85,1280.14 L1355.23,1280.04 L1356.61,1279.95 L1357.99,1279.86 L1359.38,1279.77 L1360.76,1279.68 L1362.14,1279.6 L1363.52,1279.51 L1364.9,1279.43 L1366.28,1279.34 L1367.66,1279.26 L1369.04,1279.18 L1370.42,1279.1 L1371.81,1279.02 L1373.19,1278.94 L1374.57,1278.87 L1375.95,1278.79 L1377.33,1278.72 L1378.71,1278.64 L1380.09,1278.57 L1381.47,1278.5 L1382.85,1278.43 L1384.23,1278.36 L1385.62,1278.29 L1387,1278.22 L1388.38,1278.16 L1389.76,1278.09 L1391.14,1278.03" fill="none" stroke="#0fd0d0" stroke-width="4.0" stroke-dasharray="41 9 4 9"  stroke-linejoin="round"/>
<path d="M840.1,1489.5 L841.48,1489.49 L842.86,1489.48 L844.24,1489.47 L845.62,1489.46 L847.01,1489.44 L848.39,1489.43 L849.77,1489.42 L851.15,1489.41 L852.53,1489.4 L853.91,1489.39 L855.29,1489.37 L856.67,1489.36 L858.05,1489.35 L859.43,1489.34 L860.82,1489.33 L862.2,1489.31 L863.58,1489.3 L864.96,1489.29 L866.34,1489.28 L867.72,1489.27 L869.1,1489.25 L870.48,1489.24 L871.86,1489.23 L873.25,1489.22 L874.63,1489.2 L876.01,1489.19 L877.39,1489.18 L878.77,1489.17 L880.15,1489.16 L881.53,1489.14 L882.91,1489.13 L884.29,1489.12 L885.67,1489.11 L887.06,1489.09 L888.44,1489.08 L889.82,1489.07 L891.2,1489.06 L892.58,1489.05 L893.96,1489.03 L895.34,1489.02 L896.72,1489.01 L898.1,1489 L899.49,1488.98 L900.87,1488.97 L902.25,1488.96 L903.63,1488.95 L905.01,1488.93 L906.39,1488.92 L907.77,1488.91 L909.15,1488.9 L910.53,1488.89 L911.91,1488.87 L913.3,1488.86 L914.68,1488.85 L916.06,1488.84 L917.44,1488.82 L918.82,1488.81 L920.2,1488.8 L921.58,1488.79 L922.96,1488.77 L924.34,1488.76 L925.73,1488.75 L927.11,1488.74 L928.49,1488.72 L929.87,1488.71 L931.25,1488.7 L932.63,1488.69 L934.01,1488.68 L935.39,1488.66 L936.77,1488.65 L938.15,1488.64 L939.54,1488.63 L940.92,1488.61 L942.3,1488.6 L943.68,1488.59 L945.06,1488.58 L946.44,1488.56 L947.82,1488.55 L949.2,1488.54 L950.58,1488.53 L951.97,1488.51 L953.35,1488.5 L954.73,1488.49 L956.11,1488.48 L957.49,1488.46 L958.87,1488.45 L960.25,1488.44 L961.63,1488.43 L963.01,1488.41 L964.39,1488.4 L965.78,1488.39 L967.16,1488.38 L968.54,1488.37 L969.92,1488.35 L971.3,1488.34 L972.68,1488.33 L974.06,1488.32 L975.44,1488.3 L976.82,1488.29 L978.21,1488.28 L979.59,1488.27 L980.97,1488.25 L982.35,1488.24 L983.73,1488.23 L985.11,1488.22 L986.49,1488.2 L987.87,1488.19 L989.25,1488.18 L990.63,1488.17 L992.02,1488.15 L993.4,1488.14 L994.78,1488.13 L996.16,1488.12 L997.54,1488.1 L998.92,1488.09 L1000.3,1488.08 L1001.68,1488.07 L1003.06,1488.05 L1004.45,1488.04 L1005.83,1488.03 L1007.21,1488.02 L1008.59,1488.01 L1009.97,1487.99 L1011.35,1487.98 L1012.73,1487.97 L1014.11,1487.96 L1015.49,1487.94 L1016.87,1487.93 L1018.26,1487.92 L1019.64,1487.91 L1021.02,1487.89 L1022.4,1487.88 L1023.78,1487.87 L1025.16,1487.86 L1026.54,1487.84 L1027.92,1487.83 L1029.3,1487.82 L1030.69,1487.81 L1032.07,1487.79 L1033.45,1487.78 L1034.83,1487.77 L1036.21,1487.76 L1037.59,1487.75 L1038.97,1487.73 L1040.35,1487.72 L1041.73,1487.71 L1043.11,1487.7 L1044.5,1487.68 L1045.88,1487.67 L1047.26,1487.66 L1048.64,1487.65 L1050.02,1487.63 L1051.4,1487.62 L1052.78,1487.61 L1054.16,1487.6 L1055.54,1487.58 L1056.93,1487.57 L1058.31,1487.56 L1059.69,1487.55 L1061.07,1487.53 L1062.45,1487.52 L1063.83,1487.51 L1065.21,1487.5 L1066.59,1487.49 L1067.97,1487.47 L1069.35,1487.46 L1070.74,1487.45 L1072.12,1487.44 L1073.5,1487.42 L1074.88,1487.41 L1076.26,1487.4 L1077.64,1487.39 L1079.02,1487.37 L1080.4,1487.36 L1081.78,1487.35 L1083.17,1487.34 L1084.55,1487.33 L1085.93,1487.31 L1087.31,1487.3 L1088.69,1487.29 L1090.07,1487.28 L1091.45,1487.26 L1092.83,1487.25 L1094.21,1487.24 L1095.59,1487.23 L1096.98,1487.21 L1098.36,1487.2 L1099.74,1487.19 L1101.12,1487.18 L1102.5,1487.17 L1103.88,1487.15 L1105.26,1487.14 L1106.64,1487.13 L1108.02,1487.12 L1109.41,1487.1 L1110.79,1487.09 L1112.17,1487.08 L1113.55,1487.07 L1114.93,1487.06 L1116.31,1487.04 L1117.69,1487.03 L1119.07,1487.02 L1120.45,1487.01 L1121.83,1486.99 L1123.22,1486.98 L1124.6,1486.97 L1125.98,1486.96 L1127.36,1486.94 L1128.74,1486.93 L1130.12,1486.92 L1131.5,1486.91 L1132.88,1486.9 L1134.26,1486.88 L1135.65,1486.87 L1137.03,1486.86 L1138.41,1486.85 L1139.79,1486.83 L1141.17,1486.82 L1142.55,1486.81 L1143.93,1486.8 L1145.31,1486.79 L1146.69,1486.77 L1148.07,1486.76 L1149.46,1486.75 L1150.84,1486.74 L1152.22,1486.72 L1153.6,1486.71 L1154.98,1486.7 L1156.36,1486.69 L1157.74,1486.68 L1159.12,1486.66 L1160.5,1486.65 L1161.89,1486.64 L1163.27,1486.63 L1164.65,1486.62 L1166.03,1486.6 L1167.41,1486.59 L1168.79,1486.58 L1170.17,1486.57 L1171.55,1486.55 L1172.93,1486.54 L1174.31,1486.53 L1175.7,1486.52 L1177.08,1486.51 L1178.46,1486.49 L1179.84,1486.48 L1181.22,1486.47 L1182.6,1486.46 L1183.98,1486.44 L1185.36,1486.43 L1186.74,1486.42 L1188.13,1486.41 L1189.51,1486.4 L1190.89,1486.38 L1192.27,1486.37 L1193.65,1486.36 L1195.03,1486.35 L1196.41,1486.34 L1197.79,1486.32 L1199.17,1486.31 L1200.55,1486.3 L1201.94,1486.29 L1203.32,1486.28 L1204.7,1486.26 L1206.08,1486.25 L1207.46,1486.24 L1208.84,1486.23 L1210.22,1486.21 L1211.6,1486.2 L1212.98,1486.19 L1214.37,1486.18 L1215.75,1486.17 L1217.13,1486.15 L1218.51,1486.14 L1219.89,1486.13 L1221.27,1486.12 L1222.65,1486.11 L1224.03,1486.09 L1225.41,1486.08 L1226.79,1486.07 L1228.18,1486.06 L1229.56,1486.05 L1230.94,1486.03 L1232.32,1486.02 L1233.7,1486.01 L1235.08,1486 L1236.46,1485.99 L1237.84,1485.97 L1239.22,1485.96 L1240.61,1485.95 L1241.99,1485.94 L1243.37,1485.93 L1244.75,1485.91 L1246.13,1485.9 L1247.51,1485.89 L1248.89,1485.88 L1250.27,1485.87 L1251.65,1485.85 L1253.03,1485.84 L1254.42,1485.83 L1255.8,1485.82 L1257.18,1485.81 L1258.56,1485.79 L1259.94,1485.78 L1261.32,1485.77 L1262.7,1485.76 L1264.08,1485.75 L1265.46,1485.73 L1266.85,1485.72 L1268.23,1485.71 L1269.61,1485.7 L1270.99,1485.69 L1272.37,1485.67 L1273.75,1485.66 L1275.13,1485.65 L1276.51,1485.64 L1277.89,1485.63 L1279.27,1485.61 L1280.66,1485.6 L1282.04,1485.59 L1283.42,1485.58 L1284.8,1485.57 L1286.18,1485.55 L1287.56,1485.54 L1288.94,1485.53 L1290.32,1485.52 L1291.7,1485.51 L1293.09,1485.5 L1294.47,1485.48 L1295.85,1485.47 L1297.23,1485.46 L1298.61,1485.45 L1299.99,1485.44 L1301.37,1485.42 L1302.75,1485.41 L1304.13,1485.4 L1305.51,1485.39 L1306.9,1485.38 L1308.28,1485.36 L1309.66,1485.35 L1311.04,1485.34 L1312.42,1485.33 L1313.8,1485.32 L1315.18,1485.31 L1316.56,1485.29 L1317.94,1485.28 L1319.33,1485.27 L1320.71,1485.26 L1322.09,1485.25 L1323.47,1485.23 L1324.85,1485.22 L1326.23,1485.21 L1327.61,1485.2 L1328.99,1485.19 L1330.37,1485.17 L1331.75,1485.16 L1333.14,1485.15 L1334.52,1485.14 L1335.9,1485.13 L1337.28,1485.12 L1338.66,1485.1 L1340.04,1485.09 L1341.42,1485.08 L1342.8,1485.07 L1344.18,1485.06 L1345.57,1485.05 L1346.95,1485.03 L1348.33,1485.02 L1349.71,1485.01 L1351.09,1485 L1352.47,1484.99 L1353.85,1484.97 L1355.23,1484.96 L1356.61,1484.95 L1357.99,1484.94 L1359.38,1484.93 L1360.76,1484.92 L1362.14,1484.9 L1363.52,1484.89 L1364.9,1484.88 L1366.28,1484.87 L1367.66,1484.86 L1369.04,1484.85 L1370.42,1484.83 L1371.81,1484.82 L1373.19,1484.81 L1374.57,1484.8 L1375.95,1484.79 L1377.33,1484.77 L1378.71,1484.76 L1380.09,1484.75 L1381.47,1484.74 L1382.85,1484.73 L1384.23,1484.72 L1385.62,1484.7 L1387,1484.69 L1388.38,1484.68 L1389.76,1484.67 L1391.14,1484.66" fill="none" stroke="#c000c8" stroke-width="4.0"   stroke-linejoin="round"/>
<rect x="837" y="861.8" width="556.8" height="631.1" fill="none" stroke="#5a5a5a" stroke-width="1.7"/>
<path d="M837,1489.5 h6.5 M1393.8,1489.5 h-6.5" stroke="#5a5a5a" stroke-width="1.5"/>
<text x="833.9" y="1499.1" text-anchor="end">0</text>
<path d="M837,1438.6 h6.5 M1393.8,1438.6 h-6.5" stroke="#5a5a5a" stroke-width="1.5"/>
<text x="833.9" y="1448.2" text-anchor="end">0.2</text>
<path d="M837,1387.7 h6.5 M1393.8,1387.7 h-6.5" stroke="#5a5a5a" stroke-width="1.5"/>
<text x="833.9" y="1397.3" text-anchor="end">0.4</text>
<path d="M837,1336.8 h6.5 M1393.8,1336.8 h-6.5" stroke="#5a5a5a" stroke-width="1.5"/>
<text x="833.9" y="1346.4" text-anchor="end">0.6</text>
<path d="M837,1285.9 h6.5 M1393.8,1285.9 h-6.5" stroke="#5a5a5a" stroke-width="1.5"/>
<text x="833.9" y="1295.5" text-anchor="end">0.8</text>
<path d="M837,1235 h6.5 M1393.8,1235 h-6.5" stroke="#5a5a5a" stroke-width="1.5"/>
<text x="833.9" y="1244.6" text-anchor="end">1</text>
<path d="M837,1184.1 h6.5 M1393.8,1184.1 h-6.5" stroke="#5a5a5a" stroke-width="1.5"/>
<text x="833.9" y="1193.7" text-anchor="end">1.2</text>
<path d="M837,1133.2 h6.5 M1393.8,1133.2 h-6.5" stroke="#5a5a5a" stroke-width="1.5"/>
<text x="833.9" y="1142.8" text-anchor="end">1.4</text>
<path d="M837,1082.3 h6.5 M1393.8,1082.3 h-6.5" stroke="#5a5a5a" stroke-width="1.5"/>
<text x="833.9" y="1091.9" text-anchor="end">1.6</text>
<path d="M837,1031.4 h6.5 M1393.8,1031.4 h-6.5" stroke="#5a5a5a" stroke-width="1.5"/>
<text x="833.9" y="1041" text-anchor="end">1.8</text>
<path d="M837,980.5 h6.5 M1393.8,980.5 h-6.5" stroke="#5a5a5a" stroke-width="1.5"/>
<text x="833.9" y="990.1" text-anchor="end">2</text>
<path d="M837,929.6 h6.5 M1393.8,929.6 h-6.5" stroke="#5a5a5a" stroke-width="1.5"/>
<text x="833.9" y="939.2" text-anchor="end">2.2</text>
<path d="M837,878.7 h6.5 M1393.8,878.7 h-6.5" stroke="#5a5a5a" stroke-width="1.5"/>
<text x="833.9" y="888.3" text-anchor="end">2.4</text>
<path d="M840.1,1492.9 v-6.5 M840.1,861.8 v6.5" stroke="#5a5a5a" stroke-width="1.5"/>
<text x="841.6" y="1524.6" text-anchor="middle">0</text>
<path d="M1069.7,1492.9 v-6.5 M1069.7,861.8 v6.5" stroke="#5a5a5a" stroke-width="1.5"/>
<text x="1071.2" y="1524.6" text-anchor="middle">20</text>
<path d="M1299.3,1492.9 v-6.5 M1299.3,861.8 v6.5" stroke="#5a5a5a" stroke-width="1.5"/>
<text x="1300.8" y="1524.6" text-anchor="middle">40</text>
<text x="1059.6" y="1548.1" textLength="113.5" lengthAdjust="spacing">Time (h)</text>
<rect x="849" y="879.6" width="226.1" height="209.3" fill="#cdcdcd"/>
<rect x="852.2" y="876.4" width="226.1" height="209.3" fill="#fff" stroke="#555" stroke-width="1.6"/>
<path d="M862.1,902.7 H903.9" stroke="#1a35f5" stroke-width="3" stroke-linecap="round"/>
<text x="912.9" y="915.8" font-size="26.9">e-catheter</text>
<path d="M862.4,942.9 h0.01 M870.8,942.9 h0.01 M879.2,942.9 h0.01 M887.6,942.9 h0.01 M896,942.9 h0.01 M904.4,942.9 h0.01" stroke="#22b533" stroke-width="3.5" stroke-linecap="round"/>
<text x="912.9" y="956" font-size="26.9">hub</text>
<path d="M862.1,983 H877.4 M888.6,983 H903.9" stroke="#d20000" stroke-width="3" stroke-linecap="round"/>
<text x="912.9" y="990.7" font-size="26.9">luer top</text>
<path d="M860.8,1022.9 H864.6 M871.4,1022.9 H905.5" stroke="#0fd0d0" stroke-width="3.2"/>
<text x="912.9" y="1036.3" font-size="26.9">luer bottom</text>
<path d="M862.1,1063 H903.9" stroke="#c000c8" stroke-width="3" stroke-linecap="round"/>
<text x="912.9" y="1075.7" font-size="26.9">tube</text>
</g>
<rect x="1670.4" y="200" width="3.6" height="525.8" fill="#33368f"/>
<defs><linearGradient id="sredc" x1="0" y1="0" x2="0" y2="1"><stop offset="0" stop-color="#c82620"/><stop offset="0.7" stop-color="#d0341c"/><stop offset="0.88" stop-color="#e0681c"/><stop offset="1" stop-color="#e8a020"/></linearGradient></defs>
<rect x="1666.6" y="110.6" width="11.3" height="59.3" fill="url(#sredc)"/>
<rect x="1666.6" y="110.6" width="11.3" height="59.3" fill="url(#hshade)"/>
<ellipse cx="1672.2" cy="110.6" rx="5.6" ry="2.4" fill="#b82020" stroke="#701010" stroke-width="0.8"/>
<rect x="1666.05" y="169.9" width="12.3" height="4.5" rx="2" fill="#b08818"/>
<defs><linearGradient id="sneckc" x1="0" y1="0" x2="1" y2="0"><stop offset="0" stop-color="#88c040"/><stop offset="0.5" stop-color="#f4f460"/><stop offset="1" stop-color="#80b840"/></linearGradient></defs>
<rect x="1668" y="174.4" width="8.4" height="11" rx="1.5" fill="url(#sneckc)"/>
<defs><linearGradient id="scyanc" x1="0" y1="0" x2="0" y2="1"><stop offset="0" stop-color="#48d0d0"/><stop offset="0.5" stop-color="#40a0d8"/><stop offset="1" stop-color="#3a60c8"/></linearGradient></defs>
<rect x="1670.3" y="185.4" width="3.8" height="22.2" fill="url(#scyanc)"/>
<rect x="1670.3" y="207.6" width="3.8" height="1.6" fill="#1a2a70"/>
<rect x="1652.4" y="98.9" width="40.2" height="122.1" fill="none" stroke="#111" stroke-width="1.6"/>
<rect x="1700.2" y="113.6" width="145.9" height="606" fill="none" stroke="#000" stroke-width="3.4" stroke-dasharray="13 10.7"/>
<defs><linearGradient id="bodyc" x1="0" y1="144.6" x2="0" y2="454" gradientUnits="userSpaceOnUse"><stop offset="0" stop-color="#e44646"/><stop offset="0.5" stop-color="#ea4c4a"/><stop offset="0.7" stop-color="#f05646"/><stop offset="0.83" stop-color="#f47244"/><stop offset="0.92" stop-color="#f49a44"/><stop offset="1" stop-color="#f2c044"/></linearGradient></defs>
<rect x="1745.2" y="144.6" width="57.4" height="309.4" fill="url(#bodyc)"/>
<rect x="1745.2" y="144.6" width="57.4" height="309.4" fill="url(#hshade)"/>
<path d="M1750.3,150.6 V458" stroke="#000" stroke-opacity="0.28" stroke-width="1"/>
<path d="M1756,150.6 V458" stroke="#000" stroke-opacity="0.28" stroke-width="1"/>
<path d="M1792.1,150.6 V458" stroke="#000" stroke-opacity="0.28" stroke-width="1"/>
<path d="M1797.7,150.6 V458" stroke="#000" stroke-opacity="0.28" stroke-width="1"/>
<defs><linearGradient id="rod1c" x1="0" y1="144.6" x2="0" y2="454" gradientUnits="userSpaceOnUse"><stop offset="0" stop-color="#f01818"/><stop offset="0.7" stop-color="#ff2a10"/><stop offset="0.9" stop-color="#f06010"/><stop offset="1" stop-color="#f0b020"/></linearGradient></defs>
<rect x="1759.3" y="149.6" width="4.6" height="312.4" fill="url(#rod1c)" stroke="#800" stroke-opacity="0.35" stroke-width="0.8"/>
<defs><linearGradient id="rod2c" x1="0" y1="144.6" x2="0" y2="454" gradientUnits="userSpaceOnUse"><stop offset="0" stop-color="#b81818"/><stop offset="0.7" stop-color="#e02010"/><stop offset="0.9" stop-color="#f04010"/><stop offset="1" stop-color="#f08020"/></linearGradient></defs>
<rect x="1771.7" y="144.6" width="4.6" height="310.4" fill="url(#rod2c)" stroke="#600" stroke-opacity="0.4" stroke-width="0.8"/>
<ellipse cx="1773.9" cy="144.6" rx="28.7" ry="11.8" fill="#d84848" stroke="#000" stroke-opacity="0.5" stroke-width="1.3"/>
<ellipse cx="1775.4" cy="145.4" rx="22" ry="8.6" fill="none" stroke="#000" stroke-opacity="0.45" stroke-width="1.2"/>
<ellipse cx="1774.4" cy="144.6" rx="8.5" ry="3.8" fill="none" stroke="#000" stroke-opacity="0.5" stroke-width="1.2"/>
<ellipse cx="1774.4" cy="144.6" rx="3" ry="1.6" fill="#900" fill-opacity="0.5"/>
<path d="M1744.6,457.5 A29.3,12.5 0 0 0 1803.2,457.5 V462.5 A29.3,12.5 0 0 1 1744.6,462.5 Z" fill="#eec43c" stroke="#000" stroke-opacity="0.25" stroke-width="1"/>
<ellipse cx="1773.9" cy="457.5" rx="29.3" ry="12.5" fill="#f2cc48" fill-opacity="0.85" stroke="#000" stroke-opacity="0.28" stroke-width="1"/>
<ellipse cx="1773.9" cy="458" rx="25.3" ry="10" fill="none" stroke="#000" stroke-opacity="0.15" stroke-width="1"/>
<ellipse cx="1773.9" cy="458.5" rx="19" ry="7" fill="none" stroke="#000" stroke-opacity="0.2" stroke-width="1"/>
<ellipse cx="1773.9" cy="459" rx="7" ry="3.4" fill="none" stroke="#000" stroke-opacity="0.22" stroke-width="1"/>
<defs><linearGradient id="neckc" x1="0" y1="474.5" x2="0" y2="523.8" gradientUnits="userSpaceOnUse"><stop offset="0" stop-color="#f0ec48"/><stop offset="0.3" stop-color="#f4f858"/><stop offset="0.7" stop-color="#dcf878"/><stop offset="1" stop-color="#b4f088"/></linearGradient></defs>
<path d="M1752.1,470.5 V523.8 A21.5,9.2 0 0 0 1795.1,523.8 V470.5 Z" fill="url(#neckc)"/>
<path d="M1752.1,470.5 V523.8 A21.5,9.2 0 0 0 1795.1,523.8 V470.5 Z" fill="url(#hshade)" opacity="0.6"/>
<path d="M1758.6,470.5 V529.8" stroke="#000" stroke-opacity="0.25" stroke-width="1"/>
<path d="M1762.6,470.5 V529.8" stroke="#000" stroke-opacity="0.25" stroke-width="1"/>
<path d="M1785.6,470.5 V529.8" stroke="#000" stroke-opacity="0.25" stroke-width="1"/>
<path d="M1789.6,470.5 V529.8" stroke="#000" stroke-opacity="0.25" stroke-width="1"/>
<path d="M1745.6,463 A29.3,12.5 0 0 0 1802.2,463" fill="none" stroke="#d8a820" stroke-width="2.5" stroke-opacity="0.7"/>
<ellipse cx="1773.6" cy="523.8" rx="21.5" ry="9.2" fill="#b0f088" fill-opacity="0.5" stroke="#000" stroke-opacity="0.2" stroke-width="1"/>
<ellipse cx="1773.6" cy="523.8" rx="7.5" ry="3.2" fill="none" stroke="#000" stroke-opacity="0.25" stroke-width="1"/>
<ellipse cx="1773.6" cy="523.8" rx="3" ry="1.5" fill="none" stroke="#000" stroke-opacity="0.25" stroke-width="0.8"/>
<defs><linearGradient id="tubec" x1="0" y1="532.8" x2="0" y2="718.2" gradientUnits="userSpaceOnUse"><stop offset="0" stop-color="#70f4ee"/><stop offset="0.2" stop-color="#70eef4"/><stop offset="0.45" stop-color="#68c4f4"/><stop offset="0.62" stop-color="#6898f4"/><stop offset="0.8" stop-color="#6470f4"/><stop offset="1" stop-color="#6262f0"/></linearGradient></defs>
<rect x="1764.6" y="532.8" width="16.5" height="185.4" fill="url(#tubec)"/>
<rect x="1764.6" y="532.8" width="16.5" height="185.4" fill="url(#hshade)"/>
<rect x="1776.6" y="532.8" width="3.5" height="185.4" fill="#203080" fill-opacity="0.3"/>
<ellipse cx="1772.85" cy="641" rx="8.2" ry="3" fill="none" stroke="#203080" stroke-opacity="0.5" stroke-width="1"/>
<ellipse cx="1772.85" cy="641" rx="2.5" ry="1.2" fill="none" stroke="#203080" stroke-opacity="0.4" stroke-width="0.8"/>
<rect x="1869.9" y="155.3" width="17.3" height="512.3" fill="url(#cmap)" stroke="#111" stroke-width="1"/>
<g style="font-family:'DejaVu Sans',sans-serif" font-size="27.2" fill="#000">
<path d="M1869.9,551.8 h2.6 M1887.2,551.8 h-2.6" stroke="#222" stroke-width="1"/>
<text x="1896.7" y="561.7">0.5</text>
<path d="M1869.9,436 h2.6 M1887.2,436 h-2.6" stroke="#222" stroke-width="1"/>
<text x="1896.7" y="445.9">1</text>
<path d="M1869.9,320.2 h2.6 M1887.2,320.2 h-2.6" stroke="#222" stroke-width="1"/>
<text x="1896.7" y="330.1">1.5</text>
<path d="M1869.9,204.4 h2.6 M1887.2,204.4 h-2.6" stroke="#222" stroke-width="1"/>
<text x="1896.7" y="214.3">2</text>
<path d="M1855.3,107.5 L1881.5,107.5 L1868.4,84.3 Z" fill="#000"/>
<path d="M1855.3,688.6 L1881.5,688.6 L1868.4,710.9 Z" fill="#000"/>
<text x="1893" y="108.3">2.21</text>
<text x="1893" y="709.9">8.29×10<tspan font-size="17.5" dy="-13">-41</tspan></text>
</g>
<rect x="1662.2" y="1030" width="3.6" height="513.2" fill="#33368f"/>
<defs><linearGradient id="sredf" x1="0" y1="0" x2="0" y2="1"><stop offset="0" stop-color="#c82620"/><stop offset="0.7" stop-color="#d0341c"/><stop offset="0.88" stop-color="#e0681c"/><stop offset="1" stop-color="#e8a020"/></linearGradient></defs>
<rect x="1658.4" y="939.8" width="11.3" height="60.8" fill="url(#sredf)"/>
<rect x="1658.4" y="939.8" width="11.3" height="60.8" fill="url(#hshade)"/>
<ellipse cx="1664" cy="939.8" rx="5.6" ry="2.4" fill="#b82020" stroke="#701010" stroke-width="0.8"/>
<rect x="1657.85" y="1000.6" width="12.3" height="4.5" rx="2" fill="#b08818"/>
<defs><linearGradient id="sneckf" x1="0" y1="0" x2="1" y2="0"><stop offset="0" stop-color="#88c040"/><stop offset="0.5" stop-color="#f4f460"/><stop offset="1" stop-color="#80b840"/></linearGradient></defs>
<rect x="1659.8" y="1005.1" width="8.4" height="11" rx="1.5" fill="url(#sneckf)"/>
<defs><linearGradient id="scyanf" x1="0" y1="0" x2="0" y2="1"><stop offset="0" stop-color="#48d0d0"/><stop offset="0.5" stop-color="#40a0d8"/><stop offset="1" stop-color="#3a60c8"/></linearGradient></defs>
<rect x="1662.1" y="1016.1" width="3.8" height="19.5" fill="url(#scyanf)"/>
<rect x="1662.1" y="1035.6" width="3.8" height="1.6" fill="#1a2a70"/>
<rect x="1644.3" y="929.3" width="40.2" height="122.7" fill="none" stroke="#111" stroke-width="1.6"/>
<rect x="1700.3" y="934.3" width="141.6" height="607.7" fill="none" stroke="#000" stroke-width="3.4" stroke-dasharray="13 10.7"/>
<defs><linearGradient id="bodyf" x1="0" y1="964.2" x2="0" y2="1277.5" gradientUnits="userSpaceOnUse"><stop offset="0" stop-color="#e44646"/><stop offset="0.5" stop-color="#ea4c4a"/><stop offset="0.7" stop-color="#f05646"/><stop offset="0.83" stop-color="#f47244"/><stop offset="0.92" stop-color="#f49a44"/><stop offset="1" stop-color="#f2c044"/></linearGradient></defs>
<rect x="1739.5" y="964.2" width="59" height="313.3" fill="url(#bodyf)"/>
<rect x="1739.5" y="964.2" width="59" height="313.3" fill="url(#hshade)"/>
<path d="M1745.4,970.2 V1281.5" stroke="#000" stroke-opacity="0.28" stroke-width="1"/>
<path d="M1751.1,970.2 V1281.5" stroke="#000" stroke-opacity="0.28" stroke-width="1"/>
<path d="M1787.2,970.2 V1281.5" stroke="#000" stroke-opacity="0.28" stroke-width="1"/>
<path d="M1792.8,970.2 V1281.5" stroke="#000" stroke-opacity="0.28" stroke-width="1"/>
<defs><linearGradient id="rod1f" x1="0" y1="964.2" x2="0" y2="1277.5" gradientUnits="userSpaceOnUse"><stop offset="0" stop-color="#f01818"/><stop offset="0.7" stop-color="#ff2a10"/><stop offset="0.9" stop-color="#f06010"/><stop offset="1" stop-color="#f0b020"/></linearGradient></defs>
<rect x="1754.4" y="969.2" width="4.6" height="316.3" fill="url(#rod1f)" stroke="#800" stroke-opacity="0.35" stroke-width="0.8"/>
<defs><linearGradient id="rod2f" x1="0" y1="964.2" x2="0" y2="1277.5" gradientUnits="userSpaceOnUse"><stop offset="0" stop-color="#b81818"/><stop offset="0.7" stop-color="#e02010"/><stop offset="0.9" stop-color="#f04010"/><stop offset="1" stop-color="#f08020"/></linearGradient></defs>
<rect x="1766.8" y="964.2" width="4.6" height="314.3" fill="url(#rod2f)" stroke="#600" stroke-opacity="0.4" stroke-width="0.8"/>
<ellipse cx="1769" cy="964.2" rx="29.5" ry="11.8" fill="#d84848" stroke="#000" stroke-opacity="0.5" stroke-width="1.3"/>
<ellipse cx="1770.5" cy="965" rx="22" ry="8.6" fill="none" stroke="#000" stroke-opacity="0.45" stroke-width="1.2"/>
<ellipse cx="1769.5" cy="964.2" rx="8.5" ry="3.8" fill="none" stroke="#000" stroke-opacity="0.5" stroke-width="1.2"/>
<ellipse cx="1769.5" cy="964.2" rx="3" ry="1.6" fill="#900" fill-opacity="0.5"/>
<path d="M1738.9,1281 A30.1,12.5 0 0 0 1799.1,1281 V1286 A30.1,12.5 0 0 1 1738.9,1286 Z" fill="#eec43c" stroke="#000" stroke-opacity="0.25" stroke-width="1"/>
<ellipse cx="1769" cy="1281" rx="30.1" ry="12.5" fill="#f2cc48" fill-opacity="0.85" stroke="#000" stroke-opacity="0.28" stroke-width="1"/>
<ellipse cx="1769" cy="1281.5" rx="26.1" ry="10" fill="none" stroke="#000" stroke-opacity="0.15" stroke-width="1"/>
<ellipse cx="1769" cy="1282" rx="19" ry="7" fill="none" stroke="#000" stroke-opacity="0.2" stroke-width="1"/>
<ellipse cx="1769" cy="1282.5" rx="7" ry="3.4" fill="none" stroke="#000" stroke-opacity="0.22" stroke-width="1"/>
<defs><linearGradient id="neckf" x1="0" y1="1298" x2="0" y2="1347.5" gradientUnits="userSpaceOnUse"><stop offset="0" stop-color="#f0ec48"/><stop offset="0.3" stop-color="#f4f858"/><stop offset="0.7" stop-color="#dcf878"/><stop offset="1" stop-color="#b4f088"/></linearGradient></defs>
<path d="M1747.5,1294 V1347.5 A21.7,9.2 0 0 0 1790.9,1347.5 V1294 Z" fill="url(#neckf)"/>
<path d="M1747.5,1294 V1347.5 A21.7,9.2 0 0 0 1790.9,1347.5 V1294 Z" fill="url(#hshade)" opacity="0.6"/>
<path d="M1754.2,1294 V1353.5" stroke="#000" stroke-opacity="0.25" stroke-width="1"/>
<path d="M1758.2,1294 V1353.5" stroke="#000" stroke-opacity="0.25" stroke-width="1"/>
<path d="M1781.2,1294 V1353.5" stroke="#000" stroke-opacity="0.25" stroke-width="1"/>
<path d="M1785.2,1294 V1353.5" stroke="#000" stroke-opacity="0.25" stroke-width="1"/>
<path d="M1739.9,1286.5 A30.1,12.5 0 0 0 1798.1,1286.5" fill="none" stroke="#d8a820" stroke-width="2.5" stroke-opacity="0.7"/>
<ellipse cx="1769.2" cy="1347.5" rx="21.7" ry="9.2" fill="#b0f088" fill-opacity="0.5" stroke="#000" stroke-opacity="0.2" stroke-width="1"/>
<ellipse cx="1769.2" cy="1347.5" rx="7.5" ry="3.2" fill="none" stroke="#000" stroke-opacity="0.25" stroke-width="1"/>
<ellipse cx="1769.2" cy="1347.5" rx="3" ry="1.5" fill="none" stroke="#000" stroke-opacity="0.25" stroke-width="0.8"/>
<defs><linearGradient id="tubef" x1="0" y1="1356.5" x2="0" y2="1541.5" gradientUnits="userSpaceOnUse"><stop offset="0" stop-color="#70f4ee"/><stop offset="0.2" stop-color="#70eef4"/><stop offset="0.45" stop-color="#68c4f4"/><stop offset="0.62" stop-color="#6898f4"/><stop offset="0.8" stop-color="#6470f4"/><stop offset="1" stop-color="#6262f0"/></linearGradient></defs>
<rect x="1761.4" y="1356.5" width="15.7" height="185" fill="url(#tubef)"/>
<rect x="1761.4" y="1356.5" width="15.7" height="185" fill="url(#hshade)"/>
<rect x="1772.6" y="1356.5" width="3.5" height="185" fill="#203080" fill-opacity="0.3"/>
<ellipse cx="1769.25" cy="1463" rx="8.2" ry="3" fill="none" stroke="#203080" stroke-opacity="0.5" stroke-width="1"/>
<ellipse cx="1769.25" cy="1463" rx="2.5" ry="1.2" fill="none" stroke="#203080" stroke-opacity="0.4" stroke-width="0.8"/>
<rect x="1873.3" y="970" width="16.9" height="514.7" fill="url(#cmap)" stroke="#111" stroke-width="1"/>
<g style="font-family:'DejaVu Sans',sans-serif" font-size="27.2" fill="#000">
<path d="M1873.3,1393.1 h2.6 M1890.2,1393.1 h-2.6" stroke="#222" stroke-width="1"/>
<text x="1899.7" y="1403">0.5</text>
<path d="M1873.3,1301.5 h2.6 M1890.2,1301.5 h-2.6" stroke="#222" stroke-width="1"/>
<text x="1899.7" y="1311.4">1</text>
<path d="M1873.3,1209.9 h2.6 M1890.2,1209.9 h-2.6" stroke="#222" stroke-width="1"/>
<text x="1899.7" y="1219.8">1.5</text>
<path d="M1873.3,1118.3 h2.6 M1890.2,1118.3 h-2.6" stroke="#222" stroke-width="1"/>
<text x="1899.7" y="1128.2">2</text>
<path d="M1873.3,1026.7 h2.6 M1890.2,1026.7 h-2.6" stroke="#222" stroke-width="1"/>
<text x="1899.7" y="1036.6">2.5</text>
<path d="M1858.5,921.7 L1884.7,921.7 L1871.6,898.5 Z" fill="#000"/>
<path d="M1858.5,1502.9 L1884.7,1502.9 L1871.6,1526.7 Z" fill="#000"/>
<text x="1896.8" y="922.5">2.81</text>
<text x="1896.8" y="1525.7">6.18×10<tspan font-size="17.5" dy="-13">-40</tspan></text>
</g>
</svg></body></html>
